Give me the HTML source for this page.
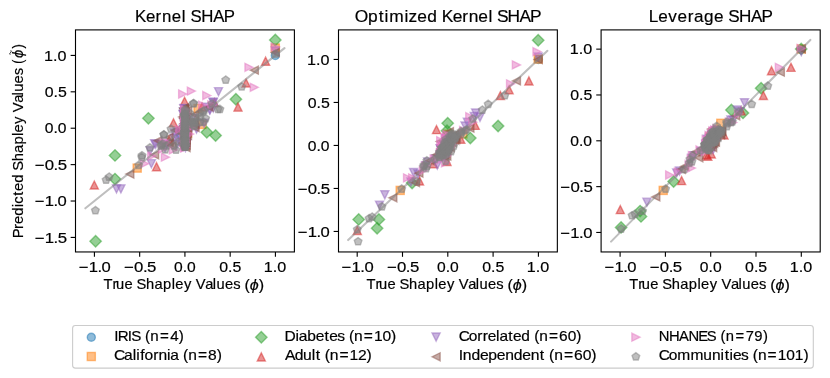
<!DOCTYPE html>
<html><head><meta charset="utf-8"><style>
html,body{margin:0;padding:0;background:#fff;width:830px;height:378px;overflow:hidden}
svg{display:block;will-change:transform}
text{font-family:"Liberation Sans",sans-serif;fill:#000;stroke:#000;stroke-width:0.18px}
</style></head><body>
<svg width="830" height="378" viewBox="0 0 830 378">
<rect width="830" height="378" fill="#fff"/>
<clipPath id="c0"><rect x="75.5" y="29.9" width="218.90" height="222.05"/></clipPath>
<g clip-path="url(#c0)">
<circle cx="275.30" cy="55.40" r="4.05" fill="#1f77b4" fill-opacity="0.5" stroke="#1f77b4" stroke-opacity="0.5" stroke-width="1.39"/>
<circle cx="180.14" cy="133.34" r="4.05" fill="#1f77b4" fill-opacity="0.5" stroke="#1f77b4" stroke-opacity="0.5" stroke-width="1.39"/>
<circle cx="185.86" cy="129.15" r="4.05" fill="#1f77b4" fill-opacity="0.5" stroke="#1f77b4" stroke-opacity="0.5" stroke-width="1.39"/>
<rect x="271.25" y="43.95" width="8.10" height="8.10" fill="#ff7f0e" fill-opacity="0.5" stroke="#ff7f0e" stroke-opacity="0.5" stroke-width="1.39"/>
<rect x="193.95" y="104.45" width="8.10" height="8.10" fill="#ff7f0e" fill-opacity="0.5" stroke="#ff7f0e" stroke-opacity="0.5" stroke-width="1.39"/>
<rect x="133.15" y="164.05" width="8.10" height="8.10" fill="#ff7f0e" fill-opacity="0.5" stroke="#ff7f0e" stroke-opacity="0.5" stroke-width="1.39"/>
<rect x="197.95" y="120.35" width="8.10" height="8.10" fill="#ff7f0e" fill-opacity="0.5" stroke="#ff7f0e" stroke-opacity="0.5" stroke-width="1.39"/>
<rect x="180.28" y="129.01" width="8.10" height="8.10" fill="#ff7f0e" fill-opacity="0.5" stroke="#ff7f0e" stroke-opacity="0.5" stroke-width="1.39"/>
<rect x="180.54" y="112.24" width="8.10" height="8.10" fill="#ff7f0e" fill-opacity="0.5" stroke="#ff7f0e" stroke-opacity="0.5" stroke-width="1.39"/>
<rect x="180.88" y="139.72" width="8.10" height="8.10" fill="#ff7f0e" fill-opacity="0.5" stroke="#ff7f0e" stroke-opacity="0.5" stroke-width="1.39"/>
<rect x="179.79" y="138.03" width="8.10" height="8.10" fill="#ff7f0e" fill-opacity="0.5" stroke="#ff7f0e" stroke-opacity="0.5" stroke-width="1.39"/>
<rect x="183.47" y="129.15" width="8.10" height="8.10" fill="#ff7f0e" fill-opacity="0.5" stroke="#ff7f0e" stroke-opacity="0.5" stroke-width="1.39"/>
<polygon points="275.30,34.27 281.03,40.00 275.30,45.73 269.57,40.00" fill="#2ca02c" fill-opacity="0.5" stroke="#2ca02c" stroke-opacity="0.5" stroke-width="1.39"/>
<polygon points="235.90,93.57 241.63,99.30 235.90,105.03 230.17,99.30" fill="#2ca02c" fill-opacity="0.5" stroke="#2ca02c" stroke-opacity="0.5" stroke-width="1.39"/>
<polygon points="206.80,126.57 212.53,132.30 206.80,138.03 201.07,132.30" fill="#2ca02c" fill-opacity="0.5" stroke="#2ca02c" stroke-opacity="0.5" stroke-width="1.39"/>
<polygon points="215.60,129.77 221.33,135.50 215.60,141.23 209.87,135.50" fill="#2ca02c" fill-opacity="0.5" stroke="#2ca02c" stroke-opacity="0.5" stroke-width="1.39"/>
<polygon points="148.40,112.62 154.13,118.35 148.40,124.08 142.67,118.35" fill="#2ca02c" fill-opacity="0.5" stroke="#2ca02c" stroke-opacity="0.5" stroke-width="1.39"/>
<polygon points="115.00,149.67 120.73,155.40 115.00,161.13 109.27,155.40" fill="#2ca02c" fill-opacity="0.5" stroke="#2ca02c" stroke-opacity="0.5" stroke-width="1.39"/>
<polygon points="115.00,173.37 120.73,179.10 115.00,184.83 109.27,179.10" fill="#2ca02c" fill-opacity="0.5" stroke="#2ca02c" stroke-opacity="0.5" stroke-width="1.39"/>
<polygon points="95.60,235.47 101.33,241.20 95.60,246.93 89.87,241.20" fill="#2ca02c" fill-opacity="0.5" stroke="#2ca02c" stroke-opacity="0.5" stroke-width="1.39"/>
<polygon points="265.60,57.15 269.65,65.25 261.55,65.25" fill="#d62728" fill-opacity="0.5" stroke="#d62728" stroke-opacity="0.5" stroke-width="1.39"/>
<polygon points="246.10,78.95 250.15,87.05 242.05,87.05" fill="#d62728" fill-opacity="0.5" stroke="#d62728" stroke-opacity="0.5" stroke-width="1.39"/>
<polygon points="238.00,103.05 242.05,111.15 233.95,111.15" fill="#d62728" fill-opacity="0.5" stroke="#d62728" stroke-opacity="0.5" stroke-width="1.39"/>
<polygon points="202.00,102.85 206.05,110.95 197.95,110.95" fill="#d62728" fill-opacity="0.5" stroke="#d62728" stroke-opacity="0.5" stroke-width="1.39"/>
<polygon points="156.50,162.65 160.55,170.75 152.45,170.75" fill="#d62728" fill-opacity="0.5" stroke="#d62728" stroke-opacity="0.5" stroke-width="1.39"/>
<polygon points="94.30,180.95 98.35,189.05 90.25,189.05" fill="#d62728" fill-opacity="0.5" stroke="#d62728" stroke-opacity="0.5" stroke-width="1.39"/>
<polygon points="184.60,97.25 188.65,105.35 180.55,105.35" fill="#d62728" fill-opacity="0.5" stroke="#d62728" stroke-opacity="0.5" stroke-width="1.39"/>
<polygon points="173.50,118.75 177.55,126.85 169.45,126.85" fill="#d62728" fill-opacity="0.5" stroke="#d62728" stroke-opacity="0.5" stroke-width="1.39"/>
<polygon points="169.00,135.95 173.05,144.05 164.95,144.05" fill="#d62728" fill-opacity="0.5" stroke="#d62728" stroke-opacity="0.5" stroke-width="1.39"/>
<polygon points="184.28,122.31 188.33,130.41 180.23,130.41" fill="#d62728" fill-opacity="0.5" stroke="#d62728" stroke-opacity="0.5" stroke-width="1.39"/>
<polygon points="214.36,98.56 218.41,106.66 210.31,106.66" fill="#d62728" fill-opacity="0.5" stroke="#d62728" stroke-opacity="0.5" stroke-width="1.39"/>
<polygon points="185.52,132.49 189.57,140.59 181.47,140.59" fill="#d62728" fill-opacity="0.5" stroke="#d62728" stroke-opacity="0.5" stroke-width="1.39"/>
<polygon points="184.07,110.14 188.12,118.24 180.02,118.24" fill="#d62728" fill-opacity="0.5" stroke="#d62728" stroke-opacity="0.5" stroke-width="1.39"/>
<polygon points="185.35,124.26 189.40,132.36 181.30,132.36" fill="#d62728" fill-opacity="0.5" stroke="#d62728" stroke-opacity="0.5" stroke-width="1.39"/>
<polygon points="184.11,108.50 188.16,116.60 180.06,116.60" fill="#d62728" fill-opacity="0.5" stroke="#d62728" stroke-opacity="0.5" stroke-width="1.39"/>
<polygon points="185.83,133.57 189.88,141.67 181.78,141.67" fill="#d62728" fill-opacity="0.5" stroke="#d62728" stroke-opacity="0.5" stroke-width="1.39"/>
<polygon points="275.30,55.05 279.35,46.95 271.25,46.95" fill="#9467bd" fill-opacity="0.5" stroke="#9467bd" stroke-opacity="0.5" stroke-width="1.39"/>
<polygon points="218.50,95.75 222.55,87.65 214.45,87.65" fill="#9467bd" fill-opacity="0.5" stroke="#9467bd" stroke-opacity="0.5" stroke-width="1.39"/>
<polygon points="213.20,106.85 217.25,98.75 209.15,98.75" fill="#9467bd" fill-opacity="0.5" stroke="#9467bd" stroke-opacity="0.5" stroke-width="1.39"/>
<polygon points="209.70,114.05 213.75,105.95 205.65,105.95" fill="#9467bd" fill-opacity="0.5" stroke="#9467bd" stroke-opacity="0.5" stroke-width="1.39"/>
<polygon points="155.60,148.45 159.65,140.35 151.55,140.35" fill="#9467bd" fill-opacity="0.5" stroke="#9467bd" stroke-opacity="0.5" stroke-width="1.39"/>
<polygon points="177.20,148.45 181.25,140.35 173.15,140.35" fill="#9467bd" fill-opacity="0.5" stroke="#9467bd" stroke-opacity="0.5" stroke-width="1.39"/>
<polygon points="151.40,167.75 155.45,159.65 147.35,159.65" fill="#9467bd" fill-opacity="0.5" stroke="#9467bd" stroke-opacity="0.5" stroke-width="1.39"/>
<polygon points="116.50,192.95 120.55,184.85 112.45,184.85" fill="#9467bd" fill-opacity="0.5" stroke="#9467bd" stroke-opacity="0.5" stroke-width="1.39"/>
<polygon points="120.90,192.95 124.95,184.85 116.85,184.85" fill="#9467bd" fill-opacity="0.5" stroke="#9467bd" stroke-opacity="0.5" stroke-width="1.39"/>
<polygon points="210.00,114.05 214.05,105.95 205.95,105.95" fill="#9467bd" fill-opacity="0.5" stroke="#9467bd" stroke-opacity="0.5" stroke-width="1.39"/>
<polygon points="213.20,106.15 217.25,98.05 209.15,98.05" fill="#9467bd" fill-opacity="0.5" stroke="#9467bd" stroke-opacity="0.5" stroke-width="1.39"/>
<polygon points="196.50,133.15 200.55,125.05 192.45,125.05" fill="#9467bd" fill-opacity="0.5" stroke="#9467bd" stroke-opacity="0.5" stroke-width="1.39"/>
<polygon points="154.60,147.75 158.65,139.65 150.55,139.65" fill="#9467bd" fill-opacity="0.5" stroke="#9467bd" stroke-opacity="0.5" stroke-width="1.39"/>
<polygon points="174.00,142.05 178.05,133.95 169.95,133.95" fill="#9467bd" fill-opacity="0.5" stroke="#9467bd" stroke-opacity="0.5" stroke-width="1.39"/>
<polygon points="177.00,136.05 181.05,127.95 172.95,127.95" fill="#9467bd" fill-opacity="0.5" stroke="#9467bd" stroke-opacity="0.5" stroke-width="1.39"/>
<polygon points="184.84,113.34 188.89,105.24 180.79,105.24" fill="#9467bd" fill-opacity="0.5" stroke="#9467bd" stroke-opacity="0.5" stroke-width="1.39"/>
<polygon points="183.73,118.60 187.78,110.50 179.68,110.50" fill="#9467bd" fill-opacity="0.5" stroke="#9467bd" stroke-opacity="0.5" stroke-width="1.39"/>
<polygon points="184.36,112.50 188.41,104.40 180.31,104.40" fill="#9467bd" fill-opacity="0.5" stroke="#9467bd" stroke-opacity="0.5" stroke-width="1.39"/>
<polygon points="183.57,138.91 187.62,130.81 179.52,130.81" fill="#9467bd" fill-opacity="0.5" stroke="#9467bd" stroke-opacity="0.5" stroke-width="1.39"/>
<polygon points="206.47,111.35 210.52,103.25 202.42,103.25" fill="#9467bd" fill-opacity="0.5" stroke="#9467bd" stroke-opacity="0.5" stroke-width="1.39"/>
<polygon points="192.67,122.28 196.72,114.18 188.62,114.18" fill="#9467bd" fill-opacity="0.5" stroke="#9467bd" stroke-opacity="0.5" stroke-width="1.39"/>
<polygon points="184.51,121.93 188.56,113.83 180.46,113.83" fill="#9467bd" fill-opacity="0.5" stroke="#9467bd" stroke-opacity="0.5" stroke-width="1.39"/>
<polygon points="183.69,126.63 187.74,118.53 179.64,118.53" fill="#9467bd" fill-opacity="0.5" stroke="#9467bd" stroke-opacity="0.5" stroke-width="1.39"/>
<polygon points="165.04,151.88 169.09,143.78 160.99,143.78" fill="#9467bd" fill-opacity="0.5" stroke="#9467bd" stroke-opacity="0.5" stroke-width="1.39"/>
<polygon points="184.56,134.12 188.61,126.02 180.51,126.02" fill="#9467bd" fill-opacity="0.5" stroke="#9467bd" stroke-opacity="0.5" stroke-width="1.39"/>
<polygon points="185.01,129.52 189.06,121.42 180.96,121.42" fill="#9467bd" fill-opacity="0.5" stroke="#9467bd" stroke-opacity="0.5" stroke-width="1.39"/>
<polygon points="186.90,147.84 190.95,139.74 182.85,139.74" fill="#9467bd" fill-opacity="0.5" stroke="#9467bd" stroke-opacity="0.5" stroke-width="1.39"/>
<polygon points="150.03,154.89 154.08,146.79 145.98,146.79" fill="#9467bd" fill-opacity="0.5" stroke="#9467bd" stroke-opacity="0.5" stroke-width="1.39"/>
<polygon points="184.37,133.75 188.42,125.65 180.32,125.65" fill="#9467bd" fill-opacity="0.5" stroke="#9467bd" stroke-opacity="0.5" stroke-width="1.39"/>
<polygon points="185.32,136.01 189.37,127.91 181.27,127.91" fill="#9467bd" fill-opacity="0.5" stroke="#9467bd" stroke-opacity="0.5" stroke-width="1.39"/>
<polygon points="185.08,146.94 189.13,138.84 181.03,138.84" fill="#9467bd" fill-opacity="0.5" stroke="#9467bd" stroke-opacity="0.5" stroke-width="1.39"/>
<polygon points="185.29,129.66 189.34,121.56 181.24,121.56" fill="#9467bd" fill-opacity="0.5" stroke="#9467bd" stroke-opacity="0.5" stroke-width="1.39"/>
<polygon points="213.30,112.16 217.35,104.06 209.25,104.06" fill="#9467bd" fill-opacity="0.5" stroke="#9467bd" stroke-opacity="0.5" stroke-width="1.39"/>
<polygon points="183.82,150.13 187.87,142.03 179.77,142.03" fill="#9467bd" fill-opacity="0.5" stroke="#9467bd" stroke-opacity="0.5" stroke-width="1.39"/>
<polygon points="186.07,124.77 190.12,116.67 182.02,116.67" fill="#9467bd" fill-opacity="0.5" stroke="#9467bd" stroke-opacity="0.5" stroke-width="1.39"/>
<polygon points="192.04,131.36 196.09,123.26 187.99,123.26" fill="#9467bd" fill-opacity="0.5" stroke="#9467bd" stroke-opacity="0.5" stroke-width="1.39"/>
<polygon points="185.81,117.08 189.86,108.98 181.76,108.98" fill="#9467bd" fill-opacity="0.5" stroke="#9467bd" stroke-opacity="0.5" stroke-width="1.39"/>
<polygon points="184.93,130.29 188.98,122.19 180.88,122.19" fill="#9467bd" fill-opacity="0.5" stroke="#9467bd" stroke-opacity="0.5" stroke-width="1.39"/>
<polygon points="185.75,125.01 189.80,116.91 181.70,116.91" fill="#9467bd" fill-opacity="0.5" stroke="#9467bd" stroke-opacity="0.5" stroke-width="1.39"/>
<polygon points="185.31,147.06 189.36,138.96 181.26,138.96" fill="#9467bd" fill-opacity="0.5" stroke="#9467bd" stroke-opacity="0.5" stroke-width="1.39"/>
<polygon points="184.66,147.36 188.71,139.26 180.61,139.26" fill="#9467bd" fill-opacity="0.5" stroke="#9467bd" stroke-opacity="0.5" stroke-width="1.39"/>
<polygon points="204.14,127.30 208.19,119.20 200.09,119.20" fill="#9467bd" fill-opacity="0.5" stroke="#9467bd" stroke-opacity="0.5" stroke-width="1.39"/>
<polygon points="183.76,112.78 187.81,104.68 179.71,104.68" fill="#9467bd" fill-opacity="0.5" stroke="#9467bd" stroke-opacity="0.5" stroke-width="1.39"/>
<polygon points="183.09,133.18 187.14,125.08 179.04,125.08" fill="#9467bd" fill-opacity="0.5" stroke="#9467bd" stroke-opacity="0.5" stroke-width="1.39"/>
<polygon points="185.79,127.33 189.84,119.23 181.74,119.23" fill="#9467bd" fill-opacity="0.5" stroke="#9467bd" stroke-opacity="0.5" stroke-width="1.39"/>
<polygon points="166.75,148.15 170.80,140.05 162.70,140.05" fill="#9467bd" fill-opacity="0.5" stroke="#9467bd" stroke-opacity="0.5" stroke-width="1.39"/>
<polygon points="185.69,122.13 189.74,114.03 181.64,114.03" fill="#9467bd" fill-opacity="0.5" stroke="#9467bd" stroke-opacity="0.5" stroke-width="1.39"/>
<polygon points="179.86,142.50 183.91,134.40 175.81,134.40" fill="#9467bd" fill-opacity="0.5" stroke="#9467bd" stroke-opacity="0.5" stroke-width="1.39"/>
<polygon points="183.80,148.80 187.85,140.70 179.75,140.70" fill="#9467bd" fill-opacity="0.5" stroke="#9467bd" stroke-opacity="0.5" stroke-width="1.39"/>
<polygon points="185.88,144.86 189.93,136.76 181.83,136.76" fill="#9467bd" fill-opacity="0.5" stroke="#9467bd" stroke-opacity="0.5" stroke-width="1.39"/>
<polygon points="183.08,150.33 187.13,142.23 179.03,142.23" fill="#9467bd" fill-opacity="0.5" stroke="#9467bd" stroke-opacity="0.5" stroke-width="1.39"/>
<polygon points="179.44,145.74 183.49,137.64 175.39,137.64" fill="#9467bd" fill-opacity="0.5" stroke="#9467bd" stroke-opacity="0.5" stroke-width="1.39"/>
<polygon points="183.03,118.72 187.08,110.62 178.98,110.62" fill="#9467bd" fill-opacity="0.5" stroke="#9467bd" stroke-opacity="0.5" stroke-width="1.39"/>
<polygon points="184.74,149.18 188.79,141.08 180.69,141.08" fill="#9467bd" fill-opacity="0.5" stroke="#9467bd" stroke-opacity="0.5" stroke-width="1.39"/>
<polygon points="185.56,122.09 189.61,113.99 181.51,113.99" fill="#9467bd" fill-opacity="0.5" stroke="#9467bd" stroke-opacity="0.5" stroke-width="1.39"/>
<polygon points="185.79,148.36 189.84,140.26 181.74,140.26" fill="#9467bd" fill-opacity="0.5" stroke="#9467bd" stroke-opacity="0.5" stroke-width="1.39"/>
<polygon points="183.41,118.32 187.46,110.22 179.36,110.22" fill="#9467bd" fill-opacity="0.5" stroke="#9467bd" stroke-opacity="0.5" stroke-width="1.39"/>
<polygon points="182.86,137.77 186.91,129.67 178.81,129.67" fill="#9467bd" fill-opacity="0.5" stroke="#9467bd" stroke-opacity="0.5" stroke-width="1.39"/>
<polygon points="185.36,141.28 189.41,133.18 181.31,133.18" fill="#9467bd" fill-opacity="0.5" stroke="#9467bd" stroke-opacity="0.5" stroke-width="1.39"/>
<polygon points="174.37,137.10 178.42,129.00 170.32,129.00" fill="#9467bd" fill-opacity="0.5" stroke="#9467bd" stroke-opacity="0.5" stroke-width="1.39"/>
<polygon points="185.58,137.82 189.63,129.72 181.53,129.72" fill="#9467bd" fill-opacity="0.5" stroke="#9467bd" stroke-opacity="0.5" stroke-width="1.39"/>
<polygon points="185.43,151.62 189.48,143.52 181.38,143.52" fill="#9467bd" fill-opacity="0.5" stroke="#9467bd" stroke-opacity="0.5" stroke-width="1.39"/>
<polygon points="183.36,115.73 187.41,107.63 179.31,107.63" fill="#9467bd" fill-opacity="0.5" stroke="#9467bd" stroke-opacity="0.5" stroke-width="1.39"/>
<polygon points="271.25,52.50 279.35,48.45 279.35,56.55" fill="#8c564b" fill-opacity="0.5" stroke="#8c564b" stroke-opacity="0.5" stroke-width="1.39"/>
<polygon points="250.25,70.20 258.35,66.15 258.35,74.25" fill="#8c564b" fill-opacity="0.5" stroke="#8c564b" stroke-opacity="0.5" stroke-width="1.39"/>
<polygon points="164.25,143.60 172.35,139.55 172.35,147.65" fill="#8c564b" fill-opacity="0.5" stroke="#8c564b" stroke-opacity="0.5" stroke-width="1.39"/>
<polygon points="125.75,174.10 133.85,170.05 133.85,178.15" fill="#8c564b" fill-opacity="0.5" stroke="#8c564b" stroke-opacity="0.5" stroke-width="1.39"/>
<polygon points="165.45,142.60 173.55,138.55 173.55,146.65" fill="#8c564b" fill-opacity="0.5" stroke="#8c564b" stroke-opacity="0.5" stroke-width="1.39"/>
<polygon points="167.95,146.00 176.05,141.95 176.05,150.05" fill="#8c564b" fill-opacity="0.5" stroke="#8c564b" stroke-opacity="0.5" stroke-width="1.39"/>
<polygon points="180.11,108.00 188.21,103.95 188.21,112.05" fill="#8c564b" fill-opacity="0.5" stroke="#8c564b" stroke-opacity="0.5" stroke-width="1.39"/>
<polygon points="180.24,133.33 188.34,129.28 188.34,137.38" fill="#8c564b" fill-opacity="0.5" stroke="#8c564b" stroke-opacity="0.5" stroke-width="1.39"/>
<polygon points="180.36,117.02 188.46,112.97 188.46,121.07" fill="#8c564b" fill-opacity="0.5" stroke="#8c564b" stroke-opacity="0.5" stroke-width="1.39"/>
<polygon points="181.03,115.58 189.13,111.53 189.13,119.63" fill="#8c564b" fill-opacity="0.5" stroke="#8c564b" stroke-opacity="0.5" stroke-width="1.39"/>
<polygon points="180.53,114.87 188.63,110.82 188.63,118.92" fill="#8c564b" fill-opacity="0.5" stroke="#8c564b" stroke-opacity="0.5" stroke-width="1.39"/>
<polygon points="181.67,141.88 189.77,137.83 189.77,145.93" fill="#8c564b" fill-opacity="0.5" stroke="#8c564b" stroke-opacity="0.5" stroke-width="1.39"/>
<polygon points="178.64,116.93 186.74,112.88 186.74,120.98" fill="#8c564b" fill-opacity="0.5" stroke="#8c564b" stroke-opacity="0.5" stroke-width="1.39"/>
<polygon points="180.74,109.91 188.84,105.86 188.84,113.96" fill="#8c564b" fill-opacity="0.5" stroke="#8c564b" stroke-opacity="0.5" stroke-width="1.39"/>
<polygon points="182.02,147.69 190.12,143.64 190.12,151.74" fill="#8c564b" fill-opacity="0.5" stroke="#8c564b" stroke-opacity="0.5" stroke-width="1.39"/>
<polygon points="182.58,123.75 190.68,119.70 190.68,127.80" fill="#8c564b" fill-opacity="0.5" stroke="#8c564b" stroke-opacity="0.5" stroke-width="1.39"/>
<polygon points="182.26,130.82 190.36,126.77 190.36,134.87" fill="#8c564b" fill-opacity="0.5" stroke="#8c564b" stroke-opacity="0.5" stroke-width="1.39"/>
<polygon points="189.71,124.08 197.81,120.03 197.81,128.13" fill="#8c564b" fill-opacity="0.5" stroke="#8c564b" stroke-opacity="0.5" stroke-width="1.39"/>
<polygon points="190.81,114.56 198.91,110.51 198.91,118.61" fill="#8c564b" fill-opacity="0.5" stroke="#8c564b" stroke-opacity="0.5" stroke-width="1.39"/>
<polygon points="180.77,108.96 188.87,104.91 188.87,113.01" fill="#8c564b" fill-opacity="0.5" stroke="#8c564b" stroke-opacity="0.5" stroke-width="1.39"/>
<polygon points="181.69,137.00 189.79,132.95 189.79,141.05" fill="#8c564b" fill-opacity="0.5" stroke="#8c564b" stroke-opacity="0.5" stroke-width="1.39"/>
<polygon points="179.87,131.24 187.97,127.19 187.97,135.29" fill="#8c564b" fill-opacity="0.5" stroke="#8c564b" stroke-opacity="0.5" stroke-width="1.39"/>
<polygon points="150.54,154.84 158.64,150.79 158.64,158.89" fill="#8c564b" fill-opacity="0.5" stroke="#8c564b" stroke-opacity="0.5" stroke-width="1.39"/>
<polygon points="180.73,145.26 188.83,141.21 188.83,149.31" fill="#8c564b" fill-opacity="0.5" stroke="#8c564b" stroke-opacity="0.5" stroke-width="1.39"/>
<polygon points="179.76,118.41 187.86,114.36 187.86,122.46" fill="#8c564b" fill-opacity="0.5" stroke="#8c564b" stroke-opacity="0.5" stroke-width="1.39"/>
<polygon points="153.96,140.74 162.06,136.69 162.06,144.79" fill="#8c564b" fill-opacity="0.5" stroke="#8c564b" stroke-opacity="0.5" stroke-width="1.39"/>
<polygon points="179.91,142.96 188.01,138.91 188.01,147.01" fill="#8c564b" fill-opacity="0.5" stroke="#8c564b" stroke-opacity="0.5" stroke-width="1.39"/>
<polygon points="181.79,140.67 189.89,136.62 189.89,144.72" fill="#8c564b" fill-opacity="0.5" stroke="#8c564b" stroke-opacity="0.5" stroke-width="1.39"/>
<polygon points="180.76,129.39 188.86,125.34 188.86,133.44" fill="#8c564b" fill-opacity="0.5" stroke="#8c564b" stroke-opacity="0.5" stroke-width="1.39"/>
<polygon points="191.03,127.60 199.13,123.55 199.13,131.65" fill="#8c564b" fill-opacity="0.5" stroke="#8c564b" stroke-opacity="0.5" stroke-width="1.39"/>
<polygon points="181.18,120.87 189.28,116.82 189.28,124.92" fill="#8c564b" fill-opacity="0.5" stroke="#8c564b" stroke-opacity="0.5" stroke-width="1.39"/>
<polygon points="189.95,121.75 198.05,117.70 198.05,125.80" fill="#8c564b" fill-opacity="0.5" stroke="#8c564b" stroke-opacity="0.5" stroke-width="1.39"/>
<polygon points="171.34,130.30 179.44,126.25 179.44,134.35" fill="#8c564b" fill-opacity="0.5" stroke="#8c564b" stroke-opacity="0.5" stroke-width="1.39"/>
<polygon points="164.95,137.32 173.05,133.27 173.05,141.37" fill="#8c564b" fill-opacity="0.5" stroke="#8c564b" stroke-opacity="0.5" stroke-width="1.39"/>
<polygon points="179.31,143.01 187.41,138.96 187.41,147.06" fill="#8c564b" fill-opacity="0.5" stroke="#8c564b" stroke-opacity="0.5" stroke-width="1.39"/>
<polygon points="179.90,123.62 188.00,119.57 188.00,127.67" fill="#8c564b" fill-opacity="0.5" stroke="#8c564b" stroke-opacity="0.5" stroke-width="1.39"/>
<polygon points="179.50,143.36 187.60,139.31 187.60,147.41" fill="#8c564b" fill-opacity="0.5" stroke="#8c564b" stroke-opacity="0.5" stroke-width="1.39"/>
<polygon points="204.93,107.02 213.03,102.97 213.03,111.07" fill="#8c564b" fill-opacity="0.5" stroke="#8c564b" stroke-opacity="0.5" stroke-width="1.39"/>
<polygon points="180.01,131.07 188.11,127.02 188.11,135.12" fill="#8c564b" fill-opacity="0.5" stroke="#8c564b" stroke-opacity="0.5" stroke-width="1.39"/>
<polygon points="181.77,116.77 189.87,112.72 189.87,120.82" fill="#8c564b" fill-opacity="0.5" stroke="#8c564b" stroke-opacity="0.5" stroke-width="1.39"/>
<polygon points="181.88,129.07 189.98,125.02 189.98,133.12" fill="#8c564b" fill-opacity="0.5" stroke="#8c564b" stroke-opacity="0.5" stroke-width="1.39"/>
<polygon points="180.57,123.82 188.67,119.77 188.67,127.87" fill="#8c564b" fill-opacity="0.5" stroke="#8c564b" stroke-opacity="0.5" stroke-width="1.39"/>
<polygon points="182.17,139.26 190.27,135.21 190.27,143.31" fill="#8c564b" fill-opacity="0.5" stroke="#8c564b" stroke-opacity="0.5" stroke-width="1.39"/>
<polygon points="180.25,138.69 188.35,134.64 188.35,142.74" fill="#8c564b" fill-opacity="0.5" stroke="#8c564b" stroke-opacity="0.5" stroke-width="1.39"/>
<polygon points="181.57,129.99 189.67,125.94 189.67,134.04" fill="#8c564b" fill-opacity="0.5" stroke="#8c564b" stroke-opacity="0.5" stroke-width="1.39"/>
<polygon points="179.95,139.30 188.05,135.25 188.05,143.35" fill="#8c564b" fill-opacity="0.5" stroke="#8c564b" stroke-opacity="0.5" stroke-width="1.39"/>
<polygon points="182.95,132.47 191.05,128.42 191.05,136.52" fill="#8c564b" fill-opacity="0.5" stroke="#8c564b" stroke-opacity="0.5" stroke-width="1.39"/>
<polygon points="180.10,108.19 188.20,104.14 188.20,112.24" fill="#8c564b" fill-opacity="0.5" stroke="#8c564b" stroke-opacity="0.5" stroke-width="1.39"/>
<polygon points="183.72,110.54 191.82,106.49 191.82,114.59" fill="#8c564b" fill-opacity="0.5" stroke="#8c564b" stroke-opacity="0.5" stroke-width="1.39"/>
<polygon points="180.54,108.80 188.64,104.75 188.64,112.85" fill="#8c564b" fill-opacity="0.5" stroke="#8c564b" stroke-opacity="0.5" stroke-width="1.39"/>
<polygon points="180.95,125.57 189.05,121.52 189.05,129.62" fill="#8c564b" fill-opacity="0.5" stroke="#8c564b" stroke-opacity="0.5" stroke-width="1.39"/>
<polygon points="182.13,144.96 190.23,140.91 190.23,149.01" fill="#8c564b" fill-opacity="0.5" stroke="#8c564b" stroke-opacity="0.5" stroke-width="1.39"/>
<polygon points="183.43,135.21 191.53,131.16 191.53,139.26" fill="#8c564b" fill-opacity="0.5" stroke="#8c564b" stroke-opacity="0.5" stroke-width="1.39"/>
<polygon points="190.52,123.15 198.62,119.10 198.62,127.20" fill="#8c564b" fill-opacity="0.5" stroke="#8c564b" stroke-opacity="0.5" stroke-width="1.39"/>
<polygon points="279.35,47.00 271.25,42.95 271.25,51.05" fill="#e377c2" fill-opacity="0.5" stroke="#e377c2" stroke-opacity="0.5" stroke-width="1.39"/>
<polygon points="253.05,67.30 244.95,63.25 244.95,71.35" fill="#e377c2" fill-opacity="0.5" stroke="#e377c2" stroke-opacity="0.5" stroke-width="1.39"/>
<polygon points="258.35,87.30 250.25,83.25 250.25,91.35" fill="#e377c2" fill-opacity="0.5" stroke="#e377c2" stroke-opacity="0.5" stroke-width="1.39"/>
<polygon points="195.45,91.10 187.35,87.05 187.35,95.15" fill="#e377c2" fill-opacity="0.5" stroke="#e377c2" stroke-opacity="0.5" stroke-width="1.39"/>
<polygon points="210.85,95.50 202.75,91.45 202.75,99.55" fill="#e377c2" fill-opacity="0.5" stroke="#e377c2" stroke-opacity="0.5" stroke-width="1.39"/>
<polygon points="186.75,94.00 178.65,89.95 178.65,98.05" fill="#e377c2" fill-opacity="0.5" stroke="#e377c2" stroke-opacity="0.5" stroke-width="1.39"/>
<polygon points="169.45,157.20 161.35,153.15 161.35,161.25" fill="#e377c2" fill-opacity="0.5" stroke="#e377c2" stroke-opacity="0.5" stroke-width="1.39"/>
<polygon points="148.65,163.70 140.55,159.65 140.55,167.75" fill="#e377c2" fill-opacity="0.5" stroke="#e377c2" stroke-opacity="0.5" stroke-width="1.39"/>
<polygon points="188.99,134.79 180.89,130.74 180.89,138.84" fill="#e377c2" fill-opacity="0.5" stroke="#e377c2" stroke-opacity="0.5" stroke-width="1.39"/>
<polygon points="189.00,129.51 180.90,125.46 180.90,133.56" fill="#e377c2" fill-opacity="0.5" stroke="#e377c2" stroke-opacity="0.5" stroke-width="1.39"/>
<polygon points="188.76,137.08 180.66,133.03 180.66,141.13" fill="#e377c2" fill-opacity="0.5" stroke="#e377c2" stroke-opacity="0.5" stroke-width="1.39"/>
<polygon points="189.31,141.78 181.21,137.73 181.21,145.83" fill="#e377c2" fill-opacity="0.5" stroke="#e377c2" stroke-opacity="0.5" stroke-width="1.39"/>
<polygon points="189.33,145.55 181.23,141.50 181.23,149.60" fill="#e377c2" fill-opacity="0.5" stroke="#e377c2" stroke-opacity="0.5" stroke-width="1.39"/>
<polygon points="189.17,130.46 181.07,126.41 181.07,134.51" fill="#e377c2" fill-opacity="0.5" stroke="#e377c2" stroke-opacity="0.5" stroke-width="1.39"/>
<polygon points="188.10,128.05 180.00,124.00 180.00,132.10" fill="#e377c2" fill-opacity="0.5" stroke="#e377c2" stroke-opacity="0.5" stroke-width="1.39"/>
<polygon points="188.75,142.77 180.65,138.72 180.65,146.82" fill="#e377c2" fill-opacity="0.5" stroke="#e377c2" stroke-opacity="0.5" stroke-width="1.39"/>
<polygon points="188.64,123.16 180.54,119.11 180.54,127.21" fill="#e377c2" fill-opacity="0.5" stroke="#e377c2" stroke-opacity="0.5" stroke-width="1.39"/>
<polygon points="188.83,141.49 180.73,137.44 180.73,145.54" fill="#e377c2" fill-opacity="0.5" stroke="#e377c2" stroke-opacity="0.5" stroke-width="1.39"/>
<polygon points="183.86,129.57 175.76,125.52 175.76,133.62" fill="#e377c2" fill-opacity="0.5" stroke="#e377c2" stroke-opacity="0.5" stroke-width="1.39"/>
<polygon points="189.31,128.00 181.21,123.95 181.21,132.05" fill="#e377c2" fill-opacity="0.5" stroke="#e377c2" stroke-opacity="0.5" stroke-width="1.39"/>
<polygon points="188.70,137.17 180.60,133.12 180.60,141.22" fill="#e377c2" fill-opacity="0.5" stroke="#e377c2" stroke-opacity="0.5" stroke-width="1.39"/>
<polygon points="188.66,132.67 180.56,128.62 180.56,136.72" fill="#e377c2" fill-opacity="0.5" stroke="#e377c2" stroke-opacity="0.5" stroke-width="1.39"/>
<polygon points="188.98,112.19 180.88,108.14 180.88,116.24" fill="#e377c2" fill-opacity="0.5" stroke="#e377c2" stroke-opacity="0.5" stroke-width="1.39"/>
<polygon points="188.89,121.39 180.79,117.34 180.79,125.44" fill="#e377c2" fill-opacity="0.5" stroke="#e377c2" stroke-opacity="0.5" stroke-width="1.39"/>
<polygon points="189.05,112.38 180.95,108.33 180.95,116.43" fill="#e377c2" fill-opacity="0.5" stroke="#e377c2" stroke-opacity="0.5" stroke-width="1.39"/>
<polygon points="188.90,142.14 180.80,138.09 180.80,146.19" fill="#e377c2" fill-opacity="0.5" stroke="#e377c2" stroke-opacity="0.5" stroke-width="1.39"/>
<polygon points="188.98,110.65 180.88,106.60 180.88,114.70" fill="#e377c2" fill-opacity="0.5" stroke="#e377c2" stroke-opacity="0.5" stroke-width="1.39"/>
<polygon points="189.20,116.52 181.10,112.47 181.10,120.57" fill="#e377c2" fill-opacity="0.5" stroke="#e377c2" stroke-opacity="0.5" stroke-width="1.39"/>
<polygon points="188.77,109.40 180.67,105.35 180.67,113.45" fill="#e377c2" fill-opacity="0.5" stroke="#e377c2" stroke-opacity="0.5" stroke-width="1.39"/>
<polygon points="168.59,143.39 160.49,139.34 160.49,147.44" fill="#e377c2" fill-opacity="0.5" stroke="#e377c2" stroke-opacity="0.5" stroke-width="1.39"/>
<polygon points="189.65,122.11 181.55,118.06 181.55,126.16" fill="#e377c2" fill-opacity="0.5" stroke="#e377c2" stroke-opacity="0.5" stroke-width="1.39"/>
<polygon points="189.19,129.66 181.09,125.61 181.09,133.71" fill="#e377c2" fill-opacity="0.5" stroke="#e377c2" stroke-opacity="0.5" stroke-width="1.39"/>
<polygon points="189.10,130.69 181.00,126.64 181.00,134.74" fill="#e377c2" fill-opacity="0.5" stroke="#e377c2" stroke-opacity="0.5" stroke-width="1.39"/>
<polygon points="189.46,129.70 181.36,125.65 181.36,133.75" fill="#e377c2" fill-opacity="0.5" stroke="#e377c2" stroke-opacity="0.5" stroke-width="1.39"/>
<polygon points="189.17,122.94 181.07,118.89 181.07,126.99" fill="#e377c2" fill-opacity="0.5" stroke="#e377c2" stroke-opacity="0.5" stroke-width="1.39"/>
<polygon points="189.24,133.24 181.14,129.19 181.14,137.29" fill="#e377c2" fill-opacity="0.5" stroke="#e377c2" stroke-opacity="0.5" stroke-width="1.39"/>
<polygon points="188.94,133.59 180.84,129.54 180.84,137.64" fill="#e377c2" fill-opacity="0.5" stroke="#e377c2" stroke-opacity="0.5" stroke-width="1.39"/>
<polygon points="188.86,144.38 180.76,140.33 180.76,148.43" fill="#e377c2" fill-opacity="0.5" stroke="#e377c2" stroke-opacity="0.5" stroke-width="1.39"/>
<polygon points="215.88,104.85 207.78,100.80 207.78,108.90" fill="#e377c2" fill-opacity="0.5" stroke="#e377c2" stroke-opacity="0.5" stroke-width="1.39"/>
<polygon points="189.37,134.93 181.27,130.88 181.27,138.98" fill="#e377c2" fill-opacity="0.5" stroke="#e377c2" stroke-opacity="0.5" stroke-width="1.39"/>
<polygon points="189.24,114.27 181.14,110.22 181.14,118.32" fill="#e377c2" fill-opacity="0.5" stroke="#e377c2" stroke-opacity="0.5" stroke-width="1.39"/>
<polygon points="194.45,127.48 186.35,123.43 186.35,131.53" fill="#e377c2" fill-opacity="0.5" stroke="#e377c2" stroke-opacity="0.5" stroke-width="1.39"/>
<polygon points="189.62,120.73 181.52,116.68 181.52,124.78" fill="#e377c2" fill-opacity="0.5" stroke="#e377c2" stroke-opacity="0.5" stroke-width="1.39"/>
<polygon points="188.91,139.11 180.81,135.06 180.81,143.16" fill="#e377c2" fill-opacity="0.5" stroke="#e377c2" stroke-opacity="0.5" stroke-width="1.39"/>
<polygon points="169.77,141.72 161.67,137.67 161.67,145.77" fill="#e377c2" fill-opacity="0.5" stroke="#e377c2" stroke-opacity="0.5" stroke-width="1.39"/>
<polygon points="189.41,122.36 181.31,118.31 181.31,126.41" fill="#e377c2" fill-opacity="0.5" stroke="#e377c2" stroke-opacity="0.5" stroke-width="1.39"/>
<polygon points="189.20,147.61 181.10,143.56 181.10,151.66" fill="#e377c2" fill-opacity="0.5" stroke="#e377c2" stroke-opacity="0.5" stroke-width="1.39"/>
<polygon points="189.03,139.05 180.93,135.00 180.93,143.10" fill="#e377c2" fill-opacity="0.5" stroke="#e377c2" stroke-opacity="0.5" stroke-width="1.39"/>
<polygon points="188.80,116.13 180.70,112.08 180.70,120.18" fill="#e377c2" fill-opacity="0.5" stroke="#e377c2" stroke-opacity="0.5" stroke-width="1.39"/>
<polygon points="166.58,149.18 158.48,145.13 158.48,153.23" fill="#e377c2" fill-opacity="0.5" stroke="#e377c2" stroke-opacity="0.5" stroke-width="1.39"/>
<polygon points="188.45,116.75 180.35,112.70 180.35,120.80" fill="#e377c2" fill-opacity="0.5" stroke="#e377c2" stroke-opacity="0.5" stroke-width="1.39"/>
<polygon points="177.43,149.94 169.33,145.89 169.33,153.99" fill="#e377c2" fill-opacity="0.5" stroke="#e377c2" stroke-opacity="0.5" stroke-width="1.39"/>
<polygon points="188.82,139.57 180.72,135.52 180.72,143.62" fill="#e377c2" fill-opacity="0.5" stroke="#e377c2" stroke-opacity="0.5" stroke-width="1.39"/>
<polygon points="188.50,139.08 180.40,135.03 180.40,143.13" fill="#e377c2" fill-opacity="0.5" stroke="#e377c2" stroke-opacity="0.5" stroke-width="1.39"/>
<polygon points="189.03,124.83 180.93,120.78 180.93,128.88" fill="#e377c2" fill-opacity="0.5" stroke="#e377c2" stroke-opacity="0.5" stroke-width="1.39"/>
<polygon points="189.05,121.95 180.95,117.90 180.95,126.00" fill="#e377c2" fill-opacity="0.5" stroke="#e377c2" stroke-opacity="0.5" stroke-width="1.39"/>
<polygon points="189.04,132.63 180.94,128.58 180.94,136.68" fill="#e377c2" fill-opacity="0.5" stroke="#e377c2" stroke-opacity="0.5" stroke-width="1.39"/>
<polygon points="188.98,142.67 180.88,138.62 180.88,146.72" fill="#e377c2" fill-opacity="0.5" stroke="#e377c2" stroke-opacity="0.5" stroke-width="1.39"/>
<polygon points="189.50,114.36 181.40,110.31 181.40,118.41" fill="#e377c2" fill-opacity="0.5" stroke="#e377c2" stroke-opacity="0.5" stroke-width="1.39"/>
<polygon points="188.84,141.52 180.74,137.47 180.74,145.57" fill="#e377c2" fill-opacity="0.5" stroke="#e377c2" stroke-opacity="0.5" stroke-width="1.39"/>
<polygon points="189.20,136.93 181.10,132.88 181.10,140.98" fill="#e377c2" fill-opacity="0.5" stroke="#e377c2" stroke-opacity="0.5" stroke-width="1.39"/>
<polygon points="188.94,126.22 180.84,122.17 180.84,130.27" fill="#e377c2" fill-opacity="0.5" stroke="#e377c2" stroke-opacity="0.5" stroke-width="1.39"/>
<polygon points="155.87,156.01 147.77,151.96 147.77,160.06" fill="#e377c2" fill-opacity="0.5" stroke="#e377c2" stroke-opacity="0.5" stroke-width="1.39"/>
<polygon points="188.49,141.14 180.39,137.09 180.39,145.19" fill="#e377c2" fill-opacity="0.5" stroke="#e377c2" stroke-opacity="0.5" stroke-width="1.39"/>
<polygon points="188.85,147.81 180.75,143.76 180.75,151.86" fill="#e377c2" fill-opacity="0.5" stroke="#e377c2" stroke-opacity="0.5" stroke-width="1.39"/>
<polygon points="189.05,144.09 180.95,140.04 180.95,148.14" fill="#e377c2" fill-opacity="0.5" stroke="#e377c2" stroke-opacity="0.5" stroke-width="1.39"/>
<polygon points="188.54,145.60 180.44,141.55 180.44,149.65" fill="#e377c2" fill-opacity="0.5" stroke="#e377c2" stroke-opacity="0.5" stroke-width="1.39"/>
<polygon points="189.54,136.40 181.44,132.35 181.44,140.45" fill="#e377c2" fill-opacity="0.5" stroke="#e377c2" stroke-opacity="0.5" stroke-width="1.39"/>
<polygon points="188.87,140.71 180.77,136.66 180.77,144.76" fill="#e377c2" fill-opacity="0.5" stroke="#e377c2" stroke-opacity="0.5" stroke-width="1.39"/>
<polygon points="206.78,105.25 198.68,101.20 198.68,109.30" fill="#e377c2" fill-opacity="0.5" stroke="#e377c2" stroke-opacity="0.5" stroke-width="1.39"/>
<polygon points="188.78,113.80 180.68,109.75 180.68,117.85" fill="#e377c2" fill-opacity="0.5" stroke="#e377c2" stroke-opacity="0.5" stroke-width="1.39"/>
<polygon points="188.86,132.90 180.76,128.85 180.76,136.95" fill="#e377c2" fill-opacity="0.5" stroke="#e377c2" stroke-opacity="0.5" stroke-width="1.39"/>
<polygon points="189.24,129.23 181.14,125.18 181.14,133.28" fill="#e377c2" fill-opacity="0.5" stroke="#e377c2" stroke-opacity="0.5" stroke-width="1.39"/>
<polygon points="189.06,117.85 180.96,113.80 180.96,121.90" fill="#e377c2" fill-opacity="0.5" stroke="#e377c2" stroke-opacity="0.5" stroke-width="1.39"/>
<polygon points="193.68,134.01 185.58,129.96 185.58,138.06" fill="#e377c2" fill-opacity="0.5" stroke="#e377c2" stroke-opacity="0.5" stroke-width="1.39"/>
<polygon points="188.75,112.95 180.65,108.90 180.65,117.00" fill="#e377c2" fill-opacity="0.5" stroke="#e377c2" stroke-opacity="0.5" stroke-width="1.39"/>
<polygon points="189.11,126.27 181.01,122.22 181.01,130.32" fill="#e377c2" fill-opacity="0.5" stroke="#e377c2" stroke-opacity="0.5" stroke-width="1.39"/>
<polygon points="189.15,139.95 181.05,135.90 181.05,144.00" fill="#e377c2" fill-opacity="0.5" stroke="#e377c2" stroke-opacity="0.5" stroke-width="1.39"/>
<polygon points="275.30,49.95 271.45,52.75 272.92,57.28 277.68,57.28 279.15,52.75" fill="#7f7f7f" fill-opacity="0.5" stroke="#7f7f7f" stroke-opacity="0.5" stroke-width="1.39"/>
<polygon points="225.70,75.95 221.85,78.75 223.32,83.28 228.08,83.28 229.55,78.75" fill="#7f7f7f" fill-opacity="0.5" stroke="#7f7f7f" stroke-opacity="0.5" stroke-width="1.39"/>
<polygon points="241.70,82.75 237.85,85.55 239.32,90.08 244.08,90.08 245.55,85.55" fill="#7f7f7f" fill-opacity="0.5" stroke="#7f7f7f" stroke-opacity="0.5" stroke-width="1.39"/>
<polygon points="193.70,99.25 189.85,102.05 191.32,106.58 196.08,106.58 197.55,102.05" fill="#7f7f7f" fill-opacity="0.5" stroke="#7f7f7f" stroke-opacity="0.5" stroke-width="1.39"/>
<polygon points="219.90,105.15 216.05,107.95 217.52,112.48 222.28,112.48 223.75,107.95" fill="#7f7f7f" fill-opacity="0.5" stroke="#7f7f7f" stroke-opacity="0.5" stroke-width="1.39"/>
<polygon points="163.80,130.75 159.95,133.55 161.42,138.08 166.18,138.08 167.65,133.55" fill="#7f7f7f" fill-opacity="0.5" stroke="#7f7f7f" stroke-opacity="0.5" stroke-width="1.39"/>
<polygon points="141.70,153.15 137.85,155.95 139.32,160.48 144.08,160.48 145.55,155.95" fill="#7f7f7f" fill-opacity="0.5" stroke="#7f7f7f" stroke-opacity="0.5" stroke-width="1.39"/>
<polygon points="160.90,141.85 157.05,144.65 158.52,149.18 163.28,149.18 164.75,144.65" fill="#7f7f7f" fill-opacity="0.5" stroke="#7f7f7f" stroke-opacity="0.5" stroke-width="1.39"/>
<polygon points="138.70,161.15 134.85,163.95 136.32,168.48 141.08,168.48 142.55,163.95" fill="#7f7f7f" fill-opacity="0.5" stroke="#7f7f7f" stroke-opacity="0.5" stroke-width="1.39"/>
<polygon points="106.10,175.95 102.25,178.75 103.72,183.28 108.48,183.28 109.95,178.75" fill="#7f7f7f" fill-opacity="0.5" stroke="#7f7f7f" stroke-opacity="0.5" stroke-width="1.39"/>
<polygon points="109.10,172.95 105.25,175.75 106.72,180.28 111.48,180.28 112.95,175.75" fill="#7f7f7f" fill-opacity="0.5" stroke="#7f7f7f" stroke-opacity="0.5" stroke-width="1.39"/>
<polygon points="95.40,206.45 91.55,209.25 93.02,213.78 97.78,213.78 99.25,209.25" fill="#7f7f7f" fill-opacity="0.5" stroke="#7f7f7f" stroke-opacity="0.5" stroke-width="1.39"/>
<polygon points="193.30,99.65 189.45,102.45 190.92,106.98 195.68,106.98 197.15,102.45" fill="#7f7f7f" fill-opacity="0.5" stroke="#7f7f7f" stroke-opacity="0.5" stroke-width="1.39"/>
<polygon points="202.90,107.65 199.05,110.45 200.52,114.98 205.28,114.98 206.75,110.45" fill="#7f7f7f" fill-opacity="0.5" stroke="#7f7f7f" stroke-opacity="0.5" stroke-width="1.39"/>
<polygon points="203.70,117.95 199.85,120.75 201.32,125.28 206.08,125.28 207.55,120.75" fill="#7f7f7f" fill-opacity="0.5" stroke="#7f7f7f" stroke-opacity="0.5" stroke-width="1.39"/>
<polygon points="218.00,105.25 214.15,108.05 215.62,112.58 220.38,112.58 221.85,108.05" fill="#7f7f7f" fill-opacity="0.5" stroke="#7f7f7f" stroke-opacity="0.5" stroke-width="1.39"/>
<polygon points="164.00,130.65 160.15,133.45 161.62,137.98 166.38,137.98 167.85,133.45" fill="#7f7f7f" fill-opacity="0.5" stroke="#7f7f7f" stroke-opacity="0.5" stroke-width="1.39"/>
<polygon points="161.60,140.95 157.75,143.75 159.22,148.28 163.98,148.28 165.45,143.75" fill="#7f7f7f" fill-opacity="0.5" stroke="#7f7f7f" stroke-opacity="0.5" stroke-width="1.39"/>
<polygon points="149.90,143.65 146.05,146.45 147.52,150.98 152.28,150.98 153.75,146.45" fill="#7f7f7f" fill-opacity="0.5" stroke="#7f7f7f" stroke-opacity="0.5" stroke-width="1.39"/>
<polygon points="142.00,151.55 138.15,154.35 139.62,158.88 144.38,158.88 145.85,154.35" fill="#7f7f7f" fill-opacity="0.5" stroke="#7f7f7f" stroke-opacity="0.5" stroke-width="1.39"/>
<polygon points="171.00,124.95 167.15,127.75 168.62,132.28 173.38,132.28 174.85,127.75" fill="#7f7f7f" fill-opacity="0.5" stroke="#7f7f7f" stroke-opacity="0.5" stroke-width="1.39"/>
<polygon points="176.00,145.95 172.15,148.75 173.62,153.28 178.38,153.28 179.85,148.75" fill="#7f7f7f" fill-opacity="0.5" stroke="#7f7f7f" stroke-opacity="0.5" stroke-width="1.39"/>
<polygon points="185.47,126.57 181.61,129.37 183.08,133.90 187.85,133.90 189.32,129.37" fill="#7f7f7f" fill-opacity="0.5" stroke="#7f7f7f" stroke-opacity="0.5" stroke-width="1.39"/>
<polygon points="185.26,110.54 181.41,113.34 182.88,117.87 187.64,117.87 189.11,113.34" fill="#7f7f7f" fill-opacity="0.5" stroke="#7f7f7f" stroke-opacity="0.5" stroke-width="1.39"/>
<polygon points="193.82,113.56 189.96,116.36 191.43,120.89 196.20,120.89 197.67,116.36" fill="#7f7f7f" fill-opacity="0.5" stroke="#7f7f7f" stroke-opacity="0.5" stroke-width="1.39"/>
<polygon points="185.28,136.80 181.43,139.60 182.90,144.13 187.66,144.13 189.13,139.60" fill="#7f7f7f" fill-opacity="0.5" stroke="#7f7f7f" stroke-opacity="0.5" stroke-width="1.39"/>
<polygon points="184.79,133.46 180.93,136.26 182.41,140.79 187.17,140.79 188.64,136.26" fill="#7f7f7f" fill-opacity="0.5" stroke="#7f7f7f" stroke-opacity="0.5" stroke-width="1.39"/>
<polygon points="194.35,122.11 190.50,124.90 191.97,129.43 196.73,129.43 198.20,124.90" fill="#7f7f7f" fill-opacity="0.5" stroke="#7f7f7f" stroke-opacity="0.5" stroke-width="1.39"/>
<polygon points="184.76,143.04 180.91,145.84 182.38,150.37 187.14,150.37 188.62,145.84" fill="#7f7f7f" fill-opacity="0.5" stroke="#7f7f7f" stroke-opacity="0.5" stroke-width="1.39"/>
<polygon points="184.70,140.62 180.85,143.42 182.32,147.94 187.08,147.94 188.56,143.42" fill="#7f7f7f" fill-opacity="0.5" stroke="#7f7f7f" stroke-opacity="0.5" stroke-width="1.39"/>
<polygon points="200.05,118.11 196.20,120.91 197.67,125.44 202.43,125.44 203.90,120.91" fill="#7f7f7f" fill-opacity="0.5" stroke="#7f7f7f" stroke-opacity="0.5" stroke-width="1.39"/>
<polygon points="185.32,142.25 181.46,145.05 182.93,149.58 187.70,149.58 189.17,145.05" fill="#7f7f7f" fill-opacity="0.5" stroke="#7f7f7f" stroke-opacity="0.5" stroke-width="1.39"/>
<polygon points="184.73,127.46 180.88,130.26 182.35,134.79 187.11,134.79 188.58,130.26" fill="#7f7f7f" fill-opacity="0.5" stroke="#7f7f7f" stroke-opacity="0.5" stroke-width="1.39"/>
<polygon points="185.50,116.56 181.65,119.36 183.12,123.89 187.88,123.89 189.35,119.36" fill="#7f7f7f" fill-opacity="0.5" stroke="#7f7f7f" stroke-opacity="0.5" stroke-width="1.39"/>
<polygon points="184.81,135.92 180.96,138.72 182.43,143.25 187.19,143.25 188.66,138.72" fill="#7f7f7f" fill-opacity="0.5" stroke="#7f7f7f" stroke-opacity="0.5" stroke-width="1.39"/>
<polygon points="185.39,128.19 181.54,130.99 183.01,135.51 187.78,135.51 189.25,130.99" fill="#7f7f7f" fill-opacity="0.5" stroke="#7f7f7f" stroke-opacity="0.5" stroke-width="1.39"/>
<polygon points="184.94,130.52 181.09,133.31 182.56,137.84 187.32,137.84 188.79,133.31" fill="#7f7f7f" fill-opacity="0.5" stroke="#7f7f7f" stroke-opacity="0.5" stroke-width="1.39"/>
<polygon points="184.58,142.88 180.73,145.68 182.20,150.21 186.96,150.21 188.43,145.68" fill="#7f7f7f" fill-opacity="0.5" stroke="#7f7f7f" stroke-opacity="0.5" stroke-width="1.39"/>
<polygon points="184.53,132.32 180.68,135.12 182.15,139.65 186.91,139.65 188.38,135.12" fill="#7f7f7f" fill-opacity="0.5" stroke="#7f7f7f" stroke-opacity="0.5" stroke-width="1.39"/>
<polygon points="184.42,135.48 180.57,138.28 182.04,142.81 186.80,142.81 188.27,138.28" fill="#7f7f7f" fill-opacity="0.5" stroke="#7f7f7f" stroke-opacity="0.5" stroke-width="1.39"/>
<polygon points="184.81,134.77 180.96,137.57 182.43,142.10 187.19,142.10 188.67,137.57" fill="#7f7f7f" fill-opacity="0.5" stroke="#7f7f7f" stroke-opacity="0.5" stroke-width="1.39"/>
<polygon points="185.00,127.32 181.15,130.12 182.62,134.65 187.38,134.65 188.85,130.12" fill="#7f7f7f" fill-opacity="0.5" stroke="#7f7f7f" stroke-opacity="0.5" stroke-width="1.39"/>
<polygon points="184.88,124.65 181.03,127.44 182.50,131.97 187.26,131.97 188.73,127.44" fill="#7f7f7f" fill-opacity="0.5" stroke="#7f7f7f" stroke-opacity="0.5" stroke-width="1.39"/>
<polygon points="184.95,128.30 181.10,131.10 182.57,135.62 187.33,135.62 188.81,131.10" fill="#7f7f7f" fill-opacity="0.5" stroke="#7f7f7f" stroke-opacity="0.5" stroke-width="1.39"/>
<polygon points="184.71,140.24 180.86,143.03 182.33,147.56 187.09,147.56 188.56,143.03" fill="#7f7f7f" fill-opacity="0.5" stroke="#7f7f7f" stroke-opacity="0.5" stroke-width="1.39"/>
<polygon points="205.62,114.40 201.76,117.20 203.24,121.73 208.00,121.73 209.47,117.20" fill="#7f7f7f" fill-opacity="0.5" stroke="#7f7f7f" stroke-opacity="0.5" stroke-width="1.39"/>
<polygon points="184.65,142.94 180.80,145.74 182.27,150.26 187.03,150.26 188.50,145.74" fill="#7f7f7f" fill-opacity="0.5" stroke="#7f7f7f" stroke-opacity="0.5" stroke-width="1.39"/>
<polygon points="195.01,117.46 191.16,120.26 192.63,124.79 197.39,124.79 198.86,120.26" fill="#7f7f7f" fill-opacity="0.5" stroke="#7f7f7f" stroke-opacity="0.5" stroke-width="1.39"/>
<polygon points="189.65,120.18 185.80,122.98 187.27,127.50 192.03,127.50 193.50,122.98" fill="#7f7f7f" fill-opacity="0.5" stroke="#7f7f7f" stroke-opacity="0.5" stroke-width="1.39"/>
<polygon points="185.55,142.92 181.69,145.72 183.17,150.24 187.93,150.24 189.40,145.72" fill="#7f7f7f" fill-opacity="0.5" stroke="#7f7f7f" stroke-opacity="0.5" stroke-width="1.39"/>
<polygon points="185.08,118.05 181.23,120.85 182.70,125.38 187.46,125.38 188.93,120.85" fill="#7f7f7f" fill-opacity="0.5" stroke="#7f7f7f" stroke-opacity="0.5" stroke-width="1.39"/>
<polygon points="184.82,120.09 180.97,122.89 182.44,127.41 187.20,127.41 188.68,122.89" fill="#7f7f7f" fill-opacity="0.5" stroke="#7f7f7f" stroke-opacity="0.5" stroke-width="1.39"/>
<polygon points="165.20,145.64 161.35,148.44 162.82,152.97 167.58,152.97 169.05,148.44" fill="#7f7f7f" fill-opacity="0.5" stroke="#7f7f7f" stroke-opacity="0.5" stroke-width="1.39"/>
<polygon points="185.07,127.97 181.22,130.77 182.69,135.30 187.45,135.30 188.92,130.77" fill="#7f7f7f" fill-opacity="0.5" stroke="#7f7f7f" stroke-opacity="0.5" stroke-width="1.39"/>
<polygon points="185.01,129.09 181.15,131.89 182.62,136.42 187.39,136.42 188.86,131.89" fill="#7f7f7f" fill-opacity="0.5" stroke="#7f7f7f" stroke-opacity="0.5" stroke-width="1.39"/>
<polygon points="184.91,138.58 181.05,141.38 182.53,145.91 187.29,145.91 188.76,141.38" fill="#7f7f7f" fill-opacity="0.5" stroke="#7f7f7f" stroke-opacity="0.5" stroke-width="1.39"/>
<polygon points="189.97,109.35 186.12,112.15 187.59,116.67 192.35,116.67 193.82,112.15" fill="#7f7f7f" fill-opacity="0.5" stroke="#7f7f7f" stroke-opacity="0.5" stroke-width="1.39"/>
<polygon points="184.94,117.58 181.08,120.38 182.56,124.91 187.32,124.91 188.79,120.38" fill="#7f7f7f" fill-opacity="0.5" stroke="#7f7f7f" stroke-opacity="0.5" stroke-width="1.39"/>
<polygon points="184.40,134.59 180.54,137.39 182.02,141.92 186.78,141.92 188.25,137.39" fill="#7f7f7f" fill-opacity="0.5" stroke="#7f7f7f" stroke-opacity="0.5" stroke-width="1.39"/>
<polygon points="184.59,122.68 180.74,125.48 182.21,130.00 186.97,130.00 188.44,125.48" fill="#7f7f7f" fill-opacity="0.5" stroke="#7f7f7f" stroke-opacity="0.5" stroke-width="1.39"/>
<polygon points="184.49,130.96 180.64,133.76 182.11,138.28 186.87,138.28 188.34,133.76" fill="#7f7f7f" fill-opacity="0.5" stroke="#7f7f7f" stroke-opacity="0.5" stroke-width="1.39"/>
<polygon points="184.37,131.74 180.52,134.53 181.99,139.06 186.76,139.06 188.23,134.53" fill="#7f7f7f" fill-opacity="0.5" stroke="#7f7f7f" stroke-opacity="0.5" stroke-width="1.39"/>
<polygon points="185.19,112.02 181.34,114.82 182.81,119.34 187.57,119.34 189.04,114.82" fill="#7f7f7f" fill-opacity="0.5" stroke="#7f7f7f" stroke-opacity="0.5" stroke-width="1.39"/>
<polygon points="184.78,124.89 180.93,127.69 182.40,132.22 187.16,132.22 188.64,127.69" fill="#7f7f7f" fill-opacity="0.5" stroke="#7f7f7f" stroke-opacity="0.5" stroke-width="1.39"/>
<polygon points="184.94,123.22 181.09,126.02 182.56,130.55 187.32,130.55 188.79,126.02" fill="#7f7f7f" fill-opacity="0.5" stroke="#7f7f7f" stroke-opacity="0.5" stroke-width="1.39"/>
<polygon points="211.96,99.73 208.11,102.53 209.58,107.06 214.34,107.06 215.82,102.53" fill="#7f7f7f" fill-opacity="0.5" stroke="#7f7f7f" stroke-opacity="0.5" stroke-width="1.39"/>
<polygon points="185.37,141.18 181.52,143.97 182.99,148.50 187.75,148.50 189.22,143.97" fill="#7f7f7f" fill-opacity="0.5" stroke="#7f7f7f" stroke-opacity="0.5" stroke-width="1.39"/>
<polygon points="185.11,139.47 181.25,142.27 182.73,146.80 187.49,146.80 188.96,142.27" fill="#7f7f7f" fill-opacity="0.5" stroke="#7f7f7f" stroke-opacity="0.5" stroke-width="1.39"/>
<polygon points="185.00,110.40 181.15,113.20 182.62,117.73 187.38,117.73 188.85,113.20" fill="#7f7f7f" fill-opacity="0.5" stroke="#7f7f7f" stroke-opacity="0.5" stroke-width="1.39"/>
<polygon points="184.89,134.03 181.04,136.83 182.51,141.36 187.27,141.36 188.74,136.83" fill="#7f7f7f" fill-opacity="0.5" stroke="#7f7f7f" stroke-opacity="0.5" stroke-width="1.39"/>
<polygon points="184.85,134.11 181.00,136.91 182.47,141.44 187.23,141.44 188.70,136.91" fill="#7f7f7f" fill-opacity="0.5" stroke="#7f7f7f" stroke-opacity="0.5" stroke-width="1.39"/>
<polygon points="184.22,130.95 180.37,133.74 181.84,138.27 186.61,138.27 188.08,133.74" fill="#7f7f7f" fill-opacity="0.5" stroke="#7f7f7f" stroke-opacity="0.5" stroke-width="1.39"/>
<polygon points="184.78,127.60 180.93,130.40 182.40,134.92 187.17,134.92 188.64,130.40" fill="#7f7f7f" fill-opacity="0.5" stroke="#7f7f7f" stroke-opacity="0.5" stroke-width="1.39"/>
<polygon points="184.74,111.76 180.89,114.56 182.36,119.09 187.12,119.09 188.59,114.56" fill="#7f7f7f" fill-opacity="0.5" stroke="#7f7f7f" stroke-opacity="0.5" stroke-width="1.39"/>
<polygon points="184.94,134.91 181.09,137.71 182.56,142.24 187.32,142.24 188.80,137.71" fill="#7f7f7f" fill-opacity="0.5" stroke="#7f7f7f" stroke-opacity="0.5" stroke-width="1.39"/>
<polygon points="184.57,121.23 180.72,124.03 182.19,128.56 186.95,128.56 188.42,124.03" fill="#7f7f7f" fill-opacity="0.5" stroke="#7f7f7f" stroke-opacity="0.5" stroke-width="1.39"/>
<polygon points="184.67,127.65 180.82,130.45 182.29,134.97 187.05,134.97 188.53,130.45" fill="#7f7f7f" fill-opacity="0.5" stroke="#7f7f7f" stroke-opacity="0.5" stroke-width="1.39"/>
<polygon points="191.24,117.48 187.38,120.28 188.86,124.81 193.62,124.81 195.09,120.28" fill="#7f7f7f" fill-opacity="0.5" stroke="#7f7f7f" stroke-opacity="0.5" stroke-width="1.39"/>
<polygon points="166.17,141.75 162.31,144.54 163.79,149.07 168.55,149.07 170.02,144.54" fill="#7f7f7f" fill-opacity="0.5" stroke="#7f7f7f" stroke-opacity="0.5" stroke-width="1.39"/>
<polygon points="185.14,105.49 181.29,108.29 182.76,112.81 187.52,112.81 188.99,108.29" fill="#7f7f7f" fill-opacity="0.5" stroke="#7f7f7f" stroke-opacity="0.5" stroke-width="1.39"/>
<polygon points="184.70,125.19 180.85,127.99 182.32,132.51 187.08,132.51 188.55,127.99" fill="#7f7f7f" fill-opacity="0.5" stroke="#7f7f7f" stroke-opacity="0.5" stroke-width="1.39"/>
<polygon points="204.23,106.43 200.38,109.23 201.85,113.76 206.61,113.76 208.08,109.23" fill="#7f7f7f" fill-opacity="0.5" stroke="#7f7f7f" stroke-opacity="0.5" stroke-width="1.39"/>
<polygon points="185.28,114.29 181.43,117.09 182.90,121.62 187.66,121.62 189.13,117.09" fill="#7f7f7f" fill-opacity="0.5" stroke="#7f7f7f" stroke-opacity="0.5" stroke-width="1.39"/>
<polygon points="173.85,141.84 170.00,144.64 171.47,149.17 176.23,149.17 177.70,144.64" fill="#7f7f7f" fill-opacity="0.5" stroke="#7f7f7f" stroke-opacity="0.5" stroke-width="1.39"/>
<polygon points="162.54,139.65 158.69,142.45 160.16,146.98 164.92,146.98 166.39,142.45" fill="#7f7f7f" fill-opacity="0.5" stroke="#7f7f7f" stroke-opacity="0.5" stroke-width="1.39"/>
<polygon points="200.00,108.76 196.15,111.56 197.62,116.09 202.38,116.09 203.85,111.56" fill="#7f7f7f" fill-opacity="0.5" stroke="#7f7f7f" stroke-opacity="0.5" stroke-width="1.39"/>
<polygon points="184.72,138.28 180.86,141.08 182.33,145.61 187.10,145.61 188.57,141.08" fill="#7f7f7f" fill-opacity="0.5" stroke="#7f7f7f" stroke-opacity="0.5" stroke-width="1.39"/>
<polygon points="184.96,135.05 181.11,137.84 182.58,142.37 187.34,142.37 188.81,137.84" fill="#7f7f7f" fill-opacity="0.5" stroke="#7f7f7f" stroke-opacity="0.5" stroke-width="1.39"/>
<polygon points="185.16,141.34 181.31,144.14 182.78,148.67 187.54,148.67 189.02,144.14" fill="#7f7f7f" fill-opacity="0.5" stroke="#7f7f7f" stroke-opacity="0.5" stroke-width="1.39"/>
<polygon points="185.30,140.80 181.45,143.60 182.92,148.13 187.68,148.13 189.15,143.60" fill="#7f7f7f" fill-opacity="0.5" stroke="#7f7f7f" stroke-opacity="0.5" stroke-width="1.39"/>
<polygon points="184.55,110.36 180.70,113.16 182.17,117.69 186.93,117.69 188.40,113.16" fill="#7f7f7f" fill-opacity="0.5" stroke="#7f7f7f" stroke-opacity="0.5" stroke-width="1.39"/>
<polygon points="185.00,112.69 181.14,115.49 182.62,120.01 187.38,120.01 188.85,115.49" fill="#7f7f7f" fill-opacity="0.5" stroke="#7f7f7f" stroke-opacity="0.5" stroke-width="1.39"/>
<polygon points="184.77,119.79 180.92,122.59 182.39,127.11 187.16,127.11 188.63,122.59" fill="#7f7f7f" fill-opacity="0.5" stroke="#7f7f7f" stroke-opacity="0.5" stroke-width="1.39"/>
<polygon points="184.91,110.47 181.05,113.26 182.53,117.79 187.29,117.79 188.76,113.26" fill="#7f7f7f" fill-opacity="0.5" stroke="#7f7f7f" stroke-opacity="0.5" stroke-width="1.39"/>
<polygon points="185.14,137.04 181.29,139.84 182.76,144.37 187.52,144.37 188.99,139.84" fill="#7f7f7f" fill-opacity="0.5" stroke="#7f7f7f" stroke-opacity="0.5" stroke-width="1.39"/>
<polygon points="185.07,139.24 181.22,142.04 182.69,146.57 187.45,146.57 188.93,142.04" fill="#7f7f7f" fill-opacity="0.5" stroke="#7f7f7f" stroke-opacity="0.5" stroke-width="1.39"/>
<polygon points="193.93,121.31 190.08,124.11 191.55,128.64 196.31,128.64 197.78,124.11" fill="#7f7f7f" fill-opacity="0.5" stroke="#7f7f7f" stroke-opacity="0.5" stroke-width="1.39"/>
<polygon points="184.95,106.81 181.10,109.61 182.57,114.14 187.33,114.14 188.80,109.61" fill="#7f7f7f" fill-opacity="0.5" stroke="#7f7f7f" stroke-opacity="0.5" stroke-width="1.39"/>
<polygon points="178.61,137.65 174.75,140.45 176.22,144.97 180.99,144.97 182.46,140.45" fill="#7f7f7f" fill-opacity="0.5" stroke="#7f7f7f" stroke-opacity="0.5" stroke-width="1.39"/>
<polygon points="183.87,111.89 180.02,114.69 181.49,119.22 186.25,119.22 187.72,114.69" fill="#7f7f7f" fill-opacity="0.5" stroke="#7f7f7f" stroke-opacity="0.5" stroke-width="1.39"/>
<polygon points="184.84,128.30 180.99,131.10 182.46,135.63 187.22,135.63 188.70,131.10" fill="#7f7f7f" fill-opacity="0.5" stroke="#7f7f7f" stroke-opacity="0.5" stroke-width="1.39"/>
<polygon points="184.99,108.73 181.14,111.53 182.61,116.06 187.37,116.06 188.84,111.53" fill="#7f7f7f" fill-opacity="0.5" stroke="#7f7f7f" stroke-opacity="0.5" stroke-width="1.39"/>
<polygon points="184.56,129.58 180.70,132.37 182.17,136.90 186.94,136.90 188.41,132.37" fill="#7f7f7f" fill-opacity="0.5" stroke="#7f7f7f" stroke-opacity="0.5" stroke-width="1.39"/>
<polygon points="184.66,129.76 180.81,132.55 182.28,137.08 187.04,137.08 188.51,132.55" fill="#7f7f7f" fill-opacity="0.5" stroke="#7f7f7f" stroke-opacity="0.5" stroke-width="1.39"/>
<polygon points="185.19,131.42 181.34,134.21 182.81,138.74 187.57,138.74 189.04,134.21" fill="#7f7f7f" fill-opacity="0.5" stroke="#7f7f7f" stroke-opacity="0.5" stroke-width="1.39"/>
<polygon points="185.50,115.21 181.65,118.01 183.12,122.54 187.88,122.54 189.35,118.01" fill="#7f7f7f" fill-opacity="0.5" stroke="#7f7f7f" stroke-opacity="0.5" stroke-width="1.39"/>
<polygon points="193.66,119.34 189.81,122.14 191.28,126.67 196.04,126.67 197.51,122.14" fill="#7f7f7f" fill-opacity="0.5" stroke="#7f7f7f" stroke-opacity="0.5" stroke-width="1.39"/>
<polygon points="200.09,112.60 196.24,115.40 197.71,119.93 202.47,119.93 203.94,115.40" fill="#7f7f7f" fill-opacity="0.5" stroke="#7f7f7f" stroke-opacity="0.5" stroke-width="1.39"/>
<polygon points="192.79,117.92 188.94,120.72 190.41,125.25 195.18,125.25 196.65,120.72" fill="#7f7f7f" fill-opacity="0.5" stroke="#7f7f7f" stroke-opacity="0.5" stroke-width="1.39"/>
<polygon points="184.70,135.93 180.85,138.73 182.32,143.25 187.08,143.25 188.55,138.73" fill="#7f7f7f" fill-opacity="0.5" stroke="#7f7f7f" stroke-opacity="0.5" stroke-width="1.39"/>
<line x1="85.37" y1="208.30" x2="284.47" y2="48.14" stroke="#7f7f7f" stroke-opacity="0.5" stroke-width="2.08" stroke-linecap="round"/>
</g>
<rect x="75.5" y="29.9" width="218.90" height="222.05" fill="none" stroke="#000" stroke-width="1.11" stroke-linecap="square"/>
<line x1="94.42" y1="251.95" x2="94.42" y2="256.81" stroke="#000" stroke-width="1.11"/>
<text transform="scale(1.1540,1)" x="68.07 76.90 84.49 88.07" y="271.60" font-size="14.4">−1.0</text>
<line x1="139.67" y1="251.95" x2="139.67" y2="256.81" stroke="#000" stroke-width="1.11"/>
<text transform="scale(1.1644,1)" x="106.33 115.16 122.75 126.33" y="271.60" font-size="14.4">−0.5</text>
<line x1="184.92" y1="251.95" x2="184.92" y2="256.81" stroke="#000" stroke-width="1.11"/>
<text transform="scale(1.0883,1)" x="159.91 167.92 171.92" y="271.60" font-size="14.4">0.0</text>
<line x1="230.17" y1="251.95" x2="230.17" y2="256.81" stroke="#000" stroke-width="1.11"/>
<text transform="scale(1.1034,1)" x="198.72 206.73 210.73" y="271.60" font-size="14.4">0.5</text>
<line x1="275.42" y1="251.95" x2="275.42" y2="256.81" stroke="#000" stroke-width="1.11"/>
<text transform="scale(1.1229,1)" x="234.99 243.00 247.00" y="271.60" font-size="14.4">1.0</text>
<line x1="70.64" y1="55.42" x2="75.5" y2="55.42" stroke="#000" stroke-width="1.11"/>
<text transform="scale(1.1229,1)" x="39.22 47.23 51.23" y="60.57" font-size="14.4">1.0</text>
<line x1="70.64" y1="91.82" x2="75.5" y2="91.82" stroke="#000" stroke-width="1.11"/>
<text transform="scale(1.1034,1)" x="40.51 48.52 52.52" y="96.97" font-size="14.4">0.5</text>
<line x1="70.64" y1="128.22" x2="75.5" y2="128.22" stroke="#000" stroke-width="1.11"/>
<text transform="scale(1.0883,1)" x="41.08 49.09 53.09" y="133.37" font-size="14.4">0.0</text>
<line x1="70.64" y1="164.62" x2="75.5" y2="164.62" stroke="#000" stroke-width="1.11"/>
<text transform="scale(1.1644,1)" x="29.62 38.45 46.03 49.62" y="169.77" font-size="14.4">−0.5</text>
<line x1="70.64" y1="201.02" x2="75.5" y2="201.02" stroke="#000" stroke-width="1.11"/>
<text transform="scale(1.1540,1)" x="29.89 38.71 46.30 49.88" y="206.17" font-size="14.4">−1.0</text>
<line x1="70.64" y1="237.42" x2="75.5" y2="237.42" stroke="#000" stroke-width="1.11"/>
<text transform="scale(1.1644,1)" x="29.62 38.45 46.03 49.62" y="242.57" font-size="14.4">−1.5</text>
<text transform="scale(1.0209,1)" x="101.48 110.30 113.70 122.02 130.24 133.79 143.05 151.36 159.67 168.16 171.71 180.16 187.82 191.70 201.14 208.45 212.12 220.44 228.42" y="289.50" font-size="14.4">True Shapley Values</text>
<text x="244.53" y="289.50" font-size="14.4" textLength="19.66" lengthAdjust="spacingAndGlyphs">(<tspan font-style="italic">ϕ</tspan>)</text>
<clipPath id="c1"><rect x="338.5" y="29.9" width="218.85" height="222.05"/></clipPath>
<g clip-path="url(#c1)">
<circle cx="538.40" cy="59.50" r="4.05" fill="#1f77b4" fill-opacity="0.5" stroke="#1f77b4" stroke-opacity="0.5" stroke-width="1.39"/>
<circle cx="441.02" cy="150.42" r="4.05" fill="#1f77b4" fill-opacity="0.5" stroke="#1f77b4" stroke-opacity="0.5" stroke-width="1.39"/>
<circle cx="442.98" cy="145.93" r="4.05" fill="#1f77b4" fill-opacity="0.5" stroke="#1f77b4" stroke-opacity="0.5" stroke-width="1.39"/>
<rect x="534.15" y="55.05" width="8.10" height="8.10" fill="#ff7f0e" fill-opacity="0.5" stroke="#ff7f0e" stroke-opacity="0.5" stroke-width="1.39"/>
<rect x="396.15" y="186.35" width="8.10" height="8.10" fill="#ff7f0e" fill-opacity="0.5" stroke="#ff7f0e" stroke-opacity="0.5" stroke-width="1.39"/>
<rect x="458.85" y="129.85" width="8.10" height="8.10" fill="#ff7f0e" fill-opacity="0.5" stroke="#ff7f0e" stroke-opacity="0.5" stroke-width="1.39"/>
<rect x="439.90" y="147.63" width="8.10" height="8.10" fill="#ff7f0e" fill-opacity="0.5" stroke="#ff7f0e" stroke-opacity="0.5" stroke-width="1.39"/>
<rect x="440.62" y="145.80" width="8.10" height="8.10" fill="#ff7f0e" fill-opacity="0.5" stroke="#ff7f0e" stroke-opacity="0.5" stroke-width="1.39"/>
<rect x="442.16" y="142.87" width="8.10" height="8.10" fill="#ff7f0e" fill-opacity="0.5" stroke="#ff7f0e" stroke-opacity="0.5" stroke-width="1.39"/>
<rect x="440.30" y="149.37" width="8.10" height="8.10" fill="#ff7f0e" fill-opacity="0.5" stroke="#ff7f0e" stroke-opacity="0.5" stroke-width="1.39"/>
<rect x="443.67" y="130.13" width="8.10" height="8.10" fill="#ff7f0e" fill-opacity="0.5" stroke="#ff7f0e" stroke-opacity="0.5" stroke-width="1.39"/>
<polygon points="538.20,34.47 543.93,40.20 538.20,45.93 532.47,40.20" fill="#2ca02c" fill-opacity="0.5" stroke="#2ca02c" stroke-opacity="0.5" stroke-width="1.39"/>
<polygon points="498.10,120.27 503.83,126.00 498.10,131.73 492.37,126.00" fill="#2ca02c" fill-opacity="0.5" stroke="#2ca02c" stroke-opacity="0.5" stroke-width="1.39"/>
<polygon points="358.70,213.67 364.43,219.40 358.70,225.13 352.97,219.40" fill="#2ca02c" fill-opacity="0.5" stroke="#2ca02c" stroke-opacity="0.5" stroke-width="1.39"/>
<polygon points="378.90,213.67 384.63,219.40 378.90,225.13 373.17,219.40" fill="#2ca02c" fill-opacity="0.5" stroke="#2ca02c" stroke-opacity="0.5" stroke-width="1.39"/>
<polygon points="377.10,222.57 382.83,228.30 377.10,234.03 371.37,228.30" fill="#2ca02c" fill-opacity="0.5" stroke="#2ca02c" stroke-opacity="0.5" stroke-width="1.39"/>
<polygon points="412.10,177.27 417.83,183.00 412.10,188.73 406.37,183.00" fill="#2ca02c" fill-opacity="0.5" stroke="#2ca02c" stroke-opacity="0.5" stroke-width="1.39"/>
<polygon points="447.70,117.57 453.43,123.30 447.70,129.03 441.97,123.30" fill="#2ca02c" fill-opacity="0.5" stroke="#2ca02c" stroke-opacity="0.5" stroke-width="1.39"/>
<polygon points="447.00,124.97 452.73,130.70 447.00,136.43 441.27,130.70" fill="#2ca02c" fill-opacity="0.5" stroke="#2ca02c" stroke-opacity="0.5" stroke-width="1.39"/>
<polygon points="470.30,132.37 476.03,138.10 470.30,143.83 464.57,138.10" fill="#2ca02c" fill-opacity="0.5" stroke="#2ca02c" stroke-opacity="0.5" stroke-width="1.39"/>
<polygon points="528.90,76.85 532.95,84.95 524.85,84.95" fill="#d62728" fill-opacity="0.5" stroke="#d62728" stroke-opacity="0.5" stroke-width="1.39"/>
<polygon points="509.10,85.65 513.15,93.75 505.05,93.75" fill="#d62728" fill-opacity="0.5" stroke="#d62728" stroke-opacity="0.5" stroke-width="1.39"/>
<polygon points="500.40,91.45 504.45,99.55 496.35,99.55" fill="#d62728" fill-opacity="0.5" stroke="#d62728" stroke-opacity="0.5" stroke-width="1.39"/>
<polygon points="357.30,226.35 361.35,234.45 353.25,234.45" fill="#d62728" fill-opacity="0.5" stroke="#d62728" stroke-opacity="0.5" stroke-width="1.39"/>
<polygon points="419.50,176.85 423.55,184.95 415.45,184.95" fill="#d62728" fill-opacity="0.5" stroke="#d62728" stroke-opacity="0.5" stroke-width="1.39"/>
<polygon points="433.40,159.65 437.45,167.75 429.35,167.75" fill="#d62728" fill-opacity="0.5" stroke="#d62728" stroke-opacity="0.5" stroke-width="1.39"/>
<polygon points="436.50,125.55 440.55,133.65 432.45,133.65" fill="#d62728" fill-opacity="0.5" stroke="#d62728" stroke-opacity="0.5" stroke-width="1.39"/>
<polygon points="447.00,157.35 451.05,165.45 442.95,165.45" fill="#d62728" fill-opacity="0.5" stroke="#d62728" stroke-opacity="0.5" stroke-width="1.39"/>
<polygon points="460.80,135.15 464.85,143.25 456.75,143.25" fill="#d62728" fill-opacity="0.5" stroke="#d62728" stroke-opacity="0.5" stroke-width="1.39"/>
<polygon points="440.94,150.71 444.99,158.81 436.89,158.81" fill="#d62728" fill-opacity="0.5" stroke="#d62728" stroke-opacity="0.5" stroke-width="1.39"/>
<polygon points="475.28,121.32 479.33,129.42 471.23,129.42" fill="#d62728" fill-opacity="0.5" stroke="#d62728" stroke-opacity="0.5" stroke-width="1.39"/>
<polygon points="444.32,142.11 448.37,150.21 440.27,150.21" fill="#d62728" fill-opacity="0.5" stroke="#d62728" stroke-opacity="0.5" stroke-width="1.39"/>
<polygon points="444.49,148.25 448.54,156.35 440.44,156.35" fill="#d62728" fill-opacity="0.5" stroke="#d62728" stroke-opacity="0.5" stroke-width="1.39"/>
<polygon points="447.86,139.48 451.91,147.58 443.81,147.58" fill="#d62728" fill-opacity="0.5" stroke="#d62728" stroke-opacity="0.5" stroke-width="1.39"/>
<polygon points="446.61,146.07 450.66,154.17 442.56,154.17" fill="#d62728" fill-opacity="0.5" stroke="#d62728" stroke-opacity="0.5" stroke-width="1.39"/>
<polygon points="442.24,142.70 446.29,150.80 438.19,150.80" fill="#d62728" fill-opacity="0.5" stroke="#d62728" stroke-opacity="0.5" stroke-width="1.39"/>
<polygon points="538.20,61.05 542.25,52.95 534.15,52.95" fill="#9467bd" fill-opacity="0.5" stroke="#9467bd" stroke-opacity="0.5" stroke-width="1.39"/>
<polygon points="475.60,117.05 479.65,108.95 471.55,108.95" fill="#9467bd" fill-opacity="0.5" stroke="#9467bd" stroke-opacity="0.5" stroke-width="1.39"/>
<polygon points="480.00,121.35 484.05,113.25 475.95,113.25" fill="#9467bd" fill-opacity="0.5" stroke="#9467bd" stroke-opacity="0.5" stroke-width="1.39"/>
<polygon points="379.50,209.25 383.55,201.15 375.45,201.15" fill="#9467bd" fill-opacity="0.5" stroke="#9467bd" stroke-opacity="0.5" stroke-width="1.39"/>
<polygon points="384.80,198.85 388.85,190.75 380.75,190.75" fill="#9467bd" fill-opacity="0.5" stroke="#9467bd" stroke-opacity="0.5" stroke-width="1.39"/>
<polygon points="413.60,176.65 417.65,168.55 409.55,168.55" fill="#9467bd" fill-opacity="0.5" stroke="#9467bd" stroke-opacity="0.5" stroke-width="1.39"/>
<polygon points="418.00,178.15 422.05,170.05 413.95,170.05" fill="#9467bd" fill-opacity="0.5" stroke="#9467bd" stroke-opacity="0.5" stroke-width="1.39"/>
<polygon points="437.30,169.25 441.35,161.15 433.25,161.15" fill="#9467bd" fill-opacity="0.5" stroke="#9467bd" stroke-opacity="0.5" stroke-width="1.39"/>
<polygon points="450.41,147.36 454.46,139.26 446.36,139.26" fill="#9467bd" fill-opacity="0.5" stroke="#9467bd" stroke-opacity="0.5" stroke-width="1.39"/>
<polygon points="443.26,158.98 447.31,150.88 439.21,150.88" fill="#9467bd" fill-opacity="0.5" stroke="#9467bd" stroke-opacity="0.5" stroke-width="1.39"/>
<polygon points="442.72,156.74 446.77,148.64 438.67,148.64" fill="#9467bd" fill-opacity="0.5" stroke="#9467bd" stroke-opacity="0.5" stroke-width="1.39"/>
<polygon points="443.73,159.24 447.78,151.14 439.68,151.14" fill="#9467bd" fill-opacity="0.5" stroke="#9467bd" stroke-opacity="0.5" stroke-width="1.39"/>
<polygon points="467.38,126.34 471.43,118.24 463.33,118.24" fill="#9467bd" fill-opacity="0.5" stroke="#9467bd" stroke-opacity="0.5" stroke-width="1.39"/>
<polygon points="453.57,143.26 457.62,135.16 449.52,135.16" fill="#9467bd" fill-opacity="0.5" stroke="#9467bd" stroke-opacity="0.5" stroke-width="1.39"/>
<polygon points="446.16,152.83 450.21,144.73 442.11,144.73" fill="#9467bd" fill-opacity="0.5" stroke="#9467bd" stroke-opacity="0.5" stroke-width="1.39"/>
<polygon points="448.59,154.10 452.64,146.00 444.54,146.00" fill="#9467bd" fill-opacity="0.5" stroke="#9467bd" stroke-opacity="0.5" stroke-width="1.39"/>
<polygon points="425.90,169.71 429.95,161.61 421.85,161.61" fill="#9467bd" fill-opacity="0.5" stroke="#9467bd" stroke-opacity="0.5" stroke-width="1.39"/>
<polygon points="449.66,149.31 453.71,141.21 445.61,141.21" fill="#9467bd" fill-opacity="0.5" stroke="#9467bd" stroke-opacity="0.5" stroke-width="1.39"/>
<polygon points="446.17,150.66 450.22,142.56 442.12,142.56" fill="#9467bd" fill-opacity="0.5" stroke="#9467bd" stroke-opacity="0.5" stroke-width="1.39"/>
<polygon points="445.71,142.87 449.76,134.77 441.66,134.77" fill="#9467bd" fill-opacity="0.5" stroke="#9467bd" stroke-opacity="0.5" stroke-width="1.39"/>
<polygon points="410.88,186.03 414.93,177.93 406.83,177.93" fill="#9467bd" fill-opacity="0.5" stroke="#9467bd" stroke-opacity="0.5" stroke-width="1.39"/>
<polygon points="447.59,152.08 451.64,143.98 443.54,143.98" fill="#9467bd" fill-opacity="0.5" stroke="#9467bd" stroke-opacity="0.5" stroke-width="1.39"/>
<polygon points="441.75,153.50 445.80,145.40 437.70,145.40" fill="#9467bd" fill-opacity="0.5" stroke="#9467bd" stroke-opacity="0.5" stroke-width="1.39"/>
<polygon points="441.52,154.78 445.57,146.68 437.47,146.68" fill="#9467bd" fill-opacity="0.5" stroke="#9467bd" stroke-opacity="0.5" stroke-width="1.39"/>
<polygon points="441.46,153.92 445.51,145.82 437.41,145.82" fill="#9467bd" fill-opacity="0.5" stroke="#9467bd" stroke-opacity="0.5" stroke-width="1.39"/>
<polygon points="474.22,120.51 478.27,112.41 470.17,112.41" fill="#9467bd" fill-opacity="0.5" stroke="#9467bd" stroke-opacity="0.5" stroke-width="1.39"/>
<polygon points="445.84,156.13 449.89,148.03 441.79,148.03" fill="#9467bd" fill-opacity="0.5" stroke="#9467bd" stroke-opacity="0.5" stroke-width="1.39"/>
<polygon points="447.37,144.90 451.42,136.80 443.32,136.80" fill="#9467bd" fill-opacity="0.5" stroke="#9467bd" stroke-opacity="0.5" stroke-width="1.39"/>
<polygon points="452.93,142.26 456.98,134.16 448.88,134.16" fill="#9467bd" fill-opacity="0.5" stroke="#9467bd" stroke-opacity="0.5" stroke-width="1.39"/>
<polygon points="449.71,143.79 453.76,135.69 445.66,135.69" fill="#9467bd" fill-opacity="0.5" stroke="#9467bd" stroke-opacity="0.5" stroke-width="1.39"/>
<polygon points="445.60,151.54 449.65,143.44 441.55,143.44" fill="#9467bd" fill-opacity="0.5" stroke="#9467bd" stroke-opacity="0.5" stroke-width="1.39"/>
<polygon points="444.02,149.50 448.07,141.40 439.97,141.40" fill="#9467bd" fill-opacity="0.5" stroke="#9467bd" stroke-opacity="0.5" stroke-width="1.39"/>
<polygon points="443.74,151.63 447.79,143.53 439.69,143.53" fill="#9467bd" fill-opacity="0.5" stroke="#9467bd" stroke-opacity="0.5" stroke-width="1.39"/>
<polygon points="446.93,151.46 450.98,143.36 442.88,143.36" fill="#9467bd" fill-opacity="0.5" stroke="#9467bd" stroke-opacity="0.5" stroke-width="1.39"/>
<polygon points="465.05,130.05 469.10,121.95 461.00,121.95" fill="#9467bd" fill-opacity="0.5" stroke="#9467bd" stroke-opacity="0.5" stroke-width="1.39"/>
<polygon points="447.56,154.80 451.61,146.70 443.51,146.70" fill="#9467bd" fill-opacity="0.5" stroke="#9467bd" stroke-opacity="0.5" stroke-width="1.39"/>
<polygon points="444.26,160.83 448.31,152.73 440.21,152.73" fill="#9467bd" fill-opacity="0.5" stroke="#9467bd" stroke-opacity="0.5" stroke-width="1.39"/>
<polygon points="440.31,152.82 444.36,144.72 436.26,144.72" fill="#9467bd" fill-opacity="0.5" stroke="#9467bd" stroke-opacity="0.5" stroke-width="1.39"/>
<polygon points="427.62,166.01 431.67,157.91 423.57,157.91" fill="#9467bd" fill-opacity="0.5" stroke="#9467bd" stroke-opacity="0.5" stroke-width="1.39"/>
<polygon points="444.59,149.21 448.64,141.11 440.54,141.11" fill="#9467bd" fill-opacity="0.5" stroke="#9467bd" stroke-opacity="0.5" stroke-width="1.39"/>
<polygon points="440.75,158.04 444.80,149.94 436.70,149.94" fill="#9467bd" fill-opacity="0.5" stroke="#9467bd" stroke-opacity="0.5" stroke-width="1.39"/>
<polygon points="448.31,153.89 452.36,145.79 444.26,145.79" fill="#9467bd" fill-opacity="0.5" stroke="#9467bd" stroke-opacity="0.5" stroke-width="1.39"/>
<polygon points="443.61,149.29 447.66,141.19 439.56,141.19" fill="#9467bd" fill-opacity="0.5" stroke="#9467bd" stroke-opacity="0.5" stroke-width="1.39"/>
<polygon points="444.55,160.62 448.60,152.52 440.50,152.52" fill="#9467bd" fill-opacity="0.5" stroke="#9467bd" stroke-opacity="0.5" stroke-width="1.39"/>
<polygon points="440.32,153.04 444.37,144.94 436.27,144.94" fill="#9467bd" fill-opacity="0.5" stroke="#9467bd" stroke-opacity="0.5" stroke-width="1.39"/>
<polygon points="448.30,157.28 452.35,149.18 444.25,149.18" fill="#9467bd" fill-opacity="0.5" stroke="#9467bd" stroke-opacity="0.5" stroke-width="1.39"/>
<polygon points="447.25,150.82 451.30,142.72 443.20,142.72" fill="#9467bd" fill-opacity="0.5" stroke="#9467bd" stroke-opacity="0.5" stroke-width="1.39"/>
<polygon points="444.20,150.14 448.25,142.04 440.15,142.04" fill="#9467bd" fill-opacity="0.5" stroke="#9467bd" stroke-opacity="0.5" stroke-width="1.39"/>
<polygon points="451.76,141.95 455.81,133.85 447.71,133.85" fill="#9467bd" fill-opacity="0.5" stroke="#9467bd" stroke-opacity="0.5" stroke-width="1.39"/>
<polygon points="443.46,160.17 447.51,152.07 439.41,152.07" fill="#9467bd" fill-opacity="0.5" stroke="#9467bd" stroke-opacity="0.5" stroke-width="1.39"/>
<polygon points="447.90,158.36 451.95,150.26 443.85,150.26" fill="#9467bd" fill-opacity="0.5" stroke="#9467bd" stroke-opacity="0.5" stroke-width="1.39"/>
<polygon points="441.20,153.86 445.25,145.76 437.15,145.76" fill="#9467bd" fill-opacity="0.5" stroke="#9467bd" stroke-opacity="0.5" stroke-width="1.39"/>
<polygon points="435.25,162.94 439.30,154.84 431.20,154.84" fill="#9467bd" fill-opacity="0.5" stroke="#9467bd" stroke-opacity="0.5" stroke-width="1.39"/>
<polygon points="443.65,150.58 447.70,142.48 439.60,142.48" fill="#9467bd" fill-opacity="0.5" stroke="#9467bd" stroke-opacity="0.5" stroke-width="1.39"/>
<polygon points="448.25,146.86 452.30,138.76 444.20,138.76" fill="#9467bd" fill-opacity="0.5" stroke="#9467bd" stroke-opacity="0.5" stroke-width="1.39"/>
<polygon points="445.22,158.76 449.27,150.66 441.17,150.66" fill="#9467bd" fill-opacity="0.5" stroke="#9467bd" stroke-opacity="0.5" stroke-width="1.39"/>
<polygon points="534.15,59.50 542.25,55.45 542.25,63.55" fill="#8c564b" fill-opacity="0.5" stroke="#8c564b" stroke-opacity="0.5" stroke-width="1.39"/>
<polygon points="512.35,80.90 520.45,76.85 520.45,84.95" fill="#8c564b" fill-opacity="0.5" stroke="#8c564b" stroke-opacity="0.5" stroke-width="1.39"/>
<polygon points="388.75,197.80 396.85,193.75 396.85,201.85" fill="#8c564b" fill-opacity="0.5" stroke="#8c564b" stroke-opacity="0.5" stroke-width="1.39"/>
<polygon points="443.80,148.72 451.90,144.67 451.90,152.77" fill="#8c564b" fill-opacity="0.5" stroke="#8c564b" stroke-opacity="0.5" stroke-width="1.39"/>
<polygon points="437.66,153.98 445.76,149.93 445.76,158.03" fill="#8c564b" fill-opacity="0.5" stroke="#8c564b" stroke-opacity="0.5" stroke-width="1.39"/>
<polygon points="441.52,149.78 449.62,145.73 449.62,153.83" fill="#8c564b" fill-opacity="0.5" stroke="#8c564b" stroke-opacity="0.5" stroke-width="1.39"/>
<polygon points="440.50,147.84 448.60,143.79 448.60,151.89" fill="#8c564b" fill-opacity="0.5" stroke="#8c564b" stroke-opacity="0.5" stroke-width="1.39"/>
<polygon points="444.57,146.15 452.67,142.10 452.67,150.20" fill="#8c564b" fill-opacity="0.5" stroke="#8c564b" stroke-opacity="0.5" stroke-width="1.39"/>
<polygon points="438.00,147.43 446.10,143.38 446.10,151.48" fill="#8c564b" fill-opacity="0.5" stroke="#8c564b" stroke-opacity="0.5" stroke-width="1.39"/>
<polygon points="442.75,156.13 450.85,152.08 450.85,160.18" fill="#8c564b" fill-opacity="0.5" stroke="#8c564b" stroke-opacity="0.5" stroke-width="1.39"/>
<polygon points="442.35,147.36 450.45,143.31 450.45,151.41" fill="#8c564b" fill-opacity="0.5" stroke="#8c564b" stroke-opacity="0.5" stroke-width="1.39"/>
<polygon points="443.72,140.48 451.82,136.43 451.82,144.53" fill="#8c564b" fill-opacity="0.5" stroke="#8c564b" stroke-opacity="0.5" stroke-width="1.39"/>
<polygon points="442.54,139.15 450.64,135.10 450.64,143.20" fill="#8c564b" fill-opacity="0.5" stroke="#8c564b" stroke-opacity="0.5" stroke-width="1.39"/>
<polygon points="443.94,139.23 452.04,135.18 452.04,143.28" fill="#8c564b" fill-opacity="0.5" stroke="#8c564b" stroke-opacity="0.5" stroke-width="1.39"/>
<polygon points="450.61,134.64 458.71,130.59 458.71,138.69" fill="#8c564b" fill-opacity="0.5" stroke="#8c564b" stroke-opacity="0.5" stroke-width="1.39"/>
<polygon points="451.71,137.08 459.81,133.03 459.81,141.13" fill="#8c564b" fill-opacity="0.5" stroke="#8c564b" stroke-opacity="0.5" stroke-width="1.39"/>
<polygon points="440.15,149.32 448.25,145.27 448.25,153.37" fill="#8c564b" fill-opacity="0.5" stroke="#8c564b" stroke-opacity="0.5" stroke-width="1.39"/>
<polygon points="440.81,144.65 448.91,140.60 448.91,148.70" fill="#8c564b" fill-opacity="0.5" stroke="#8c564b" stroke-opacity="0.5" stroke-width="1.39"/>
<polygon points="446.22,147.47 454.32,143.42 454.32,151.52" fill="#8c564b" fill-opacity="0.5" stroke="#8c564b" stroke-opacity="0.5" stroke-width="1.39"/>
<polygon points="411.40,182.70 419.50,178.65 419.50,186.75" fill="#8c564b" fill-opacity="0.5" stroke="#8c564b" stroke-opacity="0.5" stroke-width="1.39"/>
<polygon points="438.93,150.64 447.03,146.59 447.03,154.69" fill="#8c564b" fill-opacity="0.5" stroke="#8c564b" stroke-opacity="0.5" stroke-width="1.39"/>
<polygon points="441.39,152.50 449.49,148.45 449.49,156.55" fill="#8c564b" fill-opacity="0.5" stroke="#8c564b" stroke-opacity="0.5" stroke-width="1.39"/>
<polygon points="414.82,173.15 422.92,169.10 422.92,177.20" fill="#8c564b" fill-opacity="0.5" stroke="#8c564b" stroke-opacity="0.5" stroke-width="1.39"/>
<polygon points="438.80,154.34 446.90,150.29 446.90,158.39" fill="#8c564b" fill-opacity="0.5" stroke="#8c564b" stroke-opacity="0.5" stroke-width="1.39"/>
<polygon points="446.25,139.05 454.35,135.00 454.35,143.10" fill="#8c564b" fill-opacity="0.5" stroke="#8c564b" stroke-opacity="0.5" stroke-width="1.39"/>
<polygon points="438.50,150.93 446.60,146.88 446.60,154.98" fill="#8c564b" fill-opacity="0.5" stroke="#8c564b" stroke-opacity="0.5" stroke-width="1.39"/>
<polygon points="451.92,139.28 460.02,135.23 460.02,143.33" fill="#8c564b" fill-opacity="0.5" stroke="#8c564b" stroke-opacity="0.5" stroke-width="1.39"/>
<polygon points="440.15,147.54 448.25,143.49 448.25,151.59" fill="#8c564b" fill-opacity="0.5" stroke="#8c564b" stroke-opacity="0.5" stroke-width="1.39"/>
<polygon points="450.85,140.28 458.95,136.23 458.95,144.33" fill="#8c564b" fill-opacity="0.5" stroke="#8c564b" stroke-opacity="0.5" stroke-width="1.39"/>
<polygon points="432.21,154.84 440.31,150.79 440.31,158.89" fill="#8c564b" fill-opacity="0.5" stroke="#8c564b" stroke-opacity="0.5" stroke-width="1.39"/>
<polygon points="425.82,160.62 433.92,156.57 433.92,164.67" fill="#8c564b" fill-opacity="0.5" stroke="#8c564b" stroke-opacity="0.5" stroke-width="1.39"/>
<polygon points="439.66,156.15 447.76,152.10 447.76,160.20" fill="#8c564b" fill-opacity="0.5" stroke="#8c564b" stroke-opacity="0.5" stroke-width="1.39"/>
<polygon points="440.68,152.58 448.78,148.53 448.78,156.63" fill="#8c564b" fill-opacity="0.5" stroke="#8c564b" stroke-opacity="0.5" stroke-width="1.39"/>
<polygon points="440.88,154.13 448.98,150.08 448.98,158.18" fill="#8c564b" fill-opacity="0.5" stroke="#8c564b" stroke-opacity="0.5" stroke-width="1.39"/>
<polygon points="465.84,128.15 473.94,124.10 473.94,132.20" fill="#8c564b" fill-opacity="0.5" stroke="#8c564b" stroke-opacity="0.5" stroke-width="1.39"/>
<polygon points="437.53,155.12 445.63,151.07 445.63,159.17" fill="#8c564b" fill-opacity="0.5" stroke="#8c564b" stroke-opacity="0.5" stroke-width="1.39"/>
<polygon points="445.33,140.03 453.43,135.98 453.43,144.08" fill="#8c564b" fill-opacity="0.5" stroke="#8c564b" stroke-opacity="0.5" stroke-width="1.39"/>
<polygon points="442.51,142.24 450.61,138.19 450.61,146.29" fill="#8c564b" fill-opacity="0.5" stroke="#8c564b" stroke-opacity="0.5" stroke-width="1.39"/>
<polygon points="434.99,155.08 443.09,151.03 443.09,159.13" fill="#8c564b" fill-opacity="0.5" stroke="#8c564b" stroke-opacity="0.5" stroke-width="1.39"/>
<polygon points="438.63,144.63 446.73,140.58 446.73,148.68" fill="#8c564b" fill-opacity="0.5" stroke="#8c564b" stroke-opacity="0.5" stroke-width="1.39"/>
<polygon points="439.44,152.23 447.54,148.18 447.54,156.28" fill="#8c564b" fill-opacity="0.5" stroke="#8c564b" stroke-opacity="0.5" stroke-width="1.39"/>
<polygon points="437.07,148.73 445.17,144.68 445.17,152.78" fill="#8c564b" fill-opacity="0.5" stroke="#8c564b" stroke-opacity="0.5" stroke-width="1.39"/>
<polygon points="442.21,150.91 450.31,146.86 450.31,154.96" fill="#8c564b" fill-opacity="0.5" stroke="#8c564b" stroke-opacity="0.5" stroke-width="1.39"/>
<polygon points="444.63,135.55 452.73,131.50 452.73,139.60" fill="#8c564b" fill-opacity="0.5" stroke="#8c564b" stroke-opacity="0.5" stroke-width="1.39"/>
<polygon points="441.96,150.51 450.06,146.46 450.06,154.56" fill="#8c564b" fill-opacity="0.5" stroke="#8c564b" stroke-opacity="0.5" stroke-width="1.39"/>
<polygon points="445.33,131.55 453.43,127.50 453.43,135.60" fill="#8c564b" fill-opacity="0.5" stroke="#8c564b" stroke-opacity="0.5" stroke-width="1.39"/>
<polygon points="448.22,142.65 456.32,138.60 456.32,146.70" fill="#8c564b" fill-opacity="0.5" stroke="#8c564b" stroke-opacity="0.5" stroke-width="1.39"/>
<polygon points="444.11,144.76 452.21,140.71 452.21,148.81" fill="#8c564b" fill-opacity="0.5" stroke="#8c564b" stroke-opacity="0.5" stroke-width="1.39"/>
<polygon points="439.86,143.67 447.96,139.62 447.96,147.72" fill="#8c564b" fill-opacity="0.5" stroke="#8c564b" stroke-opacity="0.5" stroke-width="1.39"/>
<polygon points="436.17,141.48 444.27,137.43 444.27,145.53" fill="#8c564b" fill-opacity="0.5" stroke="#8c564b" stroke-opacity="0.5" stroke-width="1.39"/>
<polygon points="451.42,134.57 459.52,130.52 459.52,138.62" fill="#8c564b" fill-opacity="0.5" stroke="#8c564b" stroke-opacity="0.5" stroke-width="1.39"/>
<polygon points="541.05,51.70 532.95,47.65 532.95,55.75" fill="#e377c2" fill-opacity="0.5" stroke="#e377c2" stroke-opacity="0.5" stroke-width="1.39"/>
<polygon points="520.45,64.90 512.35,60.85 512.35,68.95" fill="#e377c2" fill-opacity="0.5" stroke="#e377c2" stroke-opacity="0.5" stroke-width="1.39"/>
<polygon points="514.65,83.80 506.55,79.75 506.55,87.85" fill="#e377c2" fill-opacity="0.5" stroke="#e377c2" stroke-opacity="0.5" stroke-width="1.39"/>
<polygon points="473.85,116.70 465.75,112.65 465.75,120.75" fill="#e377c2" fill-opacity="0.5" stroke="#e377c2" stroke-opacity="0.5" stroke-width="1.39"/>
<polygon points="411.65,177.90 403.55,173.85 403.55,181.95" fill="#e377c2" fill-opacity="0.5" stroke="#e377c2" stroke-opacity="0.5" stroke-width="1.39"/>
<polygon points="447.17,149.61 439.07,145.56 439.07,153.66" fill="#e377c2" fill-opacity="0.5" stroke="#e377c2" stroke-opacity="0.5" stroke-width="1.39"/>
<polygon points="452.24,144.55 444.14,140.50 444.14,148.60" fill="#e377c2" fill-opacity="0.5" stroke="#e377c2" stroke-opacity="0.5" stroke-width="1.39"/>
<polygon points="444.68,155.93 436.58,151.88 436.58,159.98" fill="#e377c2" fill-opacity="0.5" stroke="#e377c2" stroke-opacity="0.5" stroke-width="1.39"/>
<polygon points="449.97,141.34 441.87,137.29 441.87,145.39" fill="#e377c2" fill-opacity="0.5" stroke="#e377c2" stroke-opacity="0.5" stroke-width="1.39"/>
<polygon points="451.94,139.17 443.84,135.12 443.84,143.22" fill="#e377c2" fill-opacity="0.5" stroke="#e377c2" stroke-opacity="0.5" stroke-width="1.39"/>
<polygon points="449.18,144.49 441.08,140.44 441.08,148.54" fill="#e377c2" fill-opacity="0.5" stroke="#e377c2" stroke-opacity="0.5" stroke-width="1.39"/>
<polygon points="449.56,162.85 441.46,158.80 441.46,166.90" fill="#e377c2" fill-opacity="0.5" stroke="#e377c2" stroke-opacity="0.5" stroke-width="1.39"/>
<polygon points="451.72,149.41 443.62,145.36 443.62,153.46" fill="#e377c2" fill-opacity="0.5" stroke="#e377c2" stroke-opacity="0.5" stroke-width="1.39"/>
<polygon points="447.49,155.28 439.39,151.23 439.39,159.33" fill="#e377c2" fill-opacity="0.5" stroke="#e377c2" stroke-opacity="0.5" stroke-width="1.39"/>
<polygon points="449.95,149.61 441.85,145.56 441.85,153.66" fill="#e377c2" fill-opacity="0.5" stroke="#e377c2" stroke-opacity="0.5" stroke-width="1.39"/>
<polygon points="444.74,152.59 436.64,148.54 436.64,156.64" fill="#e377c2" fill-opacity="0.5" stroke="#e377c2" stroke-opacity="0.5" stroke-width="1.39"/>
<polygon points="450.17,141.07 442.07,137.02 442.07,145.12" fill="#e377c2" fill-opacity="0.5" stroke="#e377c2" stroke-opacity="0.5" stroke-width="1.39"/>
<polygon points="453.98,148.18 445.88,144.13 445.88,152.23" fill="#e377c2" fill-opacity="0.5" stroke="#e377c2" stroke-opacity="0.5" stroke-width="1.39"/>
<polygon points="450.96,151.74 442.86,147.69 442.86,155.79" fill="#e377c2" fill-opacity="0.5" stroke="#e377c2" stroke-opacity="0.5" stroke-width="1.39"/>
<polygon points="449.99,147.05 441.89,143.00 441.89,151.10" fill="#e377c2" fill-opacity="0.5" stroke="#e377c2" stroke-opacity="0.5" stroke-width="1.39"/>
<polygon points="449.34,149.30 441.24,145.25 441.24,153.35" fill="#e377c2" fill-opacity="0.5" stroke="#e377c2" stroke-opacity="0.5" stroke-width="1.39"/>
<polygon points="454.91,141.16 446.81,137.11 446.81,145.21" fill="#e377c2" fill-opacity="0.5" stroke="#e377c2" stroke-opacity="0.5" stroke-width="1.39"/>
<polygon points="450.65,147.82 442.55,143.77 442.55,151.87" fill="#e377c2" fill-opacity="0.5" stroke="#e377c2" stroke-opacity="0.5" stroke-width="1.39"/>
<polygon points="453.52,143.71 445.42,139.66 445.42,147.76" fill="#e377c2" fill-opacity="0.5" stroke="#e377c2" stroke-opacity="0.5" stroke-width="1.39"/>
<polygon points="450.97,142.29 442.87,138.24 442.87,146.34" fill="#e377c2" fill-opacity="0.5" stroke="#e377c2" stroke-opacity="0.5" stroke-width="1.39"/>
<polygon points="447.09,153.52 438.99,149.47 438.99,157.57" fill="#e377c2" fill-opacity="0.5" stroke="#e377c2" stroke-opacity="0.5" stroke-width="1.39"/>
<polygon points="429.45,166.53 421.35,162.48 421.35,170.58" fill="#e377c2" fill-opacity="0.5" stroke="#e377c2" stroke-opacity="0.5" stroke-width="1.39"/>
<polygon points="450.82,134.52 442.72,130.47 442.72,138.57" fill="#e377c2" fill-opacity="0.5" stroke="#e377c2" stroke-opacity="0.5" stroke-width="1.39"/>
<polygon points="452.79,140.75 444.69,136.70 444.69,144.80" fill="#e377c2" fill-opacity="0.5" stroke="#e377c2" stroke-opacity="0.5" stroke-width="1.39"/>
<polygon points="445.62,149.04 437.52,144.99 437.52,153.09" fill="#e377c2" fill-opacity="0.5" stroke="#e377c2" stroke-opacity="0.5" stroke-width="1.39"/>
<polygon points="450.60,138.05 442.50,134.00 442.50,142.10" fill="#e377c2" fill-opacity="0.5" stroke="#e377c2" stroke-opacity="0.5" stroke-width="1.39"/>
<polygon points="447.48,146.10 439.38,142.05 439.38,150.15" fill="#e377c2" fill-opacity="0.5" stroke="#e377c2" stroke-opacity="0.5" stroke-width="1.39"/>
<polygon points="453.32,139.35 445.22,135.30 445.22,143.40" fill="#e377c2" fill-opacity="0.5" stroke="#e377c2" stroke-opacity="0.5" stroke-width="1.39"/>
<polygon points="449.96,147.83 441.86,143.78 441.86,151.88" fill="#e377c2" fill-opacity="0.5" stroke="#e377c2" stroke-opacity="0.5" stroke-width="1.39"/>
<polygon points="447.14,151.88 439.04,147.83 439.04,155.93" fill="#e377c2" fill-opacity="0.5" stroke="#e377c2" stroke-opacity="0.5" stroke-width="1.39"/>
<polygon points="476.80,122.19 468.70,118.14 468.70,126.24" fill="#e377c2" fill-opacity="0.5" stroke="#e377c2" stroke-opacity="0.5" stroke-width="1.39"/>
<polygon points="453.15,137.26 445.05,133.21 445.05,141.31" fill="#e377c2" fill-opacity="0.5" stroke="#e377c2" stroke-opacity="0.5" stroke-width="1.39"/>
<polygon points="446.21,146.08 438.11,142.03 438.11,150.13" fill="#e377c2" fill-opacity="0.5" stroke="#e377c2" stroke-opacity="0.5" stroke-width="1.39"/>
<polygon points="455.34,136.54 447.24,132.49 447.24,140.59" fill="#e377c2" fill-opacity="0.5" stroke="#e377c2" stroke-opacity="0.5" stroke-width="1.39"/>
<polygon points="444.78,140.76 436.68,136.71 436.68,144.81" fill="#e377c2" fill-opacity="0.5" stroke="#e377c2" stroke-opacity="0.5" stroke-width="1.39"/>
<polygon points="447.51,150.59 439.41,146.54 439.41,154.64" fill="#e377c2" fill-opacity="0.5" stroke="#e377c2" stroke-opacity="0.5" stroke-width="1.39"/>
<polygon points="430.64,165.61 422.54,161.56 422.54,169.66" fill="#e377c2" fill-opacity="0.5" stroke="#e377c2" stroke-opacity="0.5" stroke-width="1.39"/>
<polygon points="450.75,138.75 442.65,134.70 442.65,142.80" fill="#e377c2" fill-opacity="0.5" stroke="#e377c2" stroke-opacity="0.5" stroke-width="1.39"/>
<polygon points="451.48,141.88 443.38,137.83 443.38,145.93" fill="#e377c2" fill-opacity="0.5" stroke="#e377c2" stroke-opacity="0.5" stroke-width="1.39"/>
<polygon points="446.32,149.60 438.22,145.55 438.22,153.65" fill="#e377c2" fill-opacity="0.5" stroke="#e377c2" stroke-opacity="0.5" stroke-width="1.39"/>
<polygon points="456.03,144.46 447.93,140.41 447.93,148.51" fill="#e377c2" fill-opacity="0.5" stroke="#e377c2" stroke-opacity="0.5" stroke-width="1.39"/>
<polygon points="427.44,170.55 419.34,166.50 419.34,174.60" fill="#e377c2" fill-opacity="0.5" stroke="#e377c2" stroke-opacity="0.5" stroke-width="1.39"/>
<polygon points="450.46,155.90 442.36,151.85 442.36,159.95" fill="#e377c2" fill-opacity="0.5" stroke="#e377c2" stroke-opacity="0.5" stroke-width="1.39"/>
<polygon points="438.30,159.13 430.20,155.08 430.20,163.18" fill="#e377c2" fill-opacity="0.5" stroke="#e377c2" stroke-opacity="0.5" stroke-width="1.39"/>
<polygon points="449.20,150.66 441.10,146.61 441.10,154.71" fill="#e377c2" fill-opacity="0.5" stroke="#e377c2" stroke-opacity="0.5" stroke-width="1.39"/>
<polygon points="450.78,154.69 442.68,150.64 442.68,158.74" fill="#e377c2" fill-opacity="0.5" stroke="#e377c2" stroke-opacity="0.5" stroke-width="1.39"/>
<polygon points="450.22,145.88 442.12,141.83 442.12,149.93" fill="#e377c2" fill-opacity="0.5" stroke="#e377c2" stroke-opacity="0.5" stroke-width="1.39"/>
<polygon points="446.73,148.90 438.63,144.85 438.63,152.95" fill="#e377c2" fill-opacity="0.5" stroke="#e377c2" stroke-opacity="0.5" stroke-width="1.39"/>
<polygon points="454.34,141.93 446.24,137.88 446.24,145.98" fill="#e377c2" fill-opacity="0.5" stroke="#e377c2" stroke-opacity="0.5" stroke-width="1.39"/>
<polygon points="451.77,145.41 443.67,141.36 443.67,149.46" fill="#e377c2" fill-opacity="0.5" stroke="#e377c2" stroke-opacity="0.5" stroke-width="1.39"/>
<polygon points="450.21,137.74 442.11,133.69 442.11,141.79" fill="#e377c2" fill-opacity="0.5" stroke="#e377c2" stroke-opacity="0.5" stroke-width="1.39"/>
<polygon points="448.40,150.97 440.30,146.92 440.30,155.02" fill="#e377c2" fill-opacity="0.5" stroke="#e377c2" stroke-opacity="0.5" stroke-width="1.39"/>
<polygon points="449.00,144.19 440.90,140.14 440.90,148.24" fill="#e377c2" fill-opacity="0.5" stroke="#e377c2" stroke-opacity="0.5" stroke-width="1.39"/>
<polygon points="444.73,152.80 436.63,148.75 436.63,156.85" fill="#e377c2" fill-opacity="0.5" stroke="#e377c2" stroke-opacity="0.5" stroke-width="1.39"/>
<polygon points="416.72,177.86 408.62,173.81 408.62,181.91" fill="#e377c2" fill-opacity="0.5" stroke="#e377c2" stroke-opacity="0.5" stroke-width="1.39"/>
<polygon points="450.17,155.35 442.07,151.30 442.07,159.40" fill="#e377c2" fill-opacity="0.5" stroke="#e377c2" stroke-opacity="0.5" stroke-width="1.39"/>
<polygon points="447.64,151.62 439.54,147.57 439.54,155.67" fill="#e377c2" fill-opacity="0.5" stroke="#e377c2" stroke-opacity="0.5" stroke-width="1.39"/>
<polygon points="449.48,146.26 441.38,142.21 441.38,150.31" fill="#e377c2" fill-opacity="0.5" stroke="#e377c2" stroke-opacity="0.5" stroke-width="1.39"/>
<polygon points="444.67,159.77 436.57,155.72 436.57,163.82" fill="#e377c2" fill-opacity="0.5" stroke="#e377c2" stroke-opacity="0.5" stroke-width="1.39"/>
<polygon points="449.11,138.13 441.01,134.08 441.01,142.18" fill="#e377c2" fill-opacity="0.5" stroke="#e377c2" stroke-opacity="0.5" stroke-width="1.39"/>
<polygon points="446.00,152.68 437.90,148.63 437.90,156.73" fill="#e377c2" fill-opacity="0.5" stroke="#e377c2" stroke-opacity="0.5" stroke-width="1.39"/>
<polygon points="467.68,130.53 459.58,126.48 459.58,134.58" fill="#e377c2" fill-opacity="0.5" stroke="#e377c2" stroke-opacity="0.5" stroke-width="1.39"/>
<polygon points="454.08,146.66 445.98,142.61 445.98,150.71" fill="#e377c2" fill-opacity="0.5" stroke="#e377c2" stroke-opacity="0.5" stroke-width="1.39"/>
<polygon points="444.10,154.66 436.00,150.61 436.00,158.71" fill="#e377c2" fill-opacity="0.5" stroke="#e377c2" stroke-opacity="0.5" stroke-width="1.39"/>
<polygon points="450.88,141.72 442.78,137.67 442.78,145.77" fill="#e377c2" fill-opacity="0.5" stroke="#e377c2" stroke-opacity="0.5" stroke-width="1.39"/>
<polygon points="453.07,142.74 444.97,138.69 444.97,146.79" fill="#e377c2" fill-opacity="0.5" stroke="#e377c2" stroke-opacity="0.5" stroke-width="1.39"/>
<polygon points="454.57,140.70 446.47,136.65 446.47,144.75" fill="#e377c2" fill-opacity="0.5" stroke="#e377c2" stroke-opacity="0.5" stroke-width="1.39"/>
<polygon points="451.10,150.02 443.00,145.97 443.00,154.07" fill="#e377c2" fill-opacity="0.5" stroke="#e377c2" stroke-opacity="0.5" stroke-width="1.39"/>
<polygon points="450.96,143.87 442.86,139.82 442.86,147.92" fill="#e377c2" fill-opacity="0.5" stroke="#e377c2" stroke-opacity="0.5" stroke-width="1.39"/>
<polygon points="446.54,147.34 438.44,143.29 438.44,151.39" fill="#e377c2" fill-opacity="0.5" stroke="#e377c2" stroke-opacity="0.5" stroke-width="1.39"/>
<polygon points="504.80,91.45 500.95,94.25 502.42,98.78 507.18,98.78 508.65,94.25" fill="#7f7f7f" fill-opacity="0.5" stroke="#7f7f7f" stroke-opacity="0.5" stroke-width="1.39"/>
<polygon points="488.20,100.15 484.35,102.95 485.82,107.48 490.58,107.48 492.05,102.95" fill="#7f7f7f" fill-opacity="0.5" stroke="#7f7f7f" stroke-opacity="0.5" stroke-width="1.39"/>
<polygon points="482.30,105.95 478.45,108.75 479.92,113.28 484.68,113.28 486.15,108.75" fill="#7f7f7f" fill-opacity="0.5" stroke="#7f7f7f" stroke-opacity="0.5" stroke-width="1.39"/>
<polygon points="369.10,214.45 365.25,217.25 366.72,221.78 371.48,221.78 372.95,217.25" fill="#7f7f7f" fill-opacity="0.5" stroke="#7f7f7f" stroke-opacity="0.5" stroke-width="1.39"/>
<polygon points="372.10,212.95 368.25,215.75 369.72,220.28 374.48,220.28 375.95,215.75" fill="#7f7f7f" fill-opacity="0.5" stroke="#7f7f7f" stroke-opacity="0.5" stroke-width="1.39"/>
<polygon points="357.30,225.45 353.45,228.25 354.92,232.78 359.68,232.78 361.15,228.25" fill="#7f7f7f" fill-opacity="0.5" stroke="#7f7f7f" stroke-opacity="0.5" stroke-width="1.39"/>
<polygon points="358.10,237.55 354.25,240.35 355.72,244.88 360.48,244.88 361.95,240.35" fill="#7f7f7f" fill-opacity="0.5" stroke="#7f7f7f" stroke-opacity="0.5" stroke-width="1.39"/>
<polygon points="381.90,202.65 378.05,205.45 379.52,209.98 384.28,209.98 385.75,205.45" fill="#7f7f7f" fill-opacity="0.5" stroke="#7f7f7f" stroke-opacity="0.5" stroke-width="1.39"/>
<polygon points="401.70,184.85 397.85,187.65 399.32,192.18 404.08,192.18 405.55,187.65" fill="#7f7f7f" fill-opacity="0.5" stroke="#7f7f7f" stroke-opacity="0.5" stroke-width="1.39"/>
<polygon points="416.50,177.45 412.65,180.25 414.12,184.78 418.88,184.78 420.35,180.25" fill="#7f7f7f" fill-opacity="0.5" stroke="#7f7f7f" stroke-opacity="0.5" stroke-width="1.39"/>
<polygon points="423.90,161.15 420.05,163.95 421.52,168.48 426.28,168.48 427.75,163.95" fill="#7f7f7f" fill-opacity="0.5" stroke="#7f7f7f" stroke-opacity="0.5" stroke-width="1.39"/>
<polygon points="426.90,156.65 423.05,159.45 424.52,163.98 429.28,163.98 430.75,159.45" fill="#7f7f7f" fill-opacity="0.5" stroke="#7f7f7f" stroke-opacity="0.5" stroke-width="1.39"/>
<polygon points="449.68,132.49 445.82,135.29 447.30,139.82 452.06,139.82 453.53,135.29" fill="#7f7f7f" fill-opacity="0.5" stroke="#7f7f7f" stroke-opacity="0.5" stroke-width="1.39"/>
<polygon points="447.51,137.22 443.66,140.02 445.13,144.54 449.89,144.54 451.36,140.02" fill="#7f7f7f" fill-opacity="0.5" stroke="#7f7f7f" stroke-opacity="0.5" stroke-width="1.39"/>
<polygon points="454.71,134.92 450.86,137.71 452.33,142.24 457.09,142.24 458.56,137.71" fill="#7f7f7f" fill-opacity="0.5" stroke="#7f7f7f" stroke-opacity="0.5" stroke-width="1.39"/>
<polygon points="444.56,139.76 440.71,142.56 442.18,147.09 446.94,147.09 448.41,142.56" fill="#7f7f7f" fill-opacity="0.5" stroke="#7f7f7f" stroke-opacity="0.5" stroke-width="1.39"/>
<polygon points="440.09,150.47 436.24,153.27 437.71,157.80 442.47,157.80 443.94,153.27" fill="#7f7f7f" fill-opacity="0.5" stroke="#7f7f7f" stroke-opacity="0.5" stroke-width="1.39"/>
<polygon points="455.25,130.94 451.40,133.74 452.87,138.26 457.63,138.26 459.10,133.74" fill="#7f7f7f" fill-opacity="0.5" stroke="#7f7f7f" stroke-opacity="0.5" stroke-width="1.39"/>
<polygon points="444.90,146.19 441.05,148.99 442.52,153.52 447.28,153.52 448.75,148.99" fill="#7f7f7f" fill-opacity="0.5" stroke="#7f7f7f" stroke-opacity="0.5" stroke-width="1.39"/>
<polygon points="447.83,144.20 443.98,147.00 445.45,151.53 450.21,151.53 451.68,147.00" fill="#7f7f7f" fill-opacity="0.5" stroke="#7f7f7f" stroke-opacity="0.5" stroke-width="1.39"/>
<polygon points="460.95,130.41 457.10,133.21 458.57,137.74 463.34,137.74 464.81,133.21" fill="#7f7f7f" fill-opacity="0.5" stroke="#7f7f7f" stroke-opacity="0.5" stroke-width="1.39"/>
<polygon points="450.10,134.05 446.25,136.85 447.72,141.38 452.48,141.38 453.95,136.85" fill="#7f7f7f" fill-opacity="0.5" stroke="#7f7f7f" stroke-opacity="0.5" stroke-width="1.39"/>
<polygon points="446.54,145.05 442.69,147.85 444.16,152.38 448.92,152.38 450.40,147.85" fill="#7f7f7f" fill-opacity="0.5" stroke="#7f7f7f" stroke-opacity="0.5" stroke-width="1.39"/>
<polygon points="450.93,130.84 447.08,133.64 448.55,138.16 453.31,138.16 454.78,133.64" fill="#7f7f7f" fill-opacity="0.5" stroke="#7f7f7f" stroke-opacity="0.5" stroke-width="1.39"/>
<polygon points="444.64,145.82 440.79,148.61 442.26,153.14 447.02,153.14 448.49,148.61" fill="#7f7f7f" fill-opacity="0.5" stroke="#7f7f7f" stroke-opacity="0.5" stroke-width="1.39"/>
<polygon points="444.71,138.13 440.86,140.92 442.33,145.45 447.09,145.45 448.57,140.92" fill="#7f7f7f" fill-opacity="0.5" stroke="#7f7f7f" stroke-opacity="0.5" stroke-width="1.39"/>
<polygon points="443.23,145.44 439.38,148.24 440.85,152.77 445.61,152.77 447.08,148.24" fill="#7f7f7f" fill-opacity="0.5" stroke="#7f7f7f" stroke-opacity="0.5" stroke-width="1.39"/>
<polygon points="445.64,147.92 441.79,150.72 443.26,155.24 448.02,155.24 449.49,150.72" fill="#7f7f7f" fill-opacity="0.5" stroke="#7f7f7f" stroke-opacity="0.5" stroke-width="1.39"/>
<polygon points="442.77,151.26 438.91,154.06 440.38,158.59 445.15,158.59 446.62,154.06" fill="#7f7f7f" fill-opacity="0.5" stroke="#7f7f7f" stroke-opacity="0.5" stroke-width="1.39"/>
<polygon points="447.08,148.59 443.23,151.38 444.70,155.91 449.46,155.91 450.93,151.38" fill="#7f7f7f" fill-opacity="0.5" stroke="#7f7f7f" stroke-opacity="0.5" stroke-width="1.39"/>
<polygon points="447.04,143.50 443.19,146.30 444.66,150.83 449.42,150.83 450.89,146.30" fill="#7f7f7f" fill-opacity="0.5" stroke="#7f7f7f" stroke-opacity="0.5" stroke-width="1.39"/>
<polygon points="447.74,140.41 443.89,143.21 445.36,147.74 450.12,147.74 451.60,143.21" fill="#7f7f7f" fill-opacity="0.5" stroke="#7f7f7f" stroke-opacity="0.5" stroke-width="1.39"/>
<polygon points="439.29,150.00 435.44,152.80 436.91,157.32 441.67,157.32 443.14,152.80" fill="#7f7f7f" fill-opacity="0.5" stroke="#7f7f7f" stroke-opacity="0.5" stroke-width="1.39"/>
<polygon points="444.58,144.01 440.73,146.81 442.20,151.34 446.96,151.34 448.43,146.81" fill="#7f7f7f" fill-opacity="0.5" stroke="#7f7f7f" stroke-opacity="0.5" stroke-width="1.39"/>
<polygon points="449.21,142.77 445.35,145.57 446.83,150.09 451.59,150.09 453.06,145.57" fill="#7f7f7f" fill-opacity="0.5" stroke="#7f7f7f" stroke-opacity="0.5" stroke-width="1.39"/>
<polygon points="466.53,125.62 462.67,128.41 464.14,132.94 468.91,132.94 470.38,128.41" fill="#7f7f7f" fill-opacity="0.5" stroke="#7f7f7f" stroke-opacity="0.5" stroke-width="1.39"/>
<polygon points="439.15,153.10 435.30,155.90 436.77,160.43 441.53,160.43 443.00,155.90" fill="#7f7f7f" fill-opacity="0.5" stroke="#7f7f7f" stroke-opacity="0.5" stroke-width="1.39"/>
<polygon points="455.91,133.21 452.06,136.01 453.53,140.54 458.29,140.54 459.76,136.01" fill="#7f7f7f" fill-opacity="0.5" stroke="#7f7f7f" stroke-opacity="0.5" stroke-width="1.39"/>
<polygon points="450.54,139.70 446.69,142.50 448.16,147.03 452.92,147.03 454.39,142.50" fill="#7f7f7f" fill-opacity="0.5" stroke="#7f7f7f" stroke-opacity="0.5" stroke-width="1.39"/>
<polygon points="445.73,135.19 441.88,137.98 443.35,142.51 448.11,142.51 449.59,137.98" fill="#7f7f7f" fill-opacity="0.5" stroke="#7f7f7f" stroke-opacity="0.5" stroke-width="1.39"/>
<polygon points="445.42,141.58 441.57,144.37 443.04,148.90 447.80,148.90 449.27,144.37" fill="#7f7f7f" fill-opacity="0.5" stroke="#7f7f7f" stroke-opacity="0.5" stroke-width="1.39"/>
<polygon points="443.20,147.03 439.35,149.83 440.82,154.35 445.58,154.35 447.05,149.83" fill="#7f7f7f" fill-opacity="0.5" stroke="#7f7f7f" stroke-opacity="0.5" stroke-width="1.39"/>
<polygon points="426.06,164.54 422.21,167.34 423.68,171.86 428.44,171.86 429.91,167.34" fill="#7f7f7f" fill-opacity="0.5" stroke="#7f7f7f" stroke-opacity="0.5" stroke-width="1.39"/>
<polygon points="448.64,138.67 444.79,141.47 446.26,146.00 451.02,146.00 452.50,141.47" fill="#7f7f7f" fill-opacity="0.5" stroke="#7f7f7f" stroke-opacity="0.5" stroke-width="1.39"/>
<polygon points="445.55,142.42 441.70,145.22 443.17,149.75 447.93,149.75 449.40,145.22" fill="#7f7f7f" fill-opacity="0.5" stroke="#7f7f7f" stroke-opacity="0.5" stroke-width="1.39"/>
<polygon points="445.22,144.03 441.36,146.83 442.84,151.36 447.60,151.36 449.07,146.83" fill="#7f7f7f" fill-opacity="0.5" stroke="#7f7f7f" stroke-opacity="0.5" stroke-width="1.39"/>
<polygon points="450.86,137.84 447.01,140.64 448.48,145.16 453.24,145.16 454.71,140.64" fill="#7f7f7f" fill-opacity="0.5" stroke="#7f7f7f" stroke-opacity="0.5" stroke-width="1.39"/>
<polygon points="441.09,147.57 437.24,150.37 438.71,154.90 443.47,154.90 444.94,150.37" fill="#7f7f7f" fill-opacity="0.5" stroke="#7f7f7f" stroke-opacity="0.5" stroke-width="1.39"/>
<polygon points="446.01,149.95 442.16,152.75 443.63,157.27 448.39,157.27 449.86,152.75" fill="#7f7f7f" fill-opacity="0.5" stroke="#7f7f7f" stroke-opacity="0.5" stroke-width="1.39"/>
<polygon points="441.80,151.37 437.94,154.17 439.42,158.70 444.18,158.70 445.65,154.17" fill="#7f7f7f" fill-opacity="0.5" stroke="#7f7f7f" stroke-opacity="0.5" stroke-width="1.39"/>
<polygon points="447.26,147.54 443.41,150.34 444.88,154.87 449.64,154.87 451.11,150.34" fill="#7f7f7f" fill-opacity="0.5" stroke="#7f7f7f" stroke-opacity="0.5" stroke-width="1.39"/>
<polygon points="446.50,149.76 442.65,152.56 444.12,157.09 448.88,157.09 450.35,152.56" fill="#7f7f7f" fill-opacity="0.5" stroke="#7f7f7f" stroke-opacity="0.5" stroke-width="1.39"/>
<polygon points="441.42,143.90 437.57,146.70 439.04,151.23 443.80,151.23 445.27,146.70" fill="#7f7f7f" fill-opacity="0.5" stroke="#7f7f7f" stroke-opacity="0.5" stroke-width="1.39"/>
<polygon points="445.40,145.45 441.55,148.25 443.02,152.78 447.78,152.78 449.25,148.25" fill="#7f7f7f" fill-opacity="0.5" stroke="#7f7f7f" stroke-opacity="0.5" stroke-width="1.39"/>
<polygon points="447.66,141.24 443.81,144.04 445.28,148.56 450.05,148.56 451.52,144.04" fill="#7f7f7f" fill-opacity="0.5" stroke="#7f7f7f" stroke-opacity="0.5" stroke-width="1.39"/>
<polygon points="472.88,114.81 469.03,117.61 470.50,122.13 475.26,122.13 476.73,117.61" fill="#7f7f7f" fill-opacity="0.5" stroke="#7f7f7f" stroke-opacity="0.5" stroke-width="1.39"/>
<polygon points="452.04,131.46 448.19,134.26 449.66,138.78 454.42,138.78 455.89,134.26" fill="#7f7f7f" fill-opacity="0.5" stroke="#7f7f7f" stroke-opacity="0.5" stroke-width="1.39"/>
<polygon points="449.42,137.43 445.56,140.23 447.04,144.76 451.80,144.76 453.27,140.23" fill="#7f7f7f" fill-opacity="0.5" stroke="#7f7f7f" stroke-opacity="0.5" stroke-width="1.39"/>
<polygon points="439.45,148.25 435.60,151.05 437.07,155.58 441.83,155.58 443.30,151.05" fill="#7f7f7f" fill-opacity="0.5" stroke="#7f7f7f" stroke-opacity="0.5" stroke-width="1.39"/>
<polygon points="441.81,147.48 437.95,150.28 439.43,154.81 444.19,154.81 445.66,150.28" fill="#7f7f7f" fill-opacity="0.5" stroke="#7f7f7f" stroke-opacity="0.5" stroke-width="1.39"/>
<polygon points="446.65,143.39 442.80,146.19 444.27,150.72 449.03,150.72 450.50,146.19" fill="#7f7f7f" fill-opacity="0.5" stroke="#7f7f7f" stroke-opacity="0.5" stroke-width="1.39"/>
<polygon points="451.07,147.38 447.22,150.18 448.69,154.71 453.45,154.71 454.92,150.18" fill="#7f7f7f" fill-opacity="0.5" stroke="#7f7f7f" stroke-opacity="0.5" stroke-width="1.39"/>
<polygon points="448.26,142.73 444.41,145.52 445.88,150.05 450.65,150.05 452.12,145.52" fill="#7f7f7f" fill-opacity="0.5" stroke="#7f7f7f" stroke-opacity="0.5" stroke-width="1.39"/>
<polygon points="440.47,150.68 436.62,153.48 438.09,158.01 442.85,158.01 444.32,153.48" fill="#7f7f7f" fill-opacity="0.5" stroke="#7f7f7f" stroke-opacity="0.5" stroke-width="1.39"/>
<polygon points="447.40,141.47 443.54,144.27 445.02,148.80 449.78,148.80 451.25,144.27" fill="#7f7f7f" fill-opacity="0.5" stroke="#7f7f7f" stroke-opacity="0.5" stroke-width="1.39"/>
<polygon points="447.88,145.87 444.03,148.67 445.50,153.20 450.26,153.20 451.73,148.67" fill="#7f7f7f" fill-opacity="0.5" stroke="#7f7f7f" stroke-opacity="0.5" stroke-width="1.39"/>
<polygon points="449.31,143.19 445.46,145.98 446.93,150.51 451.69,150.51 453.17,145.98" fill="#7f7f7f" fill-opacity="0.5" stroke="#7f7f7f" stroke-opacity="0.5" stroke-width="1.39"/>
<polygon points="452.13,137.35 448.28,140.15 449.75,144.67 454.51,144.67 455.98,140.15" fill="#7f7f7f" fill-opacity="0.5" stroke="#7f7f7f" stroke-opacity="0.5" stroke-width="1.39"/>
<polygon points="427.03,162.05 423.18,164.85 424.65,169.38 429.41,169.38 430.88,164.85" fill="#7f7f7f" fill-opacity="0.5" stroke="#7f7f7f" stroke-opacity="0.5" stroke-width="1.39"/>
<polygon points="442.01,143.99 438.16,146.79 439.63,151.32 444.39,151.32 445.86,146.79" fill="#7f7f7f" fill-opacity="0.5" stroke="#7f7f7f" stroke-opacity="0.5" stroke-width="1.39"/>
<polygon points="448.40,143.68 444.55,146.48 446.02,151.00 450.78,151.00 452.25,146.48" fill="#7f7f7f" fill-opacity="0.5" stroke="#7f7f7f" stroke-opacity="0.5" stroke-width="1.39"/>
<polygon points="465.14,126.73 461.29,129.53 462.76,134.06 467.52,134.06 468.99,129.53" fill="#7f7f7f" fill-opacity="0.5" stroke="#7f7f7f" stroke-opacity="0.5" stroke-width="1.39"/>
<polygon points="450.57,134.11 446.72,136.91 448.19,141.43 452.95,141.43 454.42,136.91" fill="#7f7f7f" fill-opacity="0.5" stroke="#7f7f7f" stroke-opacity="0.5" stroke-width="1.39"/>
<polygon points="434.72,155.13 430.87,157.93 432.34,162.46 437.11,162.46 438.58,157.93" fill="#7f7f7f" fill-opacity="0.5" stroke="#7f7f7f" stroke-opacity="0.5" stroke-width="1.39"/>
<polygon points="423.40,162.77 419.55,165.56 421.02,170.09 425.78,170.09 427.25,165.56" fill="#7f7f7f" fill-opacity="0.5" stroke="#7f7f7f" stroke-opacity="0.5" stroke-width="1.39"/>
<polygon points="460.90,127.40 457.05,130.19 458.52,134.72 463.28,134.72 464.76,130.19" fill="#7f7f7f" fill-opacity="0.5" stroke="#7f7f7f" stroke-opacity="0.5" stroke-width="1.39"/>
<polygon points="446.43,145.37 442.58,148.17 444.05,152.70 448.81,152.70 450.28,148.17" fill="#7f7f7f" fill-opacity="0.5" stroke="#7f7f7f" stroke-opacity="0.5" stroke-width="1.39"/>
<polygon points="440.06,148.25 436.21,151.04 437.68,155.57 442.44,155.57 443.91,151.04" fill="#7f7f7f" fill-opacity="0.5" stroke="#7f7f7f" stroke-opacity="0.5" stroke-width="1.39"/>
<polygon points="448.61,137.45 444.76,140.25 446.23,144.78 450.99,144.78 452.47,140.25" fill="#7f7f7f" fill-opacity="0.5" stroke="#7f7f7f" stroke-opacity="0.5" stroke-width="1.39"/>
<polygon points="447.14,137.07 443.29,139.87 444.76,144.40 449.52,144.40 450.99,139.87" fill="#7f7f7f" fill-opacity="0.5" stroke="#7f7f7f" stroke-opacity="0.5" stroke-width="1.39"/>
<polygon points="442.82,151.00 438.97,153.80 440.44,158.32 445.20,158.32 446.67,153.80" fill="#7f7f7f" fill-opacity="0.5" stroke="#7f7f7f" stroke-opacity="0.5" stroke-width="1.39"/>
<polygon points="449.63,138.68 445.77,141.47 447.25,146.00 452.01,146.00 453.48,141.47" fill="#7f7f7f" fill-opacity="0.5" stroke="#7f7f7f" stroke-opacity="0.5" stroke-width="1.39"/>
<polygon points="450.54,140.70 446.69,143.49 448.16,148.02 452.92,148.02 454.39,143.49" fill="#7f7f7f" fill-opacity="0.5" stroke="#7f7f7f" stroke-opacity="0.5" stroke-width="1.39"/>
<polygon points="444.09,145.10 440.24,147.90 441.71,152.43 446.47,152.43 447.94,147.90" fill="#7f7f7f" fill-opacity="0.5" stroke="#7f7f7f" stroke-opacity="0.5" stroke-width="1.39"/>
<polygon points="442.01,144.06 438.16,146.86 439.63,151.39 444.39,151.39 445.86,146.86" fill="#7f7f7f" fill-opacity="0.5" stroke="#7f7f7f" stroke-opacity="0.5" stroke-width="1.39"/>
<polygon points="444.03,142.96 440.18,145.76 441.65,150.29 446.41,150.29 447.88,145.76" fill="#7f7f7f" fill-opacity="0.5" stroke="#7f7f7f" stroke-opacity="0.5" stroke-width="1.39"/>
<polygon points="454.83,132.96 450.98,135.76 452.45,140.29 457.21,140.29 458.68,135.76" fill="#7f7f7f" fill-opacity="0.5" stroke="#7f7f7f" stroke-opacity="0.5" stroke-width="1.39"/>
<polygon points="446.51,142.23 442.66,145.02 444.13,149.55 448.89,149.55 450.36,145.02" fill="#7f7f7f" fill-opacity="0.5" stroke="#7f7f7f" stroke-opacity="0.5" stroke-width="1.39"/>
<polygon points="439.48,153.04 435.63,155.84 437.10,160.37 441.87,160.37 443.34,155.84" fill="#7f7f7f" fill-opacity="0.5" stroke="#7f7f7f" stroke-opacity="0.5" stroke-width="1.39"/>
<polygon points="445.62,157.20 441.77,159.99 443.24,164.52 448.00,164.52 449.47,159.99" fill="#7f7f7f" fill-opacity="0.5" stroke="#7f7f7f" stroke-opacity="0.5" stroke-width="1.39"/>
<polygon points="443.20,146.77 439.34,149.56 440.82,154.09 445.58,154.09 447.05,149.56" fill="#7f7f7f" fill-opacity="0.5" stroke="#7f7f7f" stroke-opacity="0.5" stroke-width="1.39"/>
<polygon points="446.92,141.33 443.06,144.13 444.53,148.65 449.30,148.65 450.77,144.13" fill="#7f7f7f" fill-opacity="0.5" stroke="#7f7f7f" stroke-opacity="0.5" stroke-width="1.39"/>
<polygon points="448.91,145.11 445.06,147.90 446.53,152.43 451.29,152.43 452.76,147.90" fill="#7f7f7f" fill-opacity="0.5" stroke="#7f7f7f" stroke-opacity="0.5" stroke-width="1.39"/>
<polygon points="449.37,143.28 445.52,146.08 446.99,150.61 451.75,150.61 453.22,146.08" fill="#7f7f7f" fill-opacity="0.5" stroke="#7f7f7f" stroke-opacity="0.5" stroke-width="1.39"/>
<polygon points="443.41,142.02 439.56,144.82 441.03,149.35 445.79,149.35 447.26,144.82" fill="#7f7f7f" fill-opacity="0.5" stroke="#7f7f7f" stroke-opacity="0.5" stroke-width="1.39"/>
<polygon points="452.27,129.58 448.42,132.38 449.89,136.91 454.65,136.91 456.13,132.38" fill="#7f7f7f" fill-opacity="0.5" stroke="#7f7f7f" stroke-opacity="0.5" stroke-width="1.39"/>
<polygon points="454.56,133.86 450.71,136.65 452.18,141.18 456.94,141.18 458.41,136.65" fill="#7f7f7f" fill-opacity="0.5" stroke="#7f7f7f" stroke-opacity="0.5" stroke-width="1.39"/>
<polygon points="461.00,128.72 457.14,131.52 458.62,136.05 463.38,136.05 464.85,131.52" fill="#7f7f7f" fill-opacity="0.5" stroke="#7f7f7f" stroke-opacity="0.5" stroke-width="1.39"/>
<polygon points="453.69,142.00 449.84,144.80 451.31,149.33 456.07,149.33 457.54,144.80" fill="#7f7f7f" fill-opacity="0.5" stroke="#7f7f7f" stroke-opacity="0.5" stroke-width="1.39"/>
<polygon points="447.62,144.41 443.77,147.21 445.24,151.73 450.00,151.73 451.47,147.21" fill="#7f7f7f" fill-opacity="0.5" stroke="#7f7f7f" stroke-opacity="0.5" stroke-width="1.39"/>
<line x1="348.14" y1="240.05" x2="547.46" y2="50.85" stroke="#7f7f7f" stroke-opacity="0.5" stroke-width="2.08" stroke-linecap="round"/>
</g>
<rect x="338.5" y="29.9" width="218.85" height="222.05" fill="none" stroke="#000" stroke-width="1.11" stroke-linecap="square"/>
<line x1="357.20" y1="251.95" x2="357.20" y2="256.81" stroke="#000" stroke-width="1.11"/>
<text transform="scale(1.1540,1)" x="295.78 304.61 312.20 315.78" y="271.60" font-size="14.4">−1.0</text>
<line x1="402.50" y1="251.95" x2="402.50" y2="256.81" stroke="#000" stroke-width="1.11"/>
<text transform="scale(1.1644,1)" x="332.06 340.89 348.48 352.06" y="271.60" font-size="14.4">−0.5</text>
<line x1="447.80" y1="251.95" x2="447.80" y2="256.81" stroke="#000" stroke-width="1.11"/>
<text transform="scale(1.0883,1)" x="401.47 409.48 413.48" y="271.60" font-size="14.4">0.0</text>
<line x1="493.10" y1="251.95" x2="493.10" y2="256.81" stroke="#000" stroke-width="1.11"/>
<text transform="scale(1.1034,1)" x="437.01 445.02 449.02" y="271.60" font-size="14.4">0.5</text>
<line x1="538.40" y1="251.95" x2="538.40" y2="256.81" stroke="#000" stroke-width="1.11"/>
<text transform="scale(1.1229,1)" x="469.18 477.19 481.19" y="271.60" font-size="14.4">1.0</text>
<line x1="333.64" y1="59.45" x2="338.5" y2="59.45" stroke="#000" stroke-width="1.11"/>
<text transform="scale(1.1229,1)" x="273.44 281.45 285.45" y="64.60" font-size="14.4">1.0</text>
<line x1="333.64" y1="102.45" x2="338.5" y2="102.45" stroke="#000" stroke-width="1.11"/>
<text transform="scale(1.1034,1)" x="278.86 286.87 290.87" y="107.60" font-size="14.4">0.5</text>
<line x1="333.64" y1="145.45" x2="338.5" y2="145.45" stroke="#000" stroke-width="1.11"/>
<text transform="scale(1.0883,1)" x="282.75 290.76 294.76" y="150.60" font-size="14.4">0.0</text>
<line x1="333.64" y1="188.45" x2="338.5" y2="188.45" stroke="#000" stroke-width="1.11"/>
<text transform="scale(1.1644,1)" x="255.49 264.32 271.91 275.49" y="193.60" font-size="14.4">−0.5</text>
<line x1="333.64" y1="231.45" x2="338.5" y2="231.45" stroke="#000" stroke-width="1.11"/>
<text transform="scale(1.1540,1)" x="257.78 266.61 274.20 277.78" y="236.60" font-size="14.4">−1.0</text>
<text transform="scale(1.0209,1)" x="359.09 367.90 371.30 379.62 387.85 391.40 400.65 408.96 417.27 425.76 429.31 437.76 445.42 449.30 458.74 466.05 469.72 478.05 486.02" y="289.50" font-size="14.4">True Shapley Values</text>
<text x="507.51" y="289.50" font-size="14.4" textLength="19.66" lengthAdjust="spacingAndGlyphs">(<tspan font-style="italic">ϕ</tspan>)</text>
<clipPath id="c2"><rect x="601.1" y="29.9" width="219.10" height="222.05"/></clipPath>
<g clip-path="url(#c2)">
<circle cx="801.30" cy="49.20" r="4.05" fill="#1f77b4" fill-opacity="0.5" stroke="#1f77b4" stroke-opacity="0.5" stroke-width="1.39"/>
<circle cx="706.82" cy="142.66" r="4.05" fill="#1f77b4" fill-opacity="0.5" stroke="#1f77b4" stroke-opacity="0.5" stroke-width="1.39"/>
<circle cx="708.59" cy="146.88" r="4.05" fill="#1f77b4" fill-opacity="0.5" stroke="#1f77b4" stroke-opacity="0.5" stroke-width="1.39"/>
<rect x="797.25" y="44.95" width="8.10" height="8.10" fill="#ff7f0e" fill-opacity="0.5" stroke="#ff7f0e" stroke-opacity="0.5" stroke-width="1.39"/>
<rect x="659.15" y="186.35" width="8.10" height="8.10" fill="#ff7f0e" fill-opacity="0.5" stroke="#ff7f0e" stroke-opacity="0.5" stroke-width="1.39"/>
<rect x="716.75" y="119.25" width="8.10" height="8.10" fill="#ff7f0e" fill-opacity="0.5" stroke="#ff7f0e" stroke-opacity="0.5" stroke-width="1.39"/>
<rect x="705.58" y="135.58" width="8.10" height="8.10" fill="#ff7f0e" fill-opacity="0.5" stroke="#ff7f0e" stroke-opacity="0.5" stroke-width="1.39"/>
<rect x="706.35" y="137.70" width="8.10" height="8.10" fill="#ff7f0e" fill-opacity="0.5" stroke="#ff7f0e" stroke-opacity="0.5" stroke-width="1.39"/>
<rect x="707.99" y="134.31" width="8.10" height="8.10" fill="#ff7f0e" fill-opacity="0.5" stroke="#ff7f0e" stroke-opacity="0.5" stroke-width="1.39"/>
<rect x="706.00" y="132.53" width="8.10" height="8.10" fill="#ff7f0e" fill-opacity="0.5" stroke="#ff7f0e" stroke-opacity="0.5" stroke-width="1.39"/>
<rect x="709.60" y="134.39" width="8.10" height="8.10" fill="#ff7f0e" fill-opacity="0.5" stroke="#ff7f0e" stroke-opacity="0.5" stroke-width="1.39"/>
<polygon points="801.20,43.17 806.93,48.90 801.20,54.63 795.47,48.90" fill="#2ca02c" fill-opacity="0.5" stroke="#2ca02c" stroke-opacity="0.5" stroke-width="1.39"/>
<polygon points="761.10,82.47 766.83,88.20 761.10,93.93 755.37,88.20" fill="#2ca02c" fill-opacity="0.5" stroke="#2ca02c" stroke-opacity="0.5" stroke-width="1.39"/>
<polygon points="731.40,104.27 737.13,110.00 731.40,115.73 725.67,110.00" fill="#2ca02c" fill-opacity="0.5" stroke="#2ca02c" stroke-opacity="0.5" stroke-width="1.39"/>
<polygon points="743.00,107.17 748.73,112.90 743.00,118.63 737.27,112.90" fill="#2ca02c" fill-opacity="0.5" stroke="#2ca02c" stroke-opacity="0.5" stroke-width="1.39"/>
<polygon points="621.10,221.67 626.83,227.40 621.10,233.13 615.37,227.40" fill="#2ca02c" fill-opacity="0.5" stroke="#2ca02c" stroke-opacity="0.5" stroke-width="1.39"/>
<polygon points="640.10,205.37 645.83,211.10 640.10,216.83 634.37,211.10" fill="#2ca02c" fill-opacity="0.5" stroke="#2ca02c" stroke-opacity="0.5" stroke-width="1.39"/>
<polygon points="641.00,210.67 646.73,216.40 641.00,222.13 635.27,216.40" fill="#2ca02c" fill-opacity="0.5" stroke="#2ca02c" stroke-opacity="0.5" stroke-width="1.39"/>
<polygon points="673.60,175.77 679.33,181.50 673.60,187.23 667.87,181.50" fill="#2ca02c" fill-opacity="0.5" stroke="#2ca02c" stroke-opacity="0.5" stroke-width="1.39"/>
<polygon points="771.50,66.65 775.55,74.75 767.45,74.75" fill="#d62728" fill-opacity="0.5" stroke="#d62728" stroke-opacity="0.5" stroke-width="1.39"/>
<polygon points="791.00,63.25 795.05,71.35 786.95,71.35" fill="#d62728" fill-opacity="0.5" stroke="#d62728" stroke-opacity="0.5" stroke-width="1.39"/>
<polygon points="763.40,91.45 767.45,99.55 759.35,99.55" fill="#d62728" fill-opacity="0.5" stroke="#d62728" stroke-opacity="0.5" stroke-width="1.39"/>
<polygon points="620.30,205.55 624.35,213.65 616.25,213.65" fill="#d62728" fill-opacity="0.5" stroke="#d62728" stroke-opacity="0.5" stroke-width="1.39"/>
<polygon points="681.60,176.55 685.65,184.65 677.55,184.65" fill="#d62728" fill-opacity="0.5" stroke="#d62728" stroke-opacity="0.5" stroke-width="1.39"/>
<polygon points="711.30,149.95 715.35,158.05 707.25,158.05" fill="#d62728" fill-opacity="0.5" stroke="#d62728" stroke-opacity="0.5" stroke-width="1.39"/>
<polygon points="724.00,130.95 728.05,139.05 719.95,139.05" fill="#d62728" fill-opacity="0.5" stroke="#d62728" stroke-opacity="0.5" stroke-width="1.39"/>
<polygon points="706.42,150.85 710.47,158.95 702.37,158.95" fill="#d62728" fill-opacity="0.5" stroke="#d62728" stroke-opacity="0.5" stroke-width="1.39"/>
<polygon points="741.08,106.71 745.13,114.81 737.03,114.81" fill="#d62728" fill-opacity="0.5" stroke="#d62728" stroke-opacity="0.5" stroke-width="1.39"/>
<polygon points="710.02,135.41 714.07,143.51 705.97,143.51" fill="#d62728" fill-opacity="0.5" stroke="#d62728" stroke-opacity="0.5" stroke-width="1.39"/>
<polygon points="710.20,140.10 714.25,148.20 706.15,148.20" fill="#d62728" fill-opacity="0.5" stroke="#d62728" stroke-opacity="0.5" stroke-width="1.39"/>
<polygon points="713.80,130.80 717.85,138.90 709.75,138.90" fill="#d62728" fill-opacity="0.5" stroke="#d62728" stroke-opacity="0.5" stroke-width="1.39"/>
<polygon points="712.47,134.17 716.52,142.27 708.42,142.27" fill="#d62728" fill-opacity="0.5" stroke="#d62728" stroke-opacity="0.5" stroke-width="1.39"/>
<polygon points="707.80,152.20 711.85,160.30 703.75,160.30" fill="#d62728" fill-opacity="0.5" stroke="#d62728" stroke-opacity="0.5" stroke-width="1.39"/>
<polygon points="801.30,55.65 805.35,47.55 797.25,47.55" fill="#9467bd" fill-opacity="0.5" stroke="#9467bd" stroke-opacity="0.5" stroke-width="1.39"/>
<polygon points="744.50,106.85 748.55,98.75 740.45,98.75" fill="#9467bd" fill-opacity="0.5" stroke="#9467bd" stroke-opacity="0.5" stroke-width="1.39"/>
<polygon points="737.20,114.05 741.25,105.95 733.15,105.95" fill="#9467bd" fill-opacity="0.5" stroke="#9467bd" stroke-opacity="0.5" stroke-width="1.39"/>
<polygon points="646.90,206.25 650.95,198.15 642.85,198.15" fill="#9467bd" fill-opacity="0.5" stroke="#9467bd" stroke-opacity="0.5" stroke-width="1.39"/>
<polygon points="679.50,175.15 683.55,167.05 675.45,167.05" fill="#9467bd" fill-opacity="0.5" stroke="#9467bd" stroke-opacity="0.5" stroke-width="1.39"/>
<polygon points="716.52,141.65 720.57,133.55 712.47,133.55" fill="#9467bd" fill-opacity="0.5" stroke="#9467bd" stroke-opacity="0.5" stroke-width="1.39"/>
<polygon points="708.89,149.12 712.94,141.02 704.84,141.02" fill="#9467bd" fill-opacity="0.5" stroke="#9467bd" stroke-opacity="0.5" stroke-width="1.39"/>
<polygon points="708.31,151.60 712.36,143.50 704.26,143.50" fill="#9467bd" fill-opacity="0.5" stroke="#9467bd" stroke-opacity="0.5" stroke-width="1.39"/>
<polygon points="709.39,145.16 713.44,137.06 705.34,137.06" fill="#9467bd" fill-opacity="0.5" stroke="#9467bd" stroke-opacity="0.5" stroke-width="1.39"/>
<polygon points="733.18,124.20 737.23,116.10 729.13,116.10" fill="#9467bd" fill-opacity="0.5" stroke="#9467bd" stroke-opacity="0.5" stroke-width="1.39"/>
<polygon points="719.37,138.60 723.42,130.50 715.32,130.50" fill="#9467bd" fill-opacity="0.5" stroke="#9467bd" stroke-opacity="0.5" stroke-width="1.39"/>
<polygon points="711.99,143.92 716.04,135.82 707.94,135.82" fill="#9467bd" fill-opacity="0.5" stroke="#9467bd" stroke-opacity="0.5" stroke-width="1.39"/>
<polygon points="714.58,143.34 718.63,135.24 710.53,135.24" fill="#9467bd" fill-opacity="0.5" stroke="#9467bd" stroke-opacity="0.5" stroke-width="1.39"/>
<polygon points="691.70,162.28 695.75,154.18 687.65,154.18" fill="#9467bd" fill-opacity="0.5" stroke="#9467bd" stroke-opacity="0.5" stroke-width="1.39"/>
<polygon points="715.72,134.90 719.77,126.80 711.67,126.80" fill="#9467bd" fill-opacity="0.5" stroke="#9467bd" stroke-opacity="0.5" stroke-width="1.39"/>
<polygon points="711.99,146.07 716.04,137.97 707.94,137.97" fill="#9467bd" fill-opacity="0.5" stroke="#9467bd" stroke-opacity="0.5" stroke-width="1.39"/>
<polygon points="711.51,147.66 715.56,139.56 707.46,139.56" fill="#9467bd" fill-opacity="0.5" stroke="#9467bd" stroke-opacity="0.5" stroke-width="1.39"/>
<polygon points="676.68,177.01 680.73,168.91 672.63,168.91" fill="#9467bd" fill-opacity="0.5" stroke="#9467bd" stroke-opacity="0.5" stroke-width="1.39"/>
<polygon points="713.51,143.13 717.56,135.03 709.46,135.03" fill="#9467bd" fill-opacity="0.5" stroke="#9467bd" stroke-opacity="0.5" stroke-width="1.39"/>
<polygon points="707.28,147.58 711.33,139.48 703.23,139.48" fill="#9467bd" fill-opacity="0.5" stroke="#9467bd" stroke-opacity="0.5" stroke-width="1.39"/>
<polygon points="707.03,150.47 711.08,142.37 702.98,142.37" fill="#9467bd" fill-opacity="0.5" stroke="#9467bd" stroke-opacity="0.5" stroke-width="1.39"/>
<polygon points="706.97,143.37 711.02,135.27 702.92,135.27" fill="#9467bd" fill-opacity="0.5" stroke="#9467bd" stroke-opacity="0.5" stroke-width="1.39"/>
<polygon points="740.02,115.76 744.07,107.66 735.97,107.66" fill="#9467bd" fill-opacity="0.5" stroke="#9467bd" stroke-opacity="0.5" stroke-width="1.39"/>
<polygon points="711.64,139.30 715.69,131.20 707.59,131.20" fill="#9467bd" fill-opacity="0.5" stroke="#9467bd" stroke-opacity="0.5" stroke-width="1.39"/>
<polygon points="713.28,149.69 717.33,141.59 709.23,141.59" fill="#9467bd" fill-opacity="0.5" stroke="#9467bd" stroke-opacity="0.5" stroke-width="1.39"/>
<polygon points="718.73,137.84 722.78,129.74 714.68,129.74" fill="#9467bd" fill-opacity="0.5" stroke="#9467bd" stroke-opacity="0.5" stroke-width="1.39"/>
<polygon points="715.77,146.63 719.82,138.53 711.72,138.53" fill="#9467bd" fill-opacity="0.5" stroke="#9467bd" stroke-opacity="0.5" stroke-width="1.39"/>
<polygon points="711.39,140.68 715.44,132.58 707.34,132.58" fill="#9467bd" fill-opacity="0.5" stroke="#9467bd" stroke-opacity="0.5" stroke-width="1.39"/>
<polygon points="709.70,147.70 713.75,139.60 705.65,139.60" fill="#9467bd" fill-opacity="0.5" stroke="#9467bd" stroke-opacity="0.5" stroke-width="1.39"/>
<polygon points="709.40,150.54 713.45,142.44 705.35,142.44" fill="#9467bd" fill-opacity="0.5" stroke="#9467bd" stroke-opacity="0.5" stroke-width="1.39"/>
<polygon points="712.80,142.30 716.85,134.20 708.75,134.20" fill="#9467bd" fill-opacity="0.5" stroke="#9467bd" stroke-opacity="0.5" stroke-width="1.39"/>
<polygon points="730.85,124.13 734.90,116.03 726.80,116.03" fill="#9467bd" fill-opacity="0.5" stroke="#9467bd" stroke-opacity="0.5" stroke-width="1.39"/>
<polygon points="713.47,145.89 717.52,137.79 709.42,137.79" fill="#9467bd" fill-opacity="0.5" stroke="#9467bd" stroke-opacity="0.5" stroke-width="1.39"/>
<polygon points="709.96,147.48 714.01,139.38 705.91,139.38" fill="#9467bd" fill-opacity="0.5" stroke="#9467bd" stroke-opacity="0.5" stroke-width="1.39"/>
<polygon points="705.74,148.62 709.79,140.52 701.69,140.52" fill="#9467bd" fill-opacity="0.5" stroke="#9467bd" stroke-opacity="0.5" stroke-width="1.39"/>
<polygon points="693.42,159.71 697.47,151.61 689.37,151.61" fill="#9467bd" fill-opacity="0.5" stroke="#9467bd" stroke-opacity="0.5" stroke-width="1.39"/>
<polygon points="710.31,144.82 714.36,136.72 706.26,136.72" fill="#9467bd" fill-opacity="0.5" stroke="#9467bd" stroke-opacity="0.5" stroke-width="1.39"/>
<polygon points="706.54,147.93 710.59,139.83 702.49,139.83" fill="#9467bd" fill-opacity="0.5" stroke="#9467bd" stroke-opacity="0.5" stroke-width="1.39"/>
<polygon points="714.28,146.93 718.33,138.83 710.23,138.83" fill="#9467bd" fill-opacity="0.5" stroke="#9467bd" stroke-opacity="0.5" stroke-width="1.39"/>
<polygon points="709.26,148.23 713.31,140.13 705.21,140.13" fill="#9467bd" fill-opacity="0.5" stroke="#9467bd" stroke-opacity="0.5" stroke-width="1.39"/>
<polygon points="710.26,142.90 714.31,134.80 706.21,134.80" fill="#9467bd" fill-opacity="0.5" stroke="#9467bd" stroke-opacity="0.5" stroke-width="1.39"/>
<polygon points="706.12,150.24 710.17,142.14 702.07,142.14" fill="#9467bd" fill-opacity="0.5" stroke="#9467bd" stroke-opacity="0.5" stroke-width="1.39"/>
<polygon points="714.26,144.62 718.31,136.52 710.21,136.52" fill="#9467bd" fill-opacity="0.5" stroke="#9467bd" stroke-opacity="0.5" stroke-width="1.39"/>
<polygon points="713.15,153.61 717.20,145.51 709.10,145.51" fill="#9467bd" fill-opacity="0.5" stroke="#9467bd" stroke-opacity="0.5" stroke-width="1.39"/>
<polygon points="709.89,148.38 713.94,140.28 705.84,140.28" fill="#9467bd" fill-opacity="0.5" stroke="#9467bd" stroke-opacity="0.5" stroke-width="1.39"/>
<polygon points="717.96,136.36 722.01,128.26 713.91,128.26" fill="#9467bd" fill-opacity="0.5" stroke="#9467bd" stroke-opacity="0.5" stroke-width="1.39"/>
<polygon points="709.11,145.90 713.16,137.80 705.06,137.80" fill="#9467bd" fill-opacity="0.5" stroke="#9467bd" stroke-opacity="0.5" stroke-width="1.39"/>
<polygon points="713.84,145.72 717.89,137.62 709.79,137.62" fill="#9467bd" fill-opacity="0.5" stroke="#9467bd" stroke-opacity="0.5" stroke-width="1.39"/>
<polygon points="706.69,148.36 710.74,140.26 702.64,140.26" fill="#9467bd" fill-opacity="0.5" stroke="#9467bd" stroke-opacity="0.5" stroke-width="1.39"/>
<polygon points="701.05,155.42 705.10,147.32 697.00,147.32" fill="#9467bd" fill-opacity="0.5" stroke="#9467bd" stroke-opacity="0.5" stroke-width="1.39"/>
<polygon points="709.31,146.11 713.36,138.01 705.26,138.01" fill="#9467bd" fill-opacity="0.5" stroke="#9467bd" stroke-opacity="0.5" stroke-width="1.39"/>
<polygon points="714.21,145.12 718.26,137.02 710.16,137.02" fill="#9467bd" fill-opacity="0.5" stroke="#9467bd" stroke-opacity="0.5" stroke-width="1.39"/>
<polygon points="710.98,147.09 715.03,138.99 706.93,138.99" fill="#9467bd" fill-opacity="0.5" stroke="#9467bd" stroke-opacity="0.5" stroke-width="1.39"/>
<polygon points="797.15,48.90 805.25,44.85 805.25,52.95" fill="#8c564b" fill-opacity="0.5" stroke="#8c564b" stroke-opacity="0.5" stroke-width="1.39"/>
<polygon points="776.25,72.20 784.35,68.15 784.35,76.25" fill="#8c564b" fill-opacity="0.5" stroke="#8c564b" stroke-opacity="0.5" stroke-width="1.39"/>
<polygon points="651.75,196.90 659.85,192.85 659.85,200.95" fill="#8c564b" fill-opacity="0.5" stroke="#8c564b" stroke-opacity="0.5" stroke-width="1.39"/>
<polygon points="694.75,157.80 702.85,153.75 702.85,161.85" fill="#8c564b" fill-opacity="0.5" stroke="#8c564b" stroke-opacity="0.5" stroke-width="1.39"/>
<polygon points="709.74,137.39 717.84,133.34 717.84,141.44" fill="#8c564b" fill-opacity="0.5" stroke="#8c564b" stroke-opacity="0.5" stroke-width="1.39"/>
<polygon points="703.19,147.67 711.29,143.62 711.29,151.72" fill="#8c564b" fill-opacity="0.5" stroke="#8c564b" stroke-opacity="0.5" stroke-width="1.39"/>
<polygon points="707.30,129.12 715.40,125.07 715.40,133.17" fill="#8c564b" fill-opacity="0.5" stroke="#8c564b" stroke-opacity="0.5" stroke-width="1.39"/>
<polygon points="706.21,144.73 714.31,140.68 714.31,148.78" fill="#8c564b" fill-opacity="0.5" stroke="#8c564b" stroke-opacity="0.5" stroke-width="1.39"/>
<polygon points="710.56,141.72 718.66,137.67 718.66,145.77" fill="#8c564b" fill-opacity="0.5" stroke="#8c564b" stroke-opacity="0.5" stroke-width="1.39"/>
<polygon points="703.55,144.37 711.65,140.32 711.65,148.42" fill="#8c564b" fill-opacity="0.5" stroke="#8c564b" stroke-opacity="0.5" stroke-width="1.39"/>
<polygon points="708.61,147.59 716.71,143.54 716.71,151.64" fill="#8c564b" fill-opacity="0.5" stroke="#8c564b" stroke-opacity="0.5" stroke-width="1.39"/>
<polygon points="708.19,139.22 716.29,135.17 716.29,143.27" fill="#8c564b" fill-opacity="0.5" stroke="#8c564b" stroke-opacity="0.5" stroke-width="1.39"/>
<polygon points="709.65,143.37 717.75,139.32 717.75,147.42" fill="#8c564b" fill-opacity="0.5" stroke="#8c564b" stroke-opacity="0.5" stroke-width="1.39"/>
<polygon points="708.39,135.60 716.49,131.55 716.49,139.65" fill="#8c564b" fill-opacity="0.5" stroke="#8c564b" stroke-opacity="0.5" stroke-width="1.39"/>
<polygon points="709.88,138.87 717.98,134.82 717.98,142.92" fill="#8c564b" fill-opacity="0.5" stroke="#8c564b" stroke-opacity="0.5" stroke-width="1.39"/>
<polygon points="716.41,134.83 724.51,130.78 724.51,138.88" fill="#8c564b" fill-opacity="0.5" stroke="#8c564b" stroke-opacity="0.5" stroke-width="1.39"/>
<polygon points="717.51,131.04 725.61,126.99 725.61,135.09" fill="#8c564b" fill-opacity="0.5" stroke="#8c564b" stroke-opacity="0.5" stroke-width="1.39"/>
<polygon points="705.84,140.06 713.94,136.01 713.94,144.11" fill="#8c564b" fill-opacity="0.5" stroke="#8c564b" stroke-opacity="0.5" stroke-width="1.39"/>
<polygon points="706.55,139.46 714.65,135.41 714.65,143.51" fill="#8c564b" fill-opacity="0.5" stroke="#8c564b" stroke-opacity="0.5" stroke-width="1.39"/>
<polygon points="712.31,135.74 720.41,131.69 720.41,139.79" fill="#8c564b" fill-opacity="0.5" stroke="#8c564b" stroke-opacity="0.5" stroke-width="1.39"/>
<polygon points="677.19,169.35 685.29,165.30 685.29,173.40" fill="#8c564b" fill-opacity="0.5" stroke="#8c564b" stroke-opacity="0.5" stroke-width="1.39"/>
<polygon points="704.55,147.06 712.65,143.01 712.65,151.11" fill="#8c564b" fill-opacity="0.5" stroke="#8c564b" stroke-opacity="0.5" stroke-width="1.39"/>
<polygon points="707.17,141.87 715.27,137.82 715.27,145.92" fill="#8c564b" fill-opacity="0.5" stroke="#8c564b" stroke-opacity="0.5" stroke-width="1.39"/>
<polygon points="680.62,166.39 688.72,162.34 688.72,170.44" fill="#8c564b" fill-opacity="0.5" stroke="#8c564b" stroke-opacity="0.5" stroke-width="1.39"/>
<polygon points="704.40,139.86 712.50,135.81 712.50,143.91" fill="#8c564b" fill-opacity="0.5" stroke="#8c564b" stroke-opacity="0.5" stroke-width="1.39"/>
<polygon points="712.35,136.44 720.45,132.39 720.45,140.49" fill="#8c564b" fill-opacity="0.5" stroke="#8c564b" stroke-opacity="0.5" stroke-width="1.39"/>
<polygon points="704.08,146.66 712.18,142.61 712.18,150.71" fill="#8c564b" fill-opacity="0.5" stroke="#8c564b" stroke-opacity="0.5" stroke-width="1.39"/>
<polygon points="717.72,131.45 725.82,127.40 725.82,135.50" fill="#8c564b" fill-opacity="0.5" stroke="#8c564b" stroke-opacity="0.5" stroke-width="1.39"/>
<polygon points="705.84,140.36 713.94,136.31 713.94,144.41" fill="#8c564b" fill-opacity="0.5" stroke="#8c564b" stroke-opacity="0.5" stroke-width="1.39"/>
<polygon points="716.64,133.83 724.74,129.78 724.74,137.88" fill="#8c564b" fill-opacity="0.5" stroke="#8c564b" stroke-opacity="0.5" stroke-width="1.39"/>
<polygon points="698.01,148.76 706.11,144.71 706.11,152.81" fill="#8c564b" fill-opacity="0.5" stroke="#8c564b" stroke-opacity="0.5" stroke-width="1.39"/>
<polygon points="691.62,151.93 699.72,147.88 699.72,155.98" fill="#8c564b" fill-opacity="0.5" stroke="#8c564b" stroke-opacity="0.5" stroke-width="1.39"/>
<polygon points="705.31,142.54 713.41,138.49 713.41,146.59" fill="#8c564b" fill-opacity="0.5" stroke="#8c564b" stroke-opacity="0.5" stroke-width="1.39"/>
<polygon points="706.41,142.90 714.51,138.85 714.51,146.95" fill="#8c564b" fill-opacity="0.5" stroke="#8c564b" stroke-opacity="0.5" stroke-width="1.39"/>
<polygon points="706.62,137.51 714.72,133.46 714.72,141.56" fill="#8c564b" fill-opacity="0.5" stroke="#8c564b" stroke-opacity="0.5" stroke-width="1.39"/>
<polygon points="731.64,115.82 739.74,111.77 739.74,119.87" fill="#8c564b" fill-opacity="0.5" stroke="#8c564b" stroke-opacity="0.5" stroke-width="1.39"/>
<polygon points="703.04,140.00 711.14,135.95 711.14,144.05" fill="#8c564b" fill-opacity="0.5" stroke="#8c564b" stroke-opacity="0.5" stroke-width="1.39"/>
<polygon points="711.37,134.39 719.47,130.34 719.47,138.44" fill="#8c564b" fill-opacity="0.5" stroke="#8c564b" stroke-opacity="0.5" stroke-width="1.39"/>
<polygon points="708.36,133.83 716.46,129.78 716.46,137.88" fill="#8c564b" fill-opacity="0.5" stroke="#8c564b" stroke-opacity="0.5" stroke-width="1.39"/>
<polygon points="700.34,149.21 708.44,145.16 708.44,153.26" fill="#8c564b" fill-opacity="0.5" stroke="#8c564b" stroke-opacity="0.5" stroke-width="1.39"/>
<polygon points="704.22,143.63 712.32,139.58 712.32,147.68" fill="#8c564b" fill-opacity="0.5" stroke="#8c564b" stroke-opacity="0.5" stroke-width="1.39"/>
<polygon points="705.09,137.53 713.19,133.48 713.19,141.58" fill="#8c564b" fill-opacity="0.5" stroke="#8c564b" stroke-opacity="0.5" stroke-width="1.39"/>
<polygon points="702.55,143.57 710.65,139.52 710.65,147.62" fill="#8c564b" fill-opacity="0.5" stroke="#8c564b" stroke-opacity="0.5" stroke-width="1.39"/>
<polygon points="708.04,136.26 716.14,132.21 716.14,140.31" fill="#8c564b" fill-opacity="0.5" stroke="#8c564b" stroke-opacity="0.5" stroke-width="1.39"/>
<polygon points="710.62,129.84 718.72,125.79 718.72,133.89" fill="#8c564b" fill-opacity="0.5" stroke="#8c564b" stroke-opacity="0.5" stroke-width="1.39"/>
<polygon points="707.77,144.03 715.87,139.98 715.87,148.08" fill="#8c564b" fill-opacity="0.5" stroke="#8c564b" stroke-opacity="0.5" stroke-width="1.39"/>
<polygon points="711.37,142.18 719.47,138.13 719.47,146.23" fill="#8c564b" fill-opacity="0.5" stroke="#8c564b" stroke-opacity="0.5" stroke-width="1.39"/>
<polygon points="714.45,131.54 722.55,127.49 722.55,135.59" fill="#8c564b" fill-opacity="0.5" stroke="#8c564b" stroke-opacity="0.5" stroke-width="1.39"/>
<polygon points="710.06,132.57 718.16,128.52 718.16,136.62" fill="#8c564b" fill-opacity="0.5" stroke="#8c564b" stroke-opacity="0.5" stroke-width="1.39"/>
<polygon points="705.53,141.11 713.63,137.06 713.63,145.16" fill="#8c564b" fill-opacity="0.5" stroke="#8c564b" stroke-opacity="0.5" stroke-width="1.39"/>
<polygon points="701.60,146.62 709.70,142.57 709.70,150.67" fill="#8c564b" fill-opacity="0.5" stroke="#8c564b" stroke-opacity="0.5" stroke-width="1.39"/>
<polygon points="717.22,130.26 725.32,126.21 725.32,134.31" fill="#8c564b" fill-opacity="0.5" stroke="#8c564b" stroke-opacity="0.5" stroke-width="1.39"/>
<polygon points="805.25,48.30 797.15,44.25 797.15,52.35" fill="#e377c2" fill-opacity="0.5" stroke="#e377c2" stroke-opacity="0.5" stroke-width="1.39"/>
<polygon points="783.45,67.30 775.35,63.25 775.35,71.35" fill="#e377c2" fill-opacity="0.5" stroke="#e377c2" stroke-opacity="0.5" stroke-width="1.39"/>
<polygon points="736.85,122.50 728.75,118.45 728.75,126.55" fill="#e377c2" fill-opacity="0.5" stroke="#e377c2" stroke-opacity="0.5" stroke-width="1.39"/>
<polygon points="673.75,175.00 665.65,170.95 665.65,179.05" fill="#e377c2" fill-opacity="0.5" stroke="#e377c2" stroke-opacity="0.5" stroke-width="1.39"/>
<polygon points="695.45,168.10 687.35,164.05 687.35,172.15" fill="#e377c2" fill-opacity="0.5" stroke="#e377c2" stroke-opacity="0.5" stroke-width="1.39"/>
<polygon points="712.79,143.41 704.69,139.36 704.69,147.46" fill="#e377c2" fill-opacity="0.5" stroke="#e377c2" stroke-opacity="0.5" stroke-width="1.39"/>
<polygon points="718.20,140.90 710.10,136.85 710.10,144.95" fill="#e377c2" fill-opacity="0.5" stroke="#e377c2" stroke-opacity="0.5" stroke-width="1.39"/>
<polygon points="710.13,145.83 702.03,141.78 702.03,149.88" fill="#e377c2" fill-opacity="0.5" stroke="#e377c2" stroke-opacity="0.5" stroke-width="1.39"/>
<polygon points="715.78,134.45 707.68,130.40 707.68,138.50" fill="#e377c2" fill-opacity="0.5" stroke="#e377c2" stroke-opacity="0.5" stroke-width="1.39"/>
<polygon points="717.88,138.89 709.78,134.84 709.78,142.94" fill="#e377c2" fill-opacity="0.5" stroke="#e377c2" stroke-opacity="0.5" stroke-width="1.39"/>
<polygon points="714.93,142.91 706.83,138.86 706.83,146.96" fill="#e377c2" fill-opacity="0.5" stroke="#e377c2" stroke-opacity="0.5" stroke-width="1.39"/>
<polygon points="715.34,139.15 707.24,135.10 707.24,143.20" fill="#e377c2" fill-opacity="0.5" stroke="#e377c2" stroke-opacity="0.5" stroke-width="1.39"/>
<polygon points="717.64,142.21 709.54,138.16 709.54,146.26" fill="#e377c2" fill-opacity="0.5" stroke="#e377c2" stroke-opacity="0.5" stroke-width="1.39"/>
<polygon points="713.13,143.16 705.03,139.11 705.03,147.21" fill="#e377c2" fill-opacity="0.5" stroke="#e377c2" stroke-opacity="0.5" stroke-width="1.39"/>
<polygon points="715.75,134.23 707.65,130.18 707.65,138.28" fill="#e377c2" fill-opacity="0.5" stroke="#e377c2" stroke-opacity="0.5" stroke-width="1.39"/>
<polygon points="710.54,147.76 702.44,143.71 702.44,151.81" fill="#e377c2" fill-opacity="0.5" stroke="#e377c2" stroke-opacity="0.5" stroke-width="1.39"/>
<polygon points="715.99,137.83 707.89,133.78 707.89,141.88" fill="#e377c2" fill-opacity="0.5" stroke="#e377c2" stroke-opacity="0.5" stroke-width="1.39"/>
<polygon points="720.06,135.49 711.96,131.44 711.96,139.54" fill="#e377c2" fill-opacity="0.5" stroke="#e377c2" stroke-opacity="0.5" stroke-width="1.39"/>
<polygon points="716.83,138.48 708.73,134.43 708.73,142.53" fill="#e377c2" fill-opacity="0.5" stroke="#e377c2" stroke-opacity="0.5" stroke-width="1.39"/>
<polygon points="715.80,138.36 707.70,134.31 707.70,142.41" fill="#e377c2" fill-opacity="0.5" stroke="#e377c2" stroke-opacity="0.5" stroke-width="1.39"/>
<polygon points="715.11,137.88 707.01,133.83 707.01,141.93" fill="#e377c2" fill-opacity="0.5" stroke="#e377c2" stroke-opacity="0.5" stroke-width="1.39"/>
<polygon points="721.05,128.45 712.95,124.40 712.95,132.50" fill="#e377c2" fill-opacity="0.5" stroke="#e377c2" stroke-opacity="0.5" stroke-width="1.39"/>
<polygon points="716.50,138.53 708.40,134.48 708.40,142.58" fill="#e377c2" fill-opacity="0.5" stroke="#e377c2" stroke-opacity="0.5" stroke-width="1.39"/>
<polygon points="719.56,135.97 711.46,131.92 711.46,140.02" fill="#e377c2" fill-opacity="0.5" stroke="#e377c2" stroke-opacity="0.5" stroke-width="1.39"/>
<polygon points="716.84,131.49 708.74,127.44 708.74,135.54" fill="#e377c2" fill-opacity="0.5" stroke="#e377c2" stroke-opacity="0.5" stroke-width="1.39"/>
<polygon points="712.70,140.80 704.60,136.75 704.60,144.85" fill="#e377c2" fill-opacity="0.5" stroke="#e377c2" stroke-opacity="0.5" stroke-width="1.39"/>
<polygon points="695.25,159.14 687.15,155.09 687.15,163.19" fill="#e377c2" fill-opacity="0.5" stroke="#e377c2" stroke-opacity="0.5" stroke-width="1.39"/>
<polygon points="716.69,142.91 708.59,138.86 708.59,146.96" fill="#e377c2" fill-opacity="0.5" stroke="#e377c2" stroke-opacity="0.5" stroke-width="1.39"/>
<polygon points="718.78,129.81 710.68,125.76 710.68,133.86" fill="#e377c2" fill-opacity="0.5" stroke="#e377c2" stroke-opacity="0.5" stroke-width="1.39"/>
<polygon points="711.14,147.37 703.04,143.32 703.04,151.42" fill="#e377c2" fill-opacity="0.5" stroke="#e377c2" stroke-opacity="0.5" stroke-width="1.39"/>
<polygon points="716.45,136.61 708.35,132.56 708.35,140.66" fill="#e377c2" fill-opacity="0.5" stroke="#e377c2" stroke-opacity="0.5" stroke-width="1.39"/>
<polygon points="713.12,135.40 705.02,131.35 705.02,139.45" fill="#e377c2" fill-opacity="0.5" stroke="#e377c2" stroke-opacity="0.5" stroke-width="1.39"/>
<polygon points="719.35,139.18 711.25,135.13 711.25,143.23" fill="#e377c2" fill-opacity="0.5" stroke="#e377c2" stroke-opacity="0.5" stroke-width="1.39"/>
<polygon points="715.77,141.69 707.67,137.64 707.67,145.74" fill="#e377c2" fill-opacity="0.5" stroke="#e377c2" stroke-opacity="0.5" stroke-width="1.39"/>
<polygon points="712.76,140.52 704.66,136.47 704.66,144.57" fill="#e377c2" fill-opacity="0.5" stroke="#e377c2" stroke-opacity="0.5" stroke-width="1.39"/>
<polygon points="742.60,113.92 734.50,109.87 734.50,117.97" fill="#e377c2" fill-opacity="0.5" stroke="#e377c2" stroke-opacity="0.5" stroke-width="1.39"/>
<polygon points="719.16,135.44 711.06,131.39 711.06,139.49" fill="#e377c2" fill-opacity="0.5" stroke="#e377c2" stroke-opacity="0.5" stroke-width="1.39"/>
<polygon points="711.76,147.07 703.66,143.02 703.66,151.12" fill="#e377c2" fill-opacity="0.5" stroke="#e377c2" stroke-opacity="0.5" stroke-width="1.39"/>
<polygon points="721.14,135.15 713.04,131.10 713.04,139.20" fill="#e377c2" fill-opacity="0.5" stroke="#e377c2" stroke-opacity="0.5" stroke-width="1.39"/>
<polygon points="710.24,139.75 702.14,135.70 702.14,143.80" fill="#e377c2" fill-opacity="0.5" stroke="#e377c2" stroke-opacity="0.5" stroke-width="1.39"/>
<polygon points="713.16,137.65 705.06,133.60 705.06,141.70" fill="#e377c2" fill-opacity="0.5" stroke="#e377c2" stroke-opacity="0.5" stroke-width="1.39"/>
<polygon points="696.44,155.69 688.34,151.64 688.34,159.74" fill="#e377c2" fill-opacity="0.5" stroke="#e377c2" stroke-opacity="0.5" stroke-width="1.39"/>
<polygon points="716.61,138.84 708.51,134.79 708.51,142.89" fill="#e377c2" fill-opacity="0.5" stroke="#e377c2" stroke-opacity="0.5" stroke-width="1.39"/>
<polygon points="717.39,130.93 709.29,126.88 709.29,134.98" fill="#e377c2" fill-opacity="0.5" stroke="#e377c2" stroke-opacity="0.5" stroke-width="1.39"/>
<polygon points="711.88,143.69 703.78,139.64 703.78,147.74" fill="#e377c2" fill-opacity="0.5" stroke="#e377c2" stroke-opacity="0.5" stroke-width="1.39"/>
<polygon points="722.24,133.22 714.14,129.17 714.14,137.27" fill="#e377c2" fill-opacity="0.5" stroke="#e377c2" stroke-opacity="0.5" stroke-width="1.39"/>
<polygon points="693.24,164.48 685.14,160.43 685.14,168.53" fill="#e377c2" fill-opacity="0.5" stroke="#e377c2" stroke-opacity="0.5" stroke-width="1.39"/>
<polygon points="716.30,139.48 708.20,135.43 708.20,143.53" fill="#e377c2" fill-opacity="0.5" stroke="#e377c2" stroke-opacity="0.5" stroke-width="1.39"/>
<polygon points="704.10,149.96 696.00,145.91 696.00,154.01" fill="#e377c2" fill-opacity="0.5" stroke="#e377c2" stroke-opacity="0.5" stroke-width="1.39"/>
<polygon points="714.96,142.28 706.86,138.23 706.86,146.33" fill="#e377c2" fill-opacity="0.5" stroke="#e377c2" stroke-opacity="0.5" stroke-width="1.39"/>
<polygon points="716.64,138.20 708.54,134.15 708.54,142.25" fill="#e377c2" fill-opacity="0.5" stroke="#e377c2" stroke-opacity="0.5" stroke-width="1.39"/>
<polygon points="716.04,134.74 707.94,130.69 707.94,138.79" fill="#e377c2" fill-opacity="0.5" stroke="#e377c2" stroke-opacity="0.5" stroke-width="1.39"/>
<polygon points="712.33,144.30 704.23,140.25 704.23,148.35" fill="#e377c2" fill-opacity="0.5" stroke="#e377c2" stroke-opacity="0.5" stroke-width="1.39"/>
<polygon points="720.44,133.14 712.34,129.09 712.34,137.19" fill="#e377c2" fill-opacity="0.5" stroke="#e377c2" stroke-opacity="0.5" stroke-width="1.39"/>
<polygon points="717.69,140.50 709.59,136.45 709.59,144.55" fill="#e377c2" fill-opacity="0.5" stroke="#e377c2" stroke-opacity="0.5" stroke-width="1.39"/>
<polygon points="716.03,135.98 707.93,131.93 707.93,140.03" fill="#e377c2" fill-opacity="0.5" stroke="#e377c2" stroke-opacity="0.5" stroke-width="1.39"/>
<polygon points="714.11,141.30 706.01,137.25 706.01,145.35" fill="#e377c2" fill-opacity="0.5" stroke="#e377c2" stroke-opacity="0.5" stroke-width="1.39"/>
<polygon points="714.74,139.97 706.64,135.92 706.64,144.02" fill="#e377c2" fill-opacity="0.5" stroke="#e377c2" stroke-opacity="0.5" stroke-width="1.39"/>
<polygon points="710.18,146.76 702.08,142.71 702.08,150.81" fill="#e377c2" fill-opacity="0.5" stroke="#e377c2" stroke-opacity="0.5" stroke-width="1.39"/>
<polygon points="682.52,172.04 674.42,167.99 674.42,176.09" fill="#e377c2" fill-opacity="0.5" stroke="#e377c2" stroke-opacity="0.5" stroke-width="1.39"/>
<polygon points="715.99,139.25 707.89,135.20 707.89,143.30" fill="#e377c2" fill-opacity="0.5" stroke="#e377c2" stroke-opacity="0.5" stroke-width="1.39"/>
<polygon points="713.29,140.35 705.19,136.30 705.19,144.40" fill="#e377c2" fill-opacity="0.5" stroke="#e377c2" stroke-opacity="0.5" stroke-width="1.39"/>
<polygon points="715.26,139.53 707.16,135.48 707.16,143.58" fill="#e377c2" fill-opacity="0.5" stroke="#e377c2" stroke-opacity="0.5" stroke-width="1.39"/>
<polygon points="710.13,143.80 702.03,139.75 702.03,147.85" fill="#e377c2" fill-opacity="0.5" stroke="#e377c2" stroke-opacity="0.5" stroke-width="1.39"/>
<polygon points="714.86,138.38 706.76,134.33 706.76,142.43" fill="#e377c2" fill-opacity="0.5" stroke="#e377c2" stroke-opacity="0.5" stroke-width="1.39"/>
<polygon points="711.54,143.37 703.44,139.32 703.44,147.42" fill="#e377c2" fill-opacity="0.5" stroke="#e377c2" stroke-opacity="0.5" stroke-width="1.39"/>
<polygon points="733.48,122.00 725.38,117.95 725.38,126.05" fill="#e377c2" fill-opacity="0.5" stroke="#e377c2" stroke-opacity="0.5" stroke-width="1.39"/>
<polygon points="720.17,136.19 712.07,132.14 712.07,140.24" fill="#e377c2" fill-opacity="0.5" stroke="#e377c2" stroke-opacity="0.5" stroke-width="1.39"/>
<polygon points="709.51,151.48 701.41,147.43 701.41,155.53" fill="#e377c2" fill-opacity="0.5" stroke="#e377c2" stroke-opacity="0.5" stroke-width="1.39"/>
<polygon points="716.75,137.86 708.65,133.81 708.65,141.91" fill="#e377c2" fill-opacity="0.5" stroke="#e377c2" stroke-opacity="0.5" stroke-width="1.39"/>
<polygon points="719.08,138.92 710.98,134.87 710.98,142.97" fill="#e377c2" fill-opacity="0.5" stroke="#e377c2" stroke-opacity="0.5" stroke-width="1.39"/>
<polygon points="720.37,136.59 712.27,132.54 712.27,140.64" fill="#e377c2" fill-opacity="0.5" stroke="#e377c2" stroke-opacity="0.5" stroke-width="1.39"/>
<polygon points="716.98,138.04 708.88,133.99 708.88,142.09" fill="#e377c2" fill-opacity="0.5" stroke="#e377c2" stroke-opacity="0.5" stroke-width="1.39"/>
<polygon points="716.83,134.46 708.73,130.41 708.73,138.51" fill="#e377c2" fill-opacity="0.5" stroke="#e377c2" stroke-opacity="0.5" stroke-width="1.39"/>
<polygon points="712.12,146.55 704.02,142.50 704.02,150.60" fill="#e377c2" fill-opacity="0.5" stroke="#e377c2" stroke-opacity="0.5" stroke-width="1.39"/>
<polygon points="767.80,81.85 763.95,84.65 765.42,89.18 770.18,89.18 771.65,84.65" fill="#7f7f7f" fill-opacity="0.5" stroke="#7f7f7f" stroke-opacity="0.5" stroke-width="1.39"/>
<polygon points="751.70,100.15 747.85,102.95 749.32,107.48 754.08,107.48 755.55,102.95" fill="#7f7f7f" fill-opacity="0.5" stroke="#7f7f7f" stroke-opacity="0.5" stroke-width="1.39"/>
<polygon points="621.10,224.95 617.25,227.75 618.72,232.28 623.48,232.28 624.95,227.75" fill="#7f7f7f" fill-opacity="0.5" stroke="#7f7f7f" stroke-opacity="0.5" stroke-width="1.39"/>
<polygon points="632.10,211.55 628.25,214.35 629.72,218.88 634.48,218.88 635.95,214.35" fill="#7f7f7f" fill-opacity="0.5" stroke="#7f7f7f" stroke-opacity="0.5" stroke-width="1.39"/>
<polygon points="635.10,210.05 631.25,212.85 632.72,217.38 637.48,217.38 638.95,212.85" fill="#7f7f7f" fill-opacity="0.5" stroke="#7f7f7f" stroke-opacity="0.5" stroke-width="1.39"/>
<polygon points="642.50,207.05 638.65,209.85 640.12,214.38 644.88,214.38 646.35,209.85" fill="#7f7f7f" fill-opacity="0.5" stroke="#7f7f7f" stroke-opacity="0.5" stroke-width="1.39"/>
<polygon points="665.60,184.85 661.75,187.65 663.22,192.18 667.98,192.18 669.45,187.65" fill="#7f7f7f" fill-opacity="0.5" stroke="#7f7f7f" stroke-opacity="0.5" stroke-width="1.39"/>
<polygon points="684.00,165.55 680.15,168.35 681.62,172.88 686.38,172.88 687.85,168.35" fill="#7f7f7f" fill-opacity="0.5" stroke="#7f7f7f" stroke-opacity="0.5" stroke-width="1.39"/>
<polygon points="689.90,155.25 686.05,158.05 687.52,162.58 692.28,162.58 693.75,158.05" fill="#7f7f7f" fill-opacity="0.5" stroke="#7f7f7f" stroke-opacity="0.5" stroke-width="1.39"/>
<polygon points="715.73,131.89 711.88,134.69 713.35,139.22 718.11,139.22 719.58,134.69" fill="#7f7f7f" fill-opacity="0.5" stroke="#7f7f7f" stroke-opacity="0.5" stroke-width="1.39"/>
<polygon points="713.42,128.95 709.57,131.75 711.04,136.28 715.80,136.28 717.27,131.75" fill="#7f7f7f" fill-opacity="0.5" stroke="#7f7f7f" stroke-opacity="0.5" stroke-width="1.39"/>
<polygon points="720.51,126.44 716.66,129.24 718.13,133.76 722.89,133.76 724.36,129.24" fill="#7f7f7f" fill-opacity="0.5" stroke="#7f7f7f" stroke-opacity="0.5" stroke-width="1.39"/>
<polygon points="710.28,132.02 706.43,134.82 707.90,139.35 712.66,139.35 714.13,134.82" fill="#7f7f7f" fill-opacity="0.5" stroke="#7f7f7f" stroke-opacity="0.5" stroke-width="1.39"/>
<polygon points="705.51,140.38 701.66,143.18 703.13,147.70 707.89,147.70 709.36,143.18" fill="#7f7f7f" fill-opacity="0.5" stroke="#7f7f7f" stroke-opacity="0.5" stroke-width="1.39"/>
<polygon points="721.05,127.01 717.20,129.81 718.67,134.34 723.43,134.34 724.90,129.81" fill="#7f7f7f" fill-opacity="0.5" stroke="#7f7f7f" stroke-opacity="0.5" stroke-width="1.39"/>
<polygon points="710.64,133.57 706.79,136.36 708.26,140.89 713.02,140.89 714.49,136.36" fill="#7f7f7f" fill-opacity="0.5" stroke="#7f7f7f" stroke-opacity="0.5" stroke-width="1.39"/>
<polygon points="713.76,133.08 709.91,135.88 711.38,140.40 716.14,140.40 717.61,135.88" fill="#7f7f7f" fill-opacity="0.5" stroke="#7f7f7f" stroke-opacity="0.5" stroke-width="1.39"/>
<polygon points="726.75,119.59 722.90,122.39 724.37,126.92 729.13,126.92 730.61,122.39" fill="#7f7f7f" fill-opacity="0.5" stroke="#7f7f7f" stroke-opacity="0.5" stroke-width="1.39"/>
<polygon points="716.18,128.09 712.33,130.89 713.80,135.42 718.56,135.42 720.04,130.89" fill="#7f7f7f" fill-opacity="0.5" stroke="#7f7f7f" stroke-opacity="0.5" stroke-width="1.39"/>
<polygon points="712.39,135.58 708.54,138.38 710.01,142.91 714.77,142.91 716.24,138.38" fill="#7f7f7f" fill-opacity="0.5" stroke="#7f7f7f" stroke-opacity="0.5" stroke-width="1.39"/>
<polygon points="717.07,131.34 713.22,134.14 714.69,138.67 719.45,138.67 720.93,134.14" fill="#7f7f7f" fill-opacity="0.5" stroke="#7f7f7f" stroke-opacity="0.5" stroke-width="1.39"/>
<polygon points="710.36,131.41 706.51,134.21 707.98,138.73 712.74,138.73 714.21,134.21" fill="#7f7f7f" fill-opacity="0.5" stroke="#7f7f7f" stroke-opacity="0.5" stroke-width="1.39"/>
<polygon points="710.44,136.56 706.59,139.35 708.06,143.88 712.82,143.88 714.29,139.35" fill="#7f7f7f" fill-opacity="0.5" stroke="#7f7f7f" stroke-opacity="0.5" stroke-width="1.39"/>
<polygon points="708.86,137.58 705.01,140.38 706.48,144.91 711.24,144.91 712.71,140.38" fill="#7f7f7f" fill-opacity="0.5" stroke="#7f7f7f" stroke-opacity="0.5" stroke-width="1.39"/>
<polygon points="711.43,132.41 707.57,135.21 709.04,139.74 713.81,139.74 715.28,135.21" fill="#7f7f7f" fill-opacity="0.5" stroke="#7f7f7f" stroke-opacity="0.5" stroke-width="1.39"/>
<polygon points="708.36,146.33 704.51,149.13 705.98,153.66 710.74,153.66 712.21,149.13" fill="#7f7f7f" fill-opacity="0.5" stroke="#7f7f7f" stroke-opacity="0.5" stroke-width="1.39"/>
<polygon points="712.97,127.36 709.12,130.16 710.59,134.69 715.35,134.69 716.82,130.16" fill="#7f7f7f" fill-opacity="0.5" stroke="#7f7f7f" stroke-opacity="0.5" stroke-width="1.39"/>
<polygon points="712.92,135.68 709.07,138.48 710.54,143.01 715.30,143.01 716.77,138.48" fill="#7f7f7f" fill-opacity="0.5" stroke="#7f7f7f" stroke-opacity="0.5" stroke-width="1.39"/>
<polygon points="713.67,136.17 709.82,138.97 711.29,143.50 716.05,143.50 717.52,138.97" fill="#7f7f7f" fill-opacity="0.5" stroke="#7f7f7f" stroke-opacity="0.5" stroke-width="1.39"/>
<polygon points="704.65,140.75 700.80,143.55 702.27,148.08 707.03,148.08 708.51,143.55" fill="#7f7f7f" fill-opacity="0.5" stroke="#7f7f7f" stroke-opacity="0.5" stroke-width="1.39"/>
<polygon points="710.30,138.54 706.45,141.34 707.92,145.86 712.68,145.86 714.15,141.34" fill="#7f7f7f" fill-opacity="0.5" stroke="#7f7f7f" stroke-opacity="0.5" stroke-width="1.39"/>
<polygon points="715.23,128.95 711.38,131.74 712.85,136.27 717.61,136.27 719.08,131.74" fill="#7f7f7f" fill-opacity="0.5" stroke="#7f7f7f" stroke-opacity="0.5" stroke-width="1.39"/>
<polygon points="732.32,117.83 728.47,120.63 729.94,125.16 734.71,125.16 736.18,120.63" fill="#7f7f7f" fill-opacity="0.5" stroke="#7f7f7f" stroke-opacity="0.5" stroke-width="1.39"/>
<polygon points="704.51,140.81 700.65,143.61 702.13,148.14 706.89,148.14 708.36,143.61" fill="#7f7f7f" fill-opacity="0.5" stroke="#7f7f7f" stroke-opacity="0.5" stroke-width="1.39"/>
<polygon points="721.71,128.29 717.86,131.09 719.33,135.62 724.09,135.62 725.56,131.09" fill="#7f7f7f" fill-opacity="0.5" stroke="#7f7f7f" stroke-opacity="0.5" stroke-width="1.39"/>
<polygon points="716.34,129.67 712.49,132.47 713.96,137.00 718.72,137.00 720.19,132.47" fill="#7f7f7f" fill-opacity="0.5" stroke="#7f7f7f" stroke-opacity="0.5" stroke-width="1.39"/>
<polygon points="711.53,138.53 707.68,141.33 709.15,145.86 713.91,145.86 715.38,141.33" fill="#7f7f7f" fill-opacity="0.5" stroke="#7f7f7f" stroke-opacity="0.5" stroke-width="1.39"/>
<polygon points="711.19,132.45 707.34,135.25 708.81,139.78 713.57,139.78 715.05,135.25" fill="#7f7f7f" fill-opacity="0.5" stroke="#7f7f7f" stroke-opacity="0.5" stroke-width="1.39"/>
<polygon points="708.83,146.42 704.98,149.22 706.45,153.75 711.21,153.75 712.68,149.22" fill="#7f7f7f" fill-opacity="0.5" stroke="#7f7f7f" stroke-opacity="0.5" stroke-width="1.39"/>
<polygon points="691.86,157.82 688.01,160.62 689.48,165.15 694.24,165.15 695.71,160.62" fill="#7f7f7f" fill-opacity="0.5" stroke="#7f7f7f" stroke-opacity="0.5" stroke-width="1.39"/>
<polygon points="714.63,129.15 710.78,131.95 712.25,136.48 717.01,136.48 718.48,131.95" fill="#7f7f7f" fill-opacity="0.5" stroke="#7f7f7f" stroke-opacity="0.5" stroke-width="1.39"/>
<polygon points="711.33,136.66 707.48,139.46 708.95,143.98 713.71,143.98 715.19,139.46" fill="#7f7f7f" fill-opacity="0.5" stroke="#7f7f7f" stroke-opacity="0.5" stroke-width="1.39"/>
<polygon points="710.98,142.91 707.12,145.71 708.60,150.24 713.36,150.24 714.83,145.71" fill="#7f7f7f" fill-opacity="0.5" stroke="#7f7f7f" stroke-opacity="0.5" stroke-width="1.39"/>
<polygon points="716.66,129.36 712.81,132.16 714.28,136.69 719.04,136.69 720.51,132.16" fill="#7f7f7f" fill-opacity="0.5" stroke="#7f7f7f" stroke-opacity="0.5" stroke-width="1.39"/>
<polygon points="706.57,144.46 702.72,147.26 704.19,151.78 708.95,151.78 710.42,147.26" fill="#7f7f7f" fill-opacity="0.5" stroke="#7f7f7f" stroke-opacity="0.5" stroke-width="1.39"/>
<polygon points="711.83,135.40 707.97,138.20 709.44,142.72 714.21,142.72 715.68,138.20" fill="#7f7f7f" fill-opacity="0.5" stroke="#7f7f7f" stroke-opacity="0.5" stroke-width="1.39"/>
<polygon points="707.33,135.45 703.48,138.25 704.95,142.78 709.71,142.78 711.18,138.25" fill="#7f7f7f" fill-opacity="0.5" stroke="#7f7f7f" stroke-opacity="0.5" stroke-width="1.39"/>
<polygon points="713.16,127.99 709.31,130.78 710.78,135.31 715.54,135.31 717.01,130.78" fill="#7f7f7f" fill-opacity="0.5" stroke="#7f7f7f" stroke-opacity="0.5" stroke-width="1.39"/>
<polygon points="712.34,138.76 708.49,141.56 709.96,146.08 714.72,146.08 716.19,141.56" fill="#7f7f7f" fill-opacity="0.5" stroke="#7f7f7f" stroke-opacity="0.5" stroke-width="1.39"/>
<polygon points="706.93,136.26 703.07,139.06 704.55,143.59 709.31,143.59 710.78,139.06" fill="#7f7f7f" fill-opacity="0.5" stroke="#7f7f7f" stroke-opacity="0.5" stroke-width="1.39"/>
<polygon points="711.17,137.63 707.32,140.43 708.79,144.96 713.55,144.96 715.02,140.43" fill="#7f7f7f" fill-opacity="0.5" stroke="#7f7f7f" stroke-opacity="0.5" stroke-width="1.39"/>
<polygon points="713.59,131.06 709.74,133.86 711.21,138.39 715.97,138.39 717.44,133.86" fill="#7f7f7f" fill-opacity="0.5" stroke="#7f7f7f" stroke-opacity="0.5" stroke-width="1.39"/>
<polygon points="738.68,107.93 734.83,110.73 736.30,115.26 741.06,115.26 742.53,110.73" fill="#7f7f7f" fill-opacity="0.5" stroke="#7f7f7f" stroke-opacity="0.5" stroke-width="1.39"/>
<polygon points="718.26,125.67 714.41,128.47 715.88,133.00 720.64,133.00 722.11,128.47" fill="#7f7f7f" fill-opacity="0.5" stroke="#7f7f7f" stroke-opacity="0.5" stroke-width="1.39"/>
<polygon points="715.46,134.11 711.60,136.91 713.08,141.43 717.84,141.43 719.31,136.91" fill="#7f7f7f" fill-opacity="0.5" stroke="#7f7f7f" stroke-opacity="0.5" stroke-width="1.39"/>
<polygon points="704.82,143.58 700.97,146.38 702.44,150.91 707.21,150.91 708.68,146.38" fill="#7f7f7f" fill-opacity="0.5" stroke="#7f7f7f" stroke-opacity="0.5" stroke-width="1.39"/>
<polygon points="707.34,144.69 703.49,147.48 704.96,152.01 709.72,152.01 711.19,147.48" fill="#7f7f7f" fill-opacity="0.5" stroke="#7f7f7f" stroke-opacity="0.5" stroke-width="1.39"/>
<polygon points="712.50,138.11 708.65,140.91 710.12,145.44 714.89,145.44 716.36,140.91" fill="#7f7f7f" fill-opacity="0.5" stroke="#7f7f7f" stroke-opacity="0.5" stroke-width="1.39"/>
<polygon points="717.22,127.91 713.37,130.71 714.84,135.23 719.60,135.23 721.07,130.71" fill="#7f7f7f" fill-opacity="0.5" stroke="#7f7f7f" stroke-opacity="0.5" stroke-width="1.39"/>
<polygon points="714.23,138.12 710.38,140.91 711.85,145.44 716.61,145.44 718.08,140.91" fill="#7f7f7f" fill-opacity="0.5" stroke="#7f7f7f" stroke-opacity="0.5" stroke-width="1.39"/>
<polygon points="705.91,145.50 702.06,148.30 703.53,152.83 708.29,152.83 709.76,148.30" fill="#7f7f7f" fill-opacity="0.5" stroke="#7f7f7f" stroke-opacity="0.5" stroke-width="1.39"/>
<polygon points="713.30,133.56 709.45,136.36 710.92,140.89 715.68,140.89 717.15,136.36" fill="#7f7f7f" fill-opacity="0.5" stroke="#7f7f7f" stroke-opacity="0.5" stroke-width="1.39"/>
<polygon points="713.82,129.87 709.96,132.66 711.44,137.19 716.20,137.19 717.67,132.66" fill="#7f7f7f" fill-opacity="0.5" stroke="#7f7f7f" stroke-opacity="0.5" stroke-width="1.39"/>
<polygon points="715.35,134.76 711.49,137.56 712.97,142.09 717.73,142.09 719.20,137.56" fill="#7f7f7f" fill-opacity="0.5" stroke="#7f7f7f" stroke-opacity="0.5" stroke-width="1.39"/>
<polygon points="717.93,129.67 714.08,132.47 715.55,136.99 720.31,136.99 721.78,132.47" fill="#7f7f7f" fill-opacity="0.5" stroke="#7f7f7f" stroke-opacity="0.5" stroke-width="1.39"/>
<polygon points="692.83,151.64 688.98,154.44 690.45,158.97 695.21,158.97 696.68,154.44" fill="#7f7f7f" fill-opacity="0.5" stroke="#7f7f7f" stroke-opacity="0.5" stroke-width="1.39"/>
<polygon points="707.56,135.41 703.71,138.20 705.18,142.73 709.94,142.73 711.41,138.20" fill="#7f7f7f" fill-opacity="0.5" stroke="#7f7f7f" stroke-opacity="0.5" stroke-width="1.39"/>
<polygon points="714.37,130.78 710.52,133.58 711.99,138.11 716.76,138.11 718.23,133.58" fill="#7f7f7f" fill-opacity="0.5" stroke="#7f7f7f" stroke-opacity="0.5" stroke-width="1.39"/>
<polygon points="730.94,118.45 727.09,121.25 728.56,125.78 733.32,125.78 734.79,121.25" fill="#7f7f7f" fill-opacity="0.5" stroke="#7f7f7f" stroke-opacity="0.5" stroke-width="1.39"/>
<polygon points="716.69,131.13 712.83,133.93 714.31,138.45 719.07,138.45 720.54,133.93" fill="#7f7f7f" fill-opacity="0.5" stroke="#7f7f7f" stroke-opacity="0.5" stroke-width="1.39"/>
<polygon points="700.52,146.29 696.67,149.09 698.14,153.62 702.90,153.62 704.38,149.09" fill="#7f7f7f" fill-opacity="0.5" stroke="#7f7f7f" stroke-opacity="0.5" stroke-width="1.39"/>
<polygon points="689.20,159.12 685.35,161.92 686.82,166.45 691.58,166.45 693.05,161.92" fill="#7f7f7f" fill-opacity="0.5" stroke="#7f7f7f" stroke-opacity="0.5" stroke-width="1.39"/>
<polygon points="726.70,117.97 722.85,120.77 724.32,125.30 729.08,125.30 730.55,120.77" fill="#7f7f7f" fill-opacity="0.5" stroke="#7f7f7f" stroke-opacity="0.5" stroke-width="1.39"/>
<polygon points="712.27,137.24 708.42,140.03 709.89,144.56 714.65,144.56 716.13,140.03" fill="#7f7f7f" fill-opacity="0.5" stroke="#7f7f7f" stroke-opacity="0.5" stroke-width="1.39"/>
<polygon points="705.47,142.11 701.62,144.91 703.09,149.44 707.85,149.44 709.32,144.91" fill="#7f7f7f" fill-opacity="0.5" stroke="#7f7f7f" stroke-opacity="0.5" stroke-width="1.39"/>
<polygon points="714.60,134.77 710.75,137.57 712.22,142.10 716.98,142.10 718.45,137.57" fill="#7f7f7f" fill-opacity="0.5" stroke="#7f7f7f" stroke-opacity="0.5" stroke-width="1.39"/>
<polygon points="713.03,131.93 709.18,134.73 710.65,139.26 715.41,139.26 716.88,134.73" fill="#7f7f7f" fill-opacity="0.5" stroke="#7f7f7f" stroke-opacity="0.5" stroke-width="1.39"/>
<polygon points="708.42,138.68 704.57,141.48 706.04,146.01 710.80,146.01 712.27,141.48" fill="#7f7f7f" fill-opacity="0.5" stroke="#7f7f7f" stroke-opacity="0.5" stroke-width="1.39"/>
<polygon points="715.68,136.81 711.83,139.61 713.30,144.13 718.06,144.13 719.53,139.61" fill="#7f7f7f" fill-opacity="0.5" stroke="#7f7f7f" stroke-opacity="0.5" stroke-width="1.39"/>
<polygon points="716.65,122.18 712.80,124.98 714.27,129.51 719.03,129.51 720.50,124.98" fill="#7f7f7f" fill-opacity="0.5" stroke="#7f7f7f" stroke-opacity="0.5" stroke-width="1.39"/>
<polygon points="709.78,134.73 705.93,137.52 707.40,142.05 712.16,142.05 713.63,137.52" fill="#7f7f7f" fill-opacity="0.5" stroke="#7f7f7f" stroke-opacity="0.5" stroke-width="1.39"/>
<polygon points="707.55,139.56 703.70,142.36 705.17,146.89 709.93,146.89 711.41,142.36" fill="#7f7f7f" fill-opacity="0.5" stroke="#7f7f7f" stroke-opacity="0.5" stroke-width="1.39"/>
<polygon points="709.71,137.68 705.86,140.48 707.33,145.00 712.09,145.00 713.56,140.48" fill="#7f7f7f" fill-opacity="0.5" stroke="#7f7f7f" stroke-opacity="0.5" stroke-width="1.39"/>
<polygon points="720.63,126.61 716.78,129.41 718.25,133.94 723.01,133.94 724.48,129.41" fill="#7f7f7f" fill-opacity="0.5" stroke="#7f7f7f" stroke-opacity="0.5" stroke-width="1.39"/>
<polygon points="712.35,132.68 708.50,135.48 709.97,140.01 714.73,140.01 716.21,135.48" fill="#7f7f7f" fill-opacity="0.5" stroke="#7f7f7f" stroke-opacity="0.5" stroke-width="1.39"/>
<polygon points="705.28,140.08 701.43,142.88 702.90,147.41 707.66,147.41 709.14,142.88" fill="#7f7f7f" fill-opacity="0.5" stroke="#7f7f7f" stroke-opacity="0.5" stroke-width="1.39"/>
<polygon points="711.41,128.79 707.56,131.59 709.03,136.12 713.79,136.12 715.26,131.59" fill="#7f7f7f" fill-opacity="0.5" stroke="#7f7f7f" stroke-opacity="0.5" stroke-width="1.39"/>
<polygon points="708.82,141.33 704.97,144.12 706.44,148.65 711.20,148.65 712.67,144.12" fill="#7f7f7f" fill-opacity="0.5" stroke="#7f7f7f" stroke-opacity="0.5" stroke-width="1.39"/>
<polygon points="712.79,134.12 708.94,136.92 710.41,141.45 715.17,141.45 716.64,136.92" fill="#7f7f7f" fill-opacity="0.5" stroke="#7f7f7f" stroke-opacity="0.5" stroke-width="1.39"/>
<polygon points="714.92,138.06 711.07,140.86 712.54,145.39 717.30,145.39 718.77,140.86" fill="#7f7f7f" fill-opacity="0.5" stroke="#7f7f7f" stroke-opacity="0.5" stroke-width="1.39"/>
<polygon points="715.40,133.44 711.55,136.24 713.02,140.77 717.79,140.77 719.26,136.24" fill="#7f7f7f" fill-opacity="0.5" stroke="#7f7f7f" stroke-opacity="0.5" stroke-width="1.39"/>
<polygon points="709.05,136.58 705.20,139.37 706.67,143.90 711.43,143.90 712.90,139.37" fill="#7f7f7f" fill-opacity="0.5" stroke="#7f7f7f" stroke-opacity="0.5" stroke-width="1.39"/>
<polygon points="718.50,134.16 714.65,136.96 716.12,141.49 720.88,141.49 722.36,136.96" fill="#7f7f7f" fill-opacity="0.5" stroke="#7f7f7f" stroke-opacity="0.5" stroke-width="1.39"/>
<polygon points="720.36,126.29 716.51,129.09 717.98,133.61 722.74,133.61 724.21,129.09" fill="#7f7f7f" fill-opacity="0.5" stroke="#7f7f7f" stroke-opacity="0.5" stroke-width="1.39"/>
<polygon points="726.80,122.52 722.94,125.31 724.41,129.84 729.18,129.84 730.65,125.31" fill="#7f7f7f" fill-opacity="0.5" stroke="#7f7f7f" stroke-opacity="0.5" stroke-width="1.39"/>
<polygon points="719.49,129.01 715.64,131.81 717.11,136.33 721.87,136.33 723.34,131.81" fill="#7f7f7f" fill-opacity="0.5" stroke="#7f7f7f" stroke-opacity="0.5" stroke-width="1.39"/>
<polygon points="713.54,133.83 709.69,136.63 711.16,141.15 715.92,141.15 717.39,136.63" fill="#7f7f7f" fill-opacity="0.5" stroke="#7f7f7f" stroke-opacity="0.5" stroke-width="1.39"/>
<line x1="611.04" y1="241.63" x2="810.36" y2="39.97" stroke="#7f7f7f" stroke-opacity="0.5" stroke-width="2.08" stroke-linecap="round"/>
</g>
<rect x="601.1" y="29.9" width="219.10" height="222.05" fill="none" stroke="#000" stroke-width="1.11" stroke-linecap="square"/>
<line x1="620.10" y1="251.95" x2="620.10" y2="256.81" stroke="#000" stroke-width="1.11"/>
<text transform="scale(1.1540,1)" x="523.58 532.41 540.00 543.58" y="271.60" font-size="14.4">−1.0</text>
<line x1="665.40" y1="251.95" x2="665.40" y2="256.81" stroke="#000" stroke-width="1.11"/>
<text transform="scale(1.1644,1)" x="557.85 566.68 574.27 577.85" y="271.60" font-size="14.4">−0.5</text>
<line x1="710.70" y1="251.95" x2="710.70" y2="256.81" stroke="#000" stroke-width="1.11"/>
<text transform="scale(1.0883,1)" x="643.04 651.05 655.05" y="271.60" font-size="14.4">0.0</text>
<line x1="756.00" y1="251.95" x2="756.00" y2="256.81" stroke="#000" stroke-width="1.11"/>
<text transform="scale(1.1034,1)" x="675.27 683.28 687.28" y="271.60" font-size="14.4">0.5</text>
<line x1="801.30" y1="251.95" x2="801.30" y2="256.81" stroke="#000" stroke-width="1.11"/>
<text transform="scale(1.1229,1)" x="703.31 711.32 715.32" y="271.60" font-size="14.4">1.0</text>
<line x1="596.24" y1="49.14" x2="601.1" y2="49.14" stroke="#000" stroke-width="1.11"/>
<text transform="scale(1.1229,1)" x="507.30 515.31 519.31" y="54.29" font-size="14.4">1.0</text>
<line x1="596.24" y1="94.97" x2="601.1" y2="94.97" stroke="#000" stroke-width="1.11"/>
<text transform="scale(1.1034,1)" x="516.85 524.86 528.86" y="100.12" font-size="14.4">0.5</text>
<line x1="596.24" y1="140.80" x2="601.1" y2="140.80" stroke="#000" stroke-width="1.11"/>
<text transform="scale(1.0883,1)" x="524.04 532.05 536.05" y="145.95" font-size="14.4">0.0</text>
<line x1="596.24" y1="186.63" x2="601.1" y2="186.63" stroke="#000" stroke-width="1.11"/>
<text transform="scale(1.1644,1)" x="481.02 489.85 497.44 501.02" y="191.78" font-size="14.4">−0.5</text>
<line x1="596.24" y1="232.46" x2="601.1" y2="232.46" stroke="#000" stroke-width="1.11"/>
<text transform="scale(1.1540,1)" x="485.33 494.16 501.75 505.33" y="237.61" font-size="14.4">−1.0</text>
<text transform="scale(1.0209,1)" x="616.45 625.26 628.66 636.98 645.21 648.75 658.01 666.32 674.63 683.12 686.67 695.12 702.78 706.66 716.10 723.41 727.08 735.40 743.38" y="289.50" font-size="14.4">True Shapley Values</text>
<text x="770.23" y="289.50" font-size="14.4" textLength="19.66" lengthAdjust="spacingAndGlyphs">(<tspan font-style="italic">ϕ</tspan>)</text>
<text transform="scale(1.0003,1)" x="134.87 146.06 155.41 161.97 171.76 181.77 186.11 190.53 201.26 213.31 223.69" y="22.00" font-size="16.8">Kernel SHAP</text>
<text transform="scale(1.0342,1)" x="342.95 355.82 366.12 371.78 376.35 391.18 395.06 403.42 413.11 422.83 427.10 437.88 446.93 453.15 462.56 472.28 476.43 480.54 490.82 502.41 512.38" y="22.00" font-size="16.8">Optimized Kernel SHAP</text>
<text transform="scale(1.0201,1)" x="636.07 645.33 655.05 664.11 674.09 680.30 690.16 700.03 709.74 713.99 724.48 736.28 746.45" y="22.00" font-size="16.8">Leverage SHAP</text>
<text transform="translate(23.40,236.00) rotate(-90) scale(1.0258,1)" x="-2.13 6.91 11.79 19.68 28.06 31.48 39.24 43.83 52.01 60.25 63.69 72.79 80.94 89.11 97.49 100.93 109.23 116.79 120.54 129.83 137.05 140.61 148.78 156.62" y="0" font-size="14.4">Predicted Shapley Values</text>
<text transform="translate(23.40,63.74) rotate(-90)" x="0" y="0" font-size="14.4" textLength="4.10" lengthAdjust="spacingAndGlyphs">(</text>
<text transform="translate(23.40,58.05) rotate(-90)" x="0" y="0" font-size="14.4" textLength="8.28" lengthAdjust="spacingAndGlyphs"><tspan font-style="italic">ϕ</tspan></text>
<text transform="translate(23.40,48.43) rotate(-90)" x="0" y="0" font-size="14.4" textLength="4.35" lengthAdjust="spacingAndGlyphs">)</text>
<path d="M10.1,54.6 Q9.3,53.6 10.5,52.5 Q11.7,51.4 10.9,50.4" fill="none" stroke="#000" stroke-width="0.9"/>
<rect x="72.6" y="325.5" width="740.7" height="42.6" rx="2.8" fill="#fff" stroke="#cccccc" stroke-width="1.11"/>
<circle cx="91.30" cy="337.25" r="4.05" fill="#1f77b4" fill-opacity="0.5" stroke="#1f77b4" stroke-opacity="0.5" stroke-width="1.39"/>
<text transform="scale(1.0524,1)" x="108.68 111.86 121.43 124.62 133.56 137.72 142.71 151.99 161.68 169.90" y="340.80" font-size="14.4">IRIS (n=4)</text>
<rect x="87.25" y="352.45" width="8.10" height="8.10" fill="#ff7f0e" fill-opacity="0.5" stroke="#ff7f0e" stroke-opacity="0.5" stroke-width="1.39"/>
<text transform="scale(1.0833,1)" x="105.17 114.51 122.45 125.90 129.41 133.40 141.36 146.25 154.10 157.22 165.01 169.01 173.77 182.71 192.07 200.06" y="360.50" font-size="14.4">California (n=8)</text>
<polygon points="261.30,331.47 267.03,337.20 261.30,342.93 255.57,337.20" fill="#2ca02c" fill-opacity="0.5" stroke="#2ca02c" stroke-opacity="0.5" stroke-width="1.39"/>
<text transform="scale(1.0824,1)" x="262.88 272.98 276.11 283.86 291.62 299.88 304.13 311.59 318.40 322.40 327.16 336.10 345.45 353.35 361.34" y="340.80" font-size="14.4">Diabetes (n=10)</text>
<polygon points="261.30,352.85 265.35,360.95 257.25,360.95" fill="#d62728" fill-opacity="0.5" stroke="#d62728" stroke-opacity="0.5" stroke-width="1.39"/>
<text transform="scale(1.0898,1)" x="261.63 270.49 278.03 286.01 289.71 294.05 297.98 302.64 311.44 320.65 328.43 336.32" y="360.50" font-size="14.4">Adult (n=12)</text>
<polygon points="436.10,341.15 440.15,333.05 432.05,333.05" fill="#9467bd" fill-opacity="0.5" stroke="#9467bd" stroke-opacity="0.5" stroke-width="1.39"/>
<text transform="scale(1.0762,1)" x="426.19 435.56 443.54 448.67 453.24 460.94 464.09 472.36 476.64 484.43 492.37 496.39 501.17 510.14 519.53 527.47 535.47" y="340.80" font-size="14.4">Correlated (n=60)</text>
<polygon points="432.05,356.80 440.15,352.75 440.15,360.85" fill="#8c564b" fill-opacity="0.5" stroke="#8c564b" stroke-opacity="0.5" stroke-width="1.39"/>
<text transform="scale(1.0917,1)" x="420.24 423.99 431.85 439.59 447.33 455.07 462.81 470.66 478.41 486.14 494.50 498.90 502.88 507.62 516.53 525.86 533.75 541.71" y="360.50" font-size="14.4">Independent (n=60)</text>
<polygon points="639.95,337.20 631.85,333.15 631.85,341.25" fill="#e377c2" fill-opacity="0.5" stroke="#e377c2" stroke-opacity="0.5" stroke-width="1.39"/>
<text transform="scale(1.0278,1)" x="640.98 650.87 660.74 669.78 679.28 687.63 696.71 700.98 706.13 715.63 725.55 733.94 742.32" y="340.80" font-size="14.4">NHANES (n=79)</text>
<polygon points="635.90,352.65 632.05,355.45 633.52,359.98 638.28,359.98 639.75,355.45" fill="#7f7f7f" fill-opacity="0.5" stroke="#7f7f7f" stroke-opacity="0.5" stroke-width="1.39"/>
<text transform="scale(1.0792,1)" x="610.40 619.75 627.63 639.76 651.76 659.65 667.73 671.50 676.07 679.23 686.71 693.53 697.54 702.31 711.27 720.65 728.57 736.49 744.49" y="360.50" font-size="14.4">Communities (n=101)</text>
</svg></body></html>
